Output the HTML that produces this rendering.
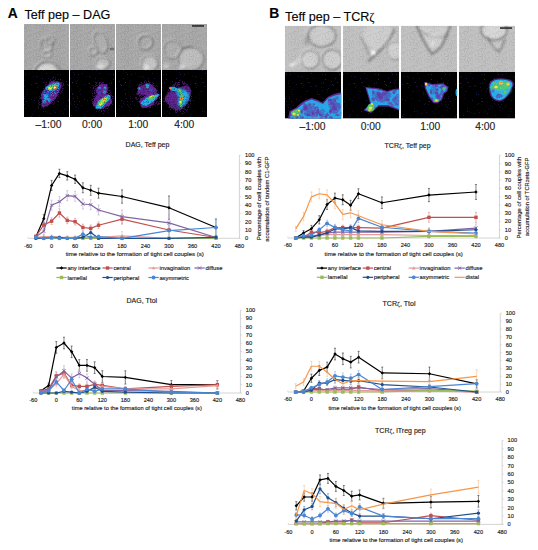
<!DOCTYPE html>
<html><head><meta charset="utf-8"><style>
html,body{margin:0;padding:0;background:#fff;}
svg{display:block;font-family:"Liberation Sans", sans-serif;}
text{stroke:#222;stroke-width:0.15px;}
</style></head><body>
<svg width="538" height="550" viewBox="0 0 538 550">
<defs><pattern id="mix" width="29" height="29" patternUnits="userSpaceOnUse"><ellipse cx="13.1" cy="16.2" rx="2.3" ry="1.5" fill="#6a2aa0" opacity="0.80"/><ellipse cx="17.0" cy="5.4" rx="1.6" ry="1.8" fill="#6a2aa0" opacity="0.92"/><ellipse cx="2.7" cy="8.8" rx="0.9" ry="2.1" fill="#6a2aa0" opacity="0.88"/><ellipse cx="1.2" cy="28.5" rx="2.3" ry="1.8" fill="#6a2aa0" opacity="0.85"/><ellipse cx="4.6" cy="0.4" rx="1.6" ry="0.9" fill="#6a2aa0" opacity="0.68"/><ellipse cx="7.0" cy="0.9" rx="1.5" ry="1.5" fill="#6a2aa0" opacity="0.94"/><ellipse cx="15.1" cy="18.6" rx="1.6" ry="1.9" fill="#6a2aa0" opacity="0.78"/><ellipse cx="8.1" cy="28.9" rx="2.4" ry="2.1" fill="#6a2aa0" opacity="0.88"/><ellipse cx="9.1" cy="6.7" rx="1.3" ry="0.9" fill="#6a2aa0" opacity="0.91"/><ellipse cx="11.6" cy="24.6" rx="1.4" ry="2.3" fill="#6a2aa0" opacity="0.94"/><ellipse cx="0.0" cy="6.1" rx="2.3" ry="1.6" fill="#6a2aa0" opacity="0.99"/><ellipse cx="11.5" cy="2.1" rx="1.8" ry="2.0" fill="#6a2aa0" opacity="0.71"/><ellipse cx="2.5" cy="9.6" rx="2.3" ry="2.0" fill="#6a2aa0" opacity="0.65"/><ellipse cx="7.1" cy="2.9" rx="0.9" ry="2.1" fill="#6a2aa0" opacity="0.67"/><ellipse cx="16.2" cy="13.0" rx="1.1" ry="2.0" fill="#6a2aa0" opacity="0.65"/><ellipse cx="18.7" cy="3.4" rx="1.5" ry="1.1" fill="#6a2aa0" opacity="0.71"/><ellipse cx="28.2" cy="23.3" rx="1.3" ry="2.2" fill="#6a2aa0" opacity="0.68"/><ellipse cx="11.4" cy="24.8" rx="1.8" ry="1.0" fill="#6a2aa0" opacity="1.00"/><ellipse cx="6.2" cy="7.5" rx="2.0" ry="1.3" fill="#6a2aa0" opacity="0.72"/><ellipse cx="2.1" cy="2.6" rx="1.7" ry="1.2" fill="#6a2aa0" opacity="0.84"/><ellipse cx="10.8" cy="13.1" rx="2.3" ry="1.6" fill="#6a2aa0" opacity="0.83"/><ellipse cx="25.1" cy="5.3" rx="1.0" ry="2.3" fill="#6a2aa0" opacity="0.93"/><ellipse cx="7.2" cy="5.5" rx="2.0" ry="2.3" fill="#6a2aa0" opacity="0.68"/><ellipse cx="27.6" cy="25.6" rx="1.8" ry="1.5" fill="#6a2aa0" opacity="0.64"/><ellipse cx="1.1" cy="27.9" rx="1.2" ry="1.9" fill="#6a2aa0" opacity="0.70"/><ellipse cx="23.9" cy="17.3" rx="1.3" ry="1.1" fill="#6a2aa0" opacity="0.89"/><ellipse cx="2.0" cy="6.6" rx="1.7" ry="2.2" fill="#6a2aa0" opacity="0.85"/><ellipse cx="8.1" cy="26.6" rx="1.1" ry="0.8" fill="#6a2aa0" opacity="0.71"/><ellipse cx="12.9" cy="1.8" rx="1.1" ry="1.4" fill="#6a2aa0" opacity="0.83"/><ellipse cx="3.8" cy="10.5" rx="2.2" ry="2.4" fill="#6a2aa0" opacity="0.86"/><ellipse cx="20.0" cy="16.9" rx="1.0" ry="0.9" fill="#6a2aa0" opacity="0.61"/><ellipse cx="26.4" cy="20.3" rx="2.3" ry="0.8" fill="#6a2aa0" opacity="0.85"/><ellipse cx="14.0" cy="21.2" rx="1.3" ry="2.4" fill="#6a2aa0" opacity="0.63"/><ellipse cx="15.8" cy="21.4" rx="2.2" ry="2.0" fill="#6a2aa0" opacity="0.88"/><ellipse cx="23.0" cy="26.5" rx="1.4" ry="1.9" fill="#6a2aa0" opacity="0.96"/><ellipse cx="25.3" cy="12.1" rx="2.1" ry="2.2" fill="#6a2aa0" opacity="0.83"/><ellipse cx="18.1" cy="11.1" rx="1.7" ry="1.8" fill="#6a2aa0" opacity="0.63"/><ellipse cx="18.5" cy="28.8" rx="2.2" ry="2.0" fill="#6a2aa0" opacity="0.76"/></pattern><pattern id="gn" width="17" height="17" patternUnits="userSpaceOnUse"><rect x="3" y="0" width="1" height="1" fill="#fff" opacity="0.05"/><rect x="5" y="0" width="1" height="1" fill="#000" opacity="0.06"/><rect x="11" y="0" width="1" height="1" fill="#fff" opacity="0.06"/><rect x="12" y="0" width="1" height="1" fill="#000" opacity="0.05"/><rect x="14" y="0" width="1" height="1" fill="#000" opacity="0.04"/><rect x="15" y="0" width="1" height="1" fill="#fff" opacity="0.08"/><rect x="0" y="1" width="1" height="1" fill="#fff" opacity="0.06"/><rect x="2" y="1" width="1" height="1" fill="#000" opacity="0.05"/><rect x="3" y="1" width="1" height="1" fill="#fff" opacity="0.09"/><rect x="4" y="1" width="1" height="1" fill="#fff" opacity="0.06"/><rect x="7" y="1" width="1" height="1" fill="#000" opacity="0.05"/><rect x="8" y="1" width="1" height="1" fill="#fff" opacity="0.09"/><rect x="10" y="1" width="1" height="1" fill="#fff" opacity="0.06"/><rect x="11" y="1" width="1" height="1" fill="#000" opacity="0.05"/><rect x="13" y="1" width="1" height="1" fill="#000" opacity="0.05"/><rect x="0" y="2" width="1" height="1" fill="#fff" opacity="0.10"/><rect x="2" y="2" width="1" height="1" fill="#000" opacity="0.03"/><rect x="3" y="2" width="1" height="1" fill="#fff" opacity="0.04"/><rect x="8" y="2" width="1" height="1" fill="#000" opacity="0.04"/><rect x="10" y="2" width="1" height="1" fill="#000" opacity="0.07"/><rect x="12" y="2" width="1" height="1" fill="#000" opacity="0.03"/><rect x="0" y="3" width="1" height="1" fill="#fff" opacity="0.10"/><rect x="2" y="3" width="1" height="1" fill="#000" opacity="0.05"/><rect x="3" y="3" width="1" height="1" fill="#000" opacity="0.03"/><rect x="6" y="3" width="1" height="1" fill="#000" opacity="0.04"/><rect x="14" y="3" width="1" height="1" fill="#fff" opacity="0.05"/><rect x="15" y="3" width="1" height="1" fill="#fff" opacity="0.08"/><rect x="16" y="3" width="1" height="1" fill="#000" opacity="0.05"/><rect x="1" y="4" width="1" height="1" fill="#fff" opacity="0.06"/><rect x="3" y="4" width="1" height="1" fill="#fff" opacity="0.09"/><rect x="4" y="4" width="1" height="1" fill="#fff" opacity="0.07"/><rect x="6" y="4" width="1" height="1" fill="#000" opacity="0.07"/><rect x="7" y="4" width="1" height="1" fill="#fff" opacity="0.08"/><rect x="9" y="4" width="1" height="1" fill="#000" opacity="0.07"/><rect x="10" y="4" width="1" height="1" fill="#fff" opacity="0.10"/><rect x="14" y="4" width="1" height="1" fill="#fff" opacity="0.09"/><rect x="16" y="4" width="1" height="1" fill="#000" opacity="0.05"/><rect x="3" y="5" width="1" height="1" fill="#000" opacity="0.07"/><rect x="4" y="5" width="1" height="1" fill="#000" opacity="0.07"/><rect x="5" y="5" width="1" height="1" fill="#000" opacity="0.05"/><rect x="7" y="5" width="1" height="1" fill="#000" opacity="0.04"/><rect x="10" y="5" width="1" height="1" fill="#fff" opacity="0.08"/><rect x="11" y="5" width="1" height="1" fill="#fff" opacity="0.07"/><rect x="12" y="5" width="1" height="1" fill="#fff" opacity="0.05"/><rect x="2" y="6" width="1" height="1" fill="#fff" opacity="0.07"/><rect x="5" y="6" width="1" height="1" fill="#fff" opacity="0.09"/><rect x="6" y="6" width="1" height="1" fill="#000" opacity="0.07"/><rect x="7" y="6" width="1" height="1" fill="#fff" opacity="0.07"/><rect x="9" y="6" width="1" height="1" fill="#000" opacity="0.06"/><rect x="12" y="6" width="1" height="1" fill="#000" opacity="0.08"/><rect x="15" y="6" width="1" height="1" fill="#fff" opacity="0.07"/><rect x="1" y="7" width="1" height="1" fill="#000" opacity="0.06"/><rect x="3" y="7" width="1" height="1" fill="#fff" opacity="0.10"/><rect x="6" y="7" width="1" height="1" fill="#000" opacity="0.05"/><rect x="7" y="7" width="1" height="1" fill="#fff" opacity="0.09"/><rect x="10" y="7" width="1" height="1" fill="#000" opacity="0.06"/><rect x="11" y="7" width="1" height="1" fill="#fff" opacity="0.05"/><rect x="13" y="7" width="1" height="1" fill="#000" opacity="0.04"/><rect x="2" y="8" width="1" height="1" fill="#000" opacity="0.07"/><rect x="3" y="8" width="1" height="1" fill="#000" opacity="0.06"/><rect x="5" y="8" width="1" height="1" fill="#000" opacity="0.06"/><rect x="10" y="8" width="1" height="1" fill="#000" opacity="0.04"/><rect x="14" y="8" width="1" height="1" fill="#fff" opacity="0.08"/><rect x="15" y="8" width="1" height="1" fill="#fff" opacity="0.05"/><rect x="0" y="9" width="1" height="1" fill="#fff" opacity="0.09"/><rect x="3" y="9" width="1" height="1" fill="#fff" opacity="0.05"/><rect x="4" y="9" width="1" height="1" fill="#fff" opacity="0.09"/><rect x="5" y="9" width="1" height="1" fill="#000" opacity="0.04"/><rect x="8" y="9" width="1" height="1" fill="#000" opacity="0.07"/><rect x="11" y="9" width="1" height="1" fill="#000" opacity="0.05"/><rect x="13" y="9" width="1" height="1" fill="#000" opacity="0.04"/><rect x="15" y="9" width="1" height="1" fill="#fff" opacity="0.10"/><rect x="16" y="9" width="1" height="1" fill="#000" opacity="0.06"/><rect x="3" y="10" width="1" height="1" fill="#000" opacity="0.03"/><rect x="4" y="10" width="1" height="1" fill="#000" opacity="0.03"/><rect x="8" y="10" width="1" height="1" fill="#000" opacity="0.04"/><rect x="9" y="10" width="1" height="1" fill="#000" opacity="0.07"/><rect x="10" y="10" width="1" height="1" fill="#fff" opacity="0.10"/><rect x="11" y="10" width="1" height="1" fill="#000" opacity="0.03"/><rect x="12" y="10" width="1" height="1" fill="#fff" opacity="0.07"/><rect x="2" y="11" width="1" height="1" fill="#000" opacity="0.07"/><rect x="3" y="11" width="1" height="1" fill="#fff" opacity="0.05"/><rect x="7" y="11" width="1" height="1" fill="#000" opacity="0.04"/><rect x="9" y="11" width="1" height="1" fill="#000" opacity="0.07"/><rect x="10" y="11" width="1" height="1" fill="#fff" opacity="0.08"/><rect x="11" y="11" width="1" height="1" fill="#fff" opacity="0.08"/><rect x="15" y="11" width="1" height="1" fill="#fff" opacity="0.09"/><rect x="0" y="12" width="1" height="1" fill="#fff" opacity="0.08"/><rect x="2" y="12" width="1" height="1" fill="#fff" opacity="0.06"/><rect x="3" y="12" width="1" height="1" fill="#fff" opacity="0.09"/><rect x="9" y="12" width="1" height="1" fill="#000" opacity="0.05"/><rect x="11" y="12" width="1" height="1" fill="#000" opacity="0.05"/><rect x="15" y="12" width="1" height="1" fill="#fff" opacity="0.08"/><rect x="4" y="13" width="1" height="1" fill="#fff" opacity="0.08"/><rect x="7" y="13" width="1" height="1" fill="#fff" opacity="0.04"/><rect x="12" y="13" width="1" height="1" fill="#000" opacity="0.04"/><rect x="14" y="13" width="1" height="1" fill="#000" opacity="0.04"/><rect x="15" y="13" width="1" height="1" fill="#fff" opacity="0.07"/><rect x="0" y="14" width="1" height="1" fill="#fff" opacity="0.07"/><rect x="1" y="14" width="1" height="1" fill="#fff" opacity="0.08"/><rect x="2" y="14" width="1" height="1" fill="#fff" opacity="0.04"/><rect x="5" y="14" width="1" height="1" fill="#000" opacity="0.08"/><rect x="6" y="14" width="1" height="1" fill="#000" opacity="0.05"/><rect x="7" y="14" width="1" height="1" fill="#000" opacity="0.05"/><rect x="9" y="14" width="1" height="1" fill="#000" opacity="0.08"/><rect x="3" y="15" width="1" height="1" fill="#000" opacity="0.04"/><rect x="4" y="15" width="1" height="1" fill="#000" opacity="0.04"/><rect x="7" y="15" width="1" height="1" fill="#fff" opacity="0.08"/><rect x="8" y="15" width="1" height="1" fill="#000" opacity="0.08"/><rect x="9" y="15" width="1" height="1" fill="#fff" opacity="0.04"/><rect x="10" y="15" width="1" height="1" fill="#fff" opacity="0.07"/><rect x="12" y="15" width="1" height="1" fill="#fff" opacity="0.05"/><rect x="14" y="15" width="1" height="1" fill="#fff" opacity="0.08"/><rect x="16" y="15" width="1" height="1" fill="#fff" opacity="0.09"/><rect x="1" y="16" width="1" height="1" fill="#000" opacity="0.06"/><rect x="3" y="16" width="1" height="1" fill="#000" opacity="0.03"/><rect x="5" y="16" width="1" height="1" fill="#000" opacity="0.05"/><rect x="13" y="16" width="1" height="1" fill="#fff" opacity="0.10"/><rect x="16" y="16" width="1" height="1" fill="#000" opacity="0.07"/></pattern><pattern id="spk" width="53" height="53" patternUnits="userSpaceOnUse"><rect x="50" y="32" width="1" height="1" fill="#24306e" opacity="0.50"/><rect x="17" y="17" width="1" height="1" fill="#24306e" opacity="0.44"/><rect x="36" y="44" width="1" height="1" fill="#24306e" opacity="0.27"/><rect x="17" y="48" width="1" height="1" fill="#4a2a8c" opacity="0.27"/><rect x="15" y="32" width="1" height="1" fill="#6a3aa0" opacity="0.52"/><rect x="43" y="2" width="1" height="1" fill="#6a3aa0" opacity="0.22"/><rect x="17" y="16" width="1" height="1" fill="#5c3a98" opacity="0.21"/><rect x="2" y="6" width="1" height="1" fill="#4a2a8c" opacity="0.39"/><rect x="4" y="48" width="1" height="1" fill="#3b1d6e" opacity="0.52"/><rect x="10" y="35" width="1" height="1" fill="#4a2a8c" opacity="0.42"/><rect x="23" y="30" width="1" height="1" fill="#5c3a98" opacity="0.32"/><rect x="21" y="21" width="1" height="1" fill="#5c3a98" opacity="0.46"/><rect x="4" y="51" width="1" height="1" fill="#3b1d6e" opacity="0.36"/><rect x="52" y="39" width="1" height="1" fill="#1e4080" opacity="0.47"/><rect x="13" y="28" width="1" height="1" fill="#5c3a98" opacity="0.46"/><rect x="24" y="51" width="1" height="1" fill="#4a2a8c" opacity="0.33"/><rect x="41" y="38" width="1" height="1" fill="#2a2a70" opacity="0.30"/><rect x="48" y="47" width="1" height="1" fill="#1e4080" opacity="0.52"/><rect x="27" y="41" width="1" height="1" fill="#2a2a70" opacity="0.40"/><rect x="29" y="20" width="1" height="1" fill="#3b1d6e" opacity="0.39"/><rect x="27" y="36" width="1" height="1" fill="#24306e" opacity="0.37"/><rect x="43" y="29" width="1" height="1" fill="#2a2a70" opacity="0.49"/><rect x="0" y="4" width="1" height="1" fill="#2a2a70" opacity="0.27"/><rect x="42" y="38" width="1" height="1" fill="#3b1d6e" opacity="0.44"/><rect x="31" y="46" width="1" height="1" fill="#1e4080" opacity="0.44"/><rect x="18" y="9" width="1" height="1" fill="#4a2a8c" opacity="0.33"/><rect x="46" y="20" width="1" height="1" fill="#2a2a70" opacity="0.52"/><rect x="20" y="45" width="1" height="1" fill="#5c3a98" opacity="0.40"/><rect x="43" y="17" width="1" height="1" fill="#5c3a98" opacity="0.39"/><rect x="19" y="29" width="1" height="1" fill="#2a2a70" opacity="0.28"/><rect x="46" y="33" width="1" height="1" fill="#4a2a8c" opacity="0.23"/><rect x="23" y="1" width="1" height="1" fill="#2a2a70" opacity="0.44"/><rect x="37" y="24" width="1" height="1" fill="#1e4080" opacity="0.27"/><rect x="36" y="23" width="1" height="1" fill="#1e4080" opacity="0.34"/><rect x="9" y="37" width="1" height="1" fill="#24306e" opacity="0.26"/><rect x="5" y="48" width="1" height="1" fill="#5c3a98" opacity="0.51"/><rect x="18" y="51" width="1" height="1" fill="#3b1d6e" opacity="0.28"/><rect x="3" y="34" width="1" height="1" fill="#4a2a8c" opacity="0.40"/><rect x="1" y="41" width="1" height="1" fill="#1e4080" opacity="0.48"/><rect x="4" y="37" width="1" height="1" fill="#24306e" opacity="0.31"/><rect x="34" y="5" width="1" height="1" fill="#2a2a70" opacity="0.23"/><rect x="47" y="6" width="1" height="1" fill="#2a2a70" opacity="0.23"/><rect x="40" y="41" width="1" height="1" fill="#4a2a8c" opacity="0.23"/><rect x="52" y="41" width="1" height="1" fill="#5c3a98" opacity="0.29"/><rect x="14" y="31" width="1" height="1" fill="#1e4080" opacity="0.52"/><rect x="21" y="48" width="1" height="1" fill="#5c3a98" opacity="0.34"/><rect x="21" y="51" width="1" height="1" fill="#2a2a70" opacity="0.44"/><rect x="31" y="31" width="1" height="1" fill="#24306e" opacity="0.48"/><rect x="4" y="45" width="1" height="1" fill="#24306e" opacity="0.52"/><rect x="26" y="48" width="1" height="1" fill="#1e4080" opacity="0.54"/><rect x="22" y="0" width="1" height="1" fill="#1e4080" opacity="0.33"/><rect x="5" y="29" width="1" height="1" fill="#24306e" opacity="0.42"/><rect x="33" y="23" width="1" height="1" fill="#6a3aa0" opacity="0.20"/><rect x="7" y="26" width="1" height="1" fill="#5c3a98" opacity="0.52"/><rect x="15" y="47" width="1" height="1" fill="#4a2a8c" opacity="0.55"/><rect x="24" y="43" width="1" height="1" fill="#4a2a8c" opacity="0.31"/><rect x="24" y="27" width="1" height="1" fill="#24306e" opacity="0.30"/><rect x="3" y="30" width="1" height="1" fill="#2a2a70" opacity="0.46"/><rect x="19" y="41" width="1" height="1" fill="#4a2a8c" opacity="0.47"/><rect x="11" y="3" width="1" height="1" fill="#1e4080" opacity="0.36"/><rect x="37" y="30" width="1" height="1" fill="#1e4080" opacity="0.21"/><rect x="6" y="12" width="1" height="1" fill="#4a2a8c" opacity="0.33"/><rect x="37" y="15" width="1" height="1" fill="#24306e" opacity="0.45"/><rect x="38" y="32" width="1" height="1" fill="#4a2a8c" opacity="0.35"/><rect x="17" y="25" width="1" height="1" fill="#4a2a8c" opacity="0.52"/><rect x="19" y="40" width="1" height="1" fill="#24306e" opacity="0.53"/><rect x="35" y="30" width="1" height="1" fill="#1e4080" opacity="0.29"/><rect x="25" y="21" width="1" height="1" fill="#6a3aa0" opacity="0.39"/><rect x="5" y="30" width="1" height="1" fill="#1e4080" opacity="0.28"/><rect x="3" y="13" width="1" height="1" fill="#4a2a8c" opacity="0.48"/><rect x="24" y="33" width="1" height="1" fill="#1e4080" opacity="0.38"/><rect x="17" y="50" width="1" height="1" fill="#3b1d6e" opacity="0.43"/><rect x="15" y="0" width="1" height="1" fill="#1e4080" opacity="0.37"/><rect x="23" y="28" width="1" height="1" fill="#1e4080" opacity="0.29"/><rect x="26" y="38" width="1" height="1" fill="#1e4080" opacity="0.26"/><rect x="10" y="49" width="1" height="1" fill="#2a2a70" opacity="0.25"/><rect x="51" y="33" width="1" height="1" fill="#4a2a8c" opacity="0.42"/><rect x="39" y="17" width="1" height="1" fill="#24306e" opacity="0.39"/><rect x="9" y="36" width="1" height="1" fill="#1e4080" opacity="0.26"/><rect x="13" y="52" width="1" height="1" fill="#1e4080" opacity="0.25"/><rect x="8" y="5" width="1" height="1" fill="#2a2a70" opacity="0.29"/><rect x="45" y="33" width="1" height="1" fill="#3b1d6e" opacity="0.51"/><rect x="44" y="29" width="1" height="1" fill="#3b1d6e" opacity="0.53"/><rect x="37" y="34" width="1" height="1" fill="#1e4080" opacity="0.38"/><rect x="1" y="50" width="1" height="1" fill="#4a2a8c" opacity="0.35"/><rect x="43" y="5" width="1" height="1" fill="#1e4080" opacity="0.49"/><rect x="13" y="2" width="1" height="1" fill="#24306e" opacity="0.34"/><rect x="31" y="10" width="1" height="1" fill="#1e4080" opacity="0.54"/><rect x="20" y="19" width="1" height="1" fill="#5c3a98" opacity="0.23"/><rect x="19" y="29" width="1" height="1" fill="#6a3aa0" opacity="0.45"/><rect x="23" y="4" width="1" height="1" fill="#6a3aa0" opacity="0.25"/><rect x="42" y="25" width="1" height="1" fill="#6a3aa0" opacity="0.36"/><rect x="50" y="7" width="1" height="1" fill="#6a3aa0" opacity="0.36"/><rect x="24" y="45" width="1" height="1" fill="#6a3aa0" opacity="0.37"/><rect x="18" y="36" width="1" height="1" fill="#3b1d6e" opacity="0.36"/><rect x="0" y="51" width="1" height="1" fill="#6a3aa0" opacity="0.27"/><rect x="39" y="9" width="1" height="1" fill="#2a2a70" opacity="0.42"/><rect x="34" y="47" width="1" height="1" fill="#2a2a70" opacity="0.53"/><rect x="48" y="25" width="1" height="1" fill="#24306e" opacity="0.43"/><rect x="16" y="12" width="1" height="1" fill="#4a2a8c" opacity="0.33"/><rect x="7" y="21" width="1" height="1" fill="#2a2a70" opacity="0.53"/><rect x="36" y="30" width="1" height="1" fill="#6a3aa0" opacity="0.42"/><rect x="28" y="52" width="1" height="1" fill="#5c3a98" opacity="0.23"/><rect x="9" y="39" width="1" height="1" fill="#3b1d6e" opacity="0.25"/><rect x="40" y="45" width="1" height="1" fill="#4a2a8c" opacity="0.26"/><rect x="25" y="2" width="1" height="1" fill="#1e4080" opacity="0.36"/><rect x="45" y="5" width="1" height="1" fill="#3b1d6e" opacity="0.28"/><rect x="10" y="7" width="1" height="1" fill="#5c3a98" opacity="0.34"/><rect x="4" y="21" width="1" height="1" fill="#1e4080" opacity="0.35"/><rect x="32" y="8" width="1" height="1" fill="#6a3aa0" opacity="0.27"/></pattern><pattern id="mott" width="19" height="19" patternUnits="userSpaceOnUse"><rect x="0" y="0" width="1" height="1" fill="#7a2aa8" opacity="0.85"/><rect x="6" y="0" width="1" height="1" fill="#7a2aa8" opacity="0.89"/><rect x="7" y="0" width="1" height="1" fill="#7a2aa8" opacity="0.99"/><rect x="9" y="0" width="1" height="1" fill="#7a2aa8" opacity="0.59"/><rect x="10" y="0" width="1" height="1" fill="#7a2aa8" opacity="0.72"/><rect x="12" y="0" width="1" height="1" fill="#7a2aa8" opacity="0.67"/><rect x="13" y="0" width="1" height="1" fill="#7a2aa8" opacity="0.55"/><rect x="15" y="0" width="1" height="1" fill="#7a2aa8" opacity="0.77"/><rect x="16" y="0" width="1" height="1" fill="#7a2aa8" opacity="0.62"/><rect x="1" y="1" width="1" height="1" fill="#7a2aa8" opacity="0.97"/><rect x="6" y="1" width="1" height="1" fill="#7a2aa8" opacity="0.83"/><rect x="8" y="1" width="1" height="1" fill="#7a2aa8" opacity="0.74"/><rect x="11" y="1" width="1" height="1" fill="#7a2aa8" opacity="0.94"/><rect x="12" y="1" width="1" height="1" fill="#7a2aa8" opacity="0.94"/><rect x="15" y="1" width="1" height="1" fill="#7a2aa8" opacity="0.78"/><rect x="17" y="1" width="1" height="1" fill="#7a2aa8" opacity="0.96"/><rect x="18" y="1" width="1" height="1" fill="#7a2aa8" opacity="0.87"/><rect x="2" y="2" width="1" height="1" fill="#7a2aa8" opacity="0.97"/><rect x="3" y="2" width="1" height="1" fill="#7a2aa8" opacity="0.84"/><rect x="7" y="2" width="1" height="1" fill="#7a2aa8" opacity="0.80"/><rect x="14" y="2" width="1" height="1" fill="#7a2aa8" opacity="0.88"/><rect x="1" y="3" width="1" height="1" fill="#7a2aa8" opacity="0.71"/><rect x="2" y="3" width="1" height="1" fill="#7a2aa8" opacity="0.76"/><rect x="3" y="3" width="1" height="1" fill="#7a2aa8" opacity="0.70"/><rect x="5" y="3" width="1" height="1" fill="#7a2aa8" opacity="0.62"/><rect x="7" y="3" width="1" height="1" fill="#7a2aa8" opacity="0.89"/><rect x="12" y="3" width="1" height="1" fill="#7a2aa8" opacity="0.67"/><rect x="17" y="3" width="1" height="1" fill="#7a2aa8" opacity="0.94"/><rect x="3" y="4" width="1" height="1" fill="#7a2aa8" opacity="0.56"/><rect x="8" y="4" width="1" height="1" fill="#7a2aa8" opacity="0.95"/><rect x="9" y="4" width="1" height="1" fill="#7a2aa8" opacity="0.81"/><rect x="12" y="4" width="1" height="1" fill="#7a2aa8" opacity="0.89"/><rect x="15" y="4" width="1" height="1" fill="#7a2aa8" opacity="0.92"/><rect x="16" y="4" width="1" height="1" fill="#7a2aa8" opacity="0.94"/><rect x="0" y="5" width="1" height="1" fill="#7a2aa8" opacity="0.95"/><rect x="11" y="5" width="1" height="1" fill="#7a2aa8" opacity="0.82"/><rect x="13" y="5" width="1" height="1" fill="#7a2aa8" opacity="0.54"/><rect x="15" y="5" width="1" height="1" fill="#7a2aa8" opacity="0.94"/><rect x="18" y="5" width="1" height="1" fill="#7a2aa8" opacity="0.86"/><rect x="0" y="6" width="1" height="1" fill="#7a2aa8" opacity="0.59"/><rect x="4" y="6" width="1" height="1" fill="#7a2aa8" opacity="0.85"/><rect x="5" y="6" width="1" height="1" fill="#7a2aa8" opacity="0.65"/><rect x="7" y="6" width="1" height="1" fill="#7a2aa8" opacity="0.66"/><rect x="8" y="6" width="1" height="1" fill="#7a2aa8" opacity="0.89"/><rect x="11" y="6" width="1" height="1" fill="#7a2aa8" opacity="0.93"/><rect x="13" y="6" width="1" height="1" fill="#7a2aa8" opacity="0.66"/><rect x="16" y="6" width="1" height="1" fill="#7a2aa8" opacity="0.82"/><rect x="1" y="7" width="1" height="1" fill="#7a2aa8" opacity="0.97"/><rect x="4" y="7" width="1" height="1" fill="#7a2aa8" opacity="0.91"/><rect x="6" y="7" width="1" height="1" fill="#7a2aa8" opacity="0.71"/><rect x="12" y="7" width="1" height="1" fill="#7a2aa8" opacity="0.93"/><rect x="13" y="7" width="1" height="1" fill="#7a2aa8" opacity="0.85"/><rect x="14" y="7" width="1" height="1" fill="#7a2aa8" opacity="0.86"/><rect x="16" y="7" width="1" height="1" fill="#7a2aa8" opacity="0.64"/><rect x="0" y="8" width="1" height="1" fill="#7a2aa8" opacity="0.76"/><rect x="3" y="8" width="1" height="1" fill="#7a2aa8" opacity="0.61"/><rect x="4" y="8" width="1" height="1" fill="#7a2aa8" opacity="0.83"/><rect x="6" y="8" width="1" height="1" fill="#7a2aa8" opacity="0.96"/><rect x="7" y="8" width="1" height="1" fill="#7a2aa8" opacity="0.95"/><rect x="8" y="8" width="1" height="1" fill="#7a2aa8" opacity="0.79"/><rect x="12" y="8" width="1" height="1" fill="#7a2aa8" opacity="0.99"/><rect x="13" y="8" width="1" height="1" fill="#7a2aa8" opacity="0.59"/><rect x="15" y="8" width="1" height="1" fill="#7a2aa8" opacity="0.90"/><rect x="16" y="8" width="1" height="1" fill="#7a2aa8" opacity="0.95"/><rect x="1" y="9" width="1" height="1" fill="#7a2aa8" opacity="0.95"/><rect x="2" y="9" width="1" height="1" fill="#7a2aa8" opacity="0.53"/><rect x="5" y="9" width="1" height="1" fill="#7a2aa8" opacity="0.74"/><rect x="6" y="9" width="1" height="1" fill="#7a2aa8" opacity="0.65"/><rect x="14" y="9" width="1" height="1" fill="#7a2aa8" opacity="0.72"/><rect x="17" y="9" width="1" height="1" fill="#7a2aa8" opacity="0.86"/><rect x="0" y="10" width="1" height="1" fill="#7a2aa8" opacity="0.77"/><rect x="3" y="10" width="1" height="1" fill="#7a2aa8" opacity="0.60"/><rect x="5" y="10" width="1" height="1" fill="#7a2aa8" opacity="0.72"/><rect x="7" y="10" width="1" height="1" fill="#7a2aa8" opacity="0.80"/><rect x="13" y="10" width="1" height="1" fill="#7a2aa8" opacity="0.56"/><rect x="14" y="10" width="1" height="1" fill="#7a2aa8" opacity="0.82"/><rect x="18" y="10" width="1" height="1" fill="#7a2aa8" opacity="0.71"/><rect x="9" y="11" width="1" height="1" fill="#7a2aa8" opacity="0.75"/><rect x="13" y="11" width="1" height="1" fill="#7a2aa8" opacity="0.73"/><rect x="17" y="11" width="1" height="1" fill="#7a2aa8" opacity="0.88"/><rect x="0" y="12" width="1" height="1" fill="#7a2aa8" opacity="0.87"/><rect x="3" y="12" width="1" height="1" fill="#7a2aa8" opacity="0.70"/><rect x="5" y="12" width="1" height="1" fill="#7a2aa8" opacity="0.78"/><rect x="13" y="12" width="1" height="1" fill="#7a2aa8" opacity="0.56"/><rect x="16" y="12" width="1" height="1" fill="#7a2aa8" opacity="0.61"/><rect x="17" y="12" width="1" height="1" fill="#7a2aa8" opacity="0.97"/><rect x="0" y="13" width="1" height="1" fill="#7a2aa8" opacity="0.58"/><rect x="8" y="13" width="1" height="1" fill="#7a2aa8" opacity="0.93"/><rect x="10" y="13" width="1" height="1" fill="#7a2aa8" opacity="0.69"/><rect x="11" y="13" width="1" height="1" fill="#7a2aa8" opacity="0.71"/><rect x="12" y="13" width="1" height="1" fill="#7a2aa8" opacity="0.90"/><rect x="2" y="14" width="1" height="1" fill="#7a2aa8" opacity="0.74"/><rect x="5" y="14" width="1" height="1" fill="#7a2aa8" opacity="0.64"/><rect x="13" y="14" width="1" height="1" fill="#7a2aa8" opacity="0.55"/><rect x="14" y="14" width="1" height="1" fill="#7a2aa8" opacity="0.86"/><rect x="16" y="14" width="1" height="1" fill="#7a2aa8" opacity="0.62"/><rect x="18" y="14" width="1" height="1" fill="#7a2aa8" opacity="1.00"/><rect x="4" y="15" width="1" height="1" fill="#7a2aa8" opacity="0.94"/><rect x="6" y="15" width="1" height="1" fill="#7a2aa8" opacity="0.80"/><rect x="8" y="15" width="1" height="1" fill="#7a2aa8" opacity="0.76"/><rect x="9" y="15" width="1" height="1" fill="#7a2aa8" opacity="0.60"/><rect x="15" y="15" width="1" height="1" fill="#7a2aa8" opacity="0.73"/><rect x="2" y="16" width="1" height="1" fill="#7a2aa8" opacity="0.76"/><rect x="4" y="16" width="1" height="1" fill="#7a2aa8" opacity="0.69"/><rect x="6" y="16" width="1" height="1" fill="#7a2aa8" opacity="0.92"/><rect x="9" y="16" width="1" height="1" fill="#7a2aa8" opacity="0.88"/><rect x="12" y="16" width="1" height="1" fill="#7a2aa8" opacity="0.93"/><rect x="15" y="16" width="1" height="1" fill="#7a2aa8" opacity="0.89"/><rect x="18" y="16" width="1" height="1" fill="#7a2aa8" opacity="0.90"/><rect x="0" y="17" width="1" height="1" fill="#7a2aa8" opacity="0.75"/><rect x="3" y="17" width="1" height="1" fill="#7a2aa8" opacity="0.85"/><rect x="4" y="17" width="1" height="1" fill="#7a2aa8" opacity="0.96"/><rect x="5" y="17" width="1" height="1" fill="#7a2aa8" opacity="0.88"/><rect x="13" y="17" width="1" height="1" fill="#7a2aa8" opacity="0.93"/><rect x="14" y="17" width="1" height="1" fill="#7a2aa8" opacity="0.96"/><rect x="16" y="17" width="1" height="1" fill="#7a2aa8" opacity="0.95"/><rect x="18" y="17" width="1" height="1" fill="#7a2aa8" opacity="0.69"/><rect x="1" y="18" width="1" height="1" fill="#7a2aa8" opacity="0.86"/><rect x="3" y="18" width="1" height="1" fill="#7a2aa8" opacity="0.52"/><rect x="4" y="18" width="1" height="1" fill="#7a2aa8" opacity="0.69"/><rect x="5" y="18" width="1" height="1" fill="#7a2aa8" opacity="0.91"/><rect x="11" y="18" width="1" height="1" fill="#7a2aa8" opacity="0.85"/><rect x="12" y="18" width="1" height="1" fill="#7a2aa8" opacity="0.54"/><rect x="13" y="18" width="1" height="1" fill="#7a2aa8" opacity="0.77"/><rect x="15" y="18" width="1" height="1" fill="#7a2aa8" opacity="0.53"/></pattern><pattern id="mott2" width="17" height="17" patternUnits="userSpaceOnUse"><rect x="6" y="0" width="1" height="1" fill="#2a9ae0" opacity="0.80"/><rect x="9" y="0" width="1" height="1" fill="#2a9ae0" opacity="0.76"/><rect x="12" y="0" width="1" height="1" fill="#2a9ae0" opacity="0.77"/><rect x="15" y="0" width="1" height="1" fill="#2a9ae0" opacity="0.91"/><rect x="3" y="1" width="1" height="1" fill="#2a9ae0" opacity="0.51"/><rect x="5" y="1" width="1" height="1" fill="#2a9ae0" opacity="0.70"/><rect x="6" y="1" width="1" height="1" fill="#2a9ae0" opacity="0.60"/><rect x="7" y="1" width="1" height="1" fill="#2a9ae0" opacity="0.67"/><rect x="11" y="2" width="1" height="1" fill="#2a9ae0" opacity="0.81"/><rect x="5" y="3" width="1" height="1" fill="#2a9ae0" opacity="0.93"/><rect x="6" y="3" width="1" height="1" fill="#2a9ae0" opacity="0.78"/><rect x="7" y="3" width="1" height="1" fill="#2a9ae0" opacity="0.99"/><rect x="9" y="3" width="1" height="1" fill="#2a9ae0" opacity="0.87"/><rect x="11" y="3" width="1" height="1" fill="#2a9ae0" opacity="0.60"/><rect x="9" y="4" width="1" height="1" fill="#2a9ae0" opacity="0.58"/><rect x="12" y="4" width="1" height="1" fill="#2a9ae0" opacity="0.68"/><rect x="2" y="5" width="1" height="1" fill="#2a9ae0" opacity="0.53"/><rect x="6" y="5" width="1" height="1" fill="#2a9ae0" opacity="0.86"/><rect x="8" y="5" width="1" height="1" fill="#2a9ae0" opacity="0.79"/><rect x="10" y="5" width="1" height="1" fill="#2a9ae0" opacity="0.64"/><rect x="1" y="6" width="1" height="1" fill="#2a9ae0" opacity="0.94"/><rect x="7" y="6" width="1" height="1" fill="#2a9ae0" opacity="0.60"/><rect x="10" y="6" width="1" height="1" fill="#2a9ae0" opacity="0.50"/><rect x="13" y="6" width="1" height="1" fill="#2a9ae0" opacity="0.67"/><rect x="14" y="6" width="1" height="1" fill="#2a9ae0" opacity="0.89"/><rect x="0" y="7" width="1" height="1" fill="#2a9ae0" opacity="0.68"/><rect x="3" y="7" width="1" height="1" fill="#2a9ae0" opacity="0.81"/><rect x="6" y="7" width="1" height="1" fill="#2a9ae0" opacity="0.65"/><rect x="7" y="7" width="1" height="1" fill="#2a9ae0" opacity="0.90"/><rect x="10" y="7" width="1" height="1" fill="#2a9ae0" opacity="0.93"/><rect x="15" y="7" width="1" height="1" fill="#2a9ae0" opacity="0.78"/><rect x="16" y="7" width="1" height="1" fill="#2a9ae0" opacity="0.73"/><rect x="1" y="8" width="1" height="1" fill="#2a9ae0" opacity="0.68"/><rect x="4" y="8" width="1" height="1" fill="#2a9ae0" opacity="0.96"/><rect x="0" y="9" width="1" height="1" fill="#2a9ae0" opacity="0.57"/><rect x="9" y="9" width="1" height="1" fill="#2a9ae0" opacity="0.83"/><rect x="12" y="9" width="1" height="1" fill="#2a9ae0" opacity="0.59"/><rect x="13" y="9" width="1" height="1" fill="#2a9ae0" opacity="0.57"/><rect x="15" y="9" width="1" height="1" fill="#2a9ae0" opacity="0.67"/><rect x="16" y="9" width="1" height="1" fill="#2a9ae0" opacity="0.69"/><rect x="0" y="10" width="1" height="1" fill="#2a9ae0" opacity="0.51"/><rect x="2" y="10" width="1" height="1" fill="#2a9ae0" opacity="0.55"/><rect x="6" y="10" width="1" height="1" fill="#2a9ae0" opacity="0.59"/><rect x="7" y="10" width="1" height="1" fill="#2a9ae0" opacity="0.79"/><rect x="16" y="10" width="1" height="1" fill="#2a9ae0" opacity="0.70"/><rect x="4" y="11" width="1" height="1" fill="#2a9ae0" opacity="0.87"/><rect x="7" y="11" width="1" height="1" fill="#2a9ae0" opacity="0.81"/><rect x="14" y="11" width="1" height="1" fill="#2a9ae0" opacity="0.87"/><rect x="5" y="12" width="1" height="1" fill="#2a9ae0" opacity="0.96"/><rect x="9" y="12" width="1" height="1" fill="#2a9ae0" opacity="0.53"/><rect x="15" y="12" width="1" height="1" fill="#2a9ae0" opacity="0.73"/><rect x="0" y="13" width="1" height="1" fill="#2a9ae0" opacity="0.98"/><rect x="3" y="13" width="1" height="1" fill="#2a9ae0" opacity="0.59"/><rect x="6" y="13" width="1" height="1" fill="#2a9ae0" opacity="0.56"/><rect x="7" y="13" width="1" height="1" fill="#2a9ae0" opacity="0.63"/><rect x="9" y="13" width="1" height="1" fill="#2a9ae0" opacity="0.52"/><rect x="13" y="13" width="1" height="1" fill="#2a9ae0" opacity="0.51"/><rect x="0" y="14" width="1" height="1" fill="#2a9ae0" opacity="0.55"/><rect x="4" y="14" width="1" height="1" fill="#2a9ae0" opacity="0.75"/><rect x="5" y="14" width="1" height="1" fill="#2a9ae0" opacity="0.93"/><rect x="7" y="14" width="1" height="1" fill="#2a9ae0" opacity="0.97"/><rect x="9" y="14" width="1" height="1" fill="#2a9ae0" opacity="0.67"/><rect x="12" y="14" width="1" height="1" fill="#2a9ae0" opacity="0.64"/><rect x="15" y="14" width="1" height="1" fill="#2a9ae0" opacity="0.84"/><rect x="1" y="15" width="1" height="1" fill="#2a9ae0" opacity="0.82"/><rect x="14" y="15" width="1" height="1" fill="#2a9ae0" opacity="0.60"/><rect x="16" y="15" width="1" height="1" fill="#2a9ae0" opacity="0.79"/><rect x="0" y="16" width="1" height="1" fill="#2a9ae0" opacity="0.64"/><rect x="5" y="16" width="1" height="1" fill="#2a9ae0" opacity="0.53"/><rect x="6" y="16" width="1" height="1" fill="#2a9ae0" opacity="0.86"/><rect x="9" y="16" width="1" height="1" fill="#2a9ae0" opacity="0.54"/><rect x="14" y="16" width="1" height="1" fill="#2a9ae0" opacity="0.56"/><rect x="15" y="16" width="1" height="1" fill="#2a9ae0" opacity="0.76"/></pattern><pattern id="drk" width="13" height="13" patternUnits="userSpaceOnUse"><rect x="1" y="0" width="1" height="1" fill="#000" opacity="0.46"/><rect x="4" y="0" width="1" height="1" fill="#000" opacity="0.72"/><rect x="5" y="0" width="1" height="1" fill="#000" opacity="0.64"/><rect x="6" y="0" width="1" height="1" fill="#000" opacity="0.61"/><rect x="7" y="0" width="1" height="1" fill="#000" opacity="0.72"/><rect x="12" y="0" width="1" height="1" fill="#000" opacity="0.73"/><rect x="0" y="1" width="1" height="1" fill="#000" opacity="0.71"/><rect x="1" y="1" width="1" height="1" fill="#000" opacity="0.59"/><rect x="5" y="1" width="1" height="1" fill="#000" opacity="0.45"/><rect x="8" y="1" width="1" height="1" fill="#000" opacity="0.73"/><rect x="10" y="1" width="1" height="1" fill="#000" opacity="0.80"/><rect x="11" y="1" width="1" height="1" fill="#000" opacity="0.42"/><rect x="5" y="2" width="1" height="1" fill="#000" opacity="0.44"/><rect x="6" y="2" width="1" height="1" fill="#000" opacity="0.65"/><rect x="9" y="2" width="1" height="1" fill="#000" opacity="0.51"/><rect x="10" y="2" width="1" height="1" fill="#000" opacity="0.79"/><rect x="12" y="2" width="1" height="1" fill="#000" opacity="0.67"/><rect x="0" y="3" width="1" height="1" fill="#000" opacity="0.43"/><rect x="10" y="3" width="1" height="1" fill="#000" opacity="0.80"/><rect x="11" y="3" width="1" height="1" fill="#000" opacity="0.88"/><rect x="7" y="4" width="1" height="1" fill="#000" opacity="0.59"/><rect x="11" y="4" width="1" height="1" fill="#000" opacity="0.61"/><rect x="2" y="5" width="1" height="1" fill="#000" opacity="0.90"/><rect x="4" y="5" width="1" height="1" fill="#000" opacity="0.52"/><rect x="9" y="5" width="1" height="1" fill="#000" opacity="0.70"/><rect x="0" y="6" width="1" height="1" fill="#000" opacity="0.45"/><rect x="1" y="6" width="1" height="1" fill="#000" opacity="0.85"/><rect x="4" y="6" width="1" height="1" fill="#000" opacity="0.68"/><rect x="5" y="6" width="1" height="1" fill="#000" opacity="0.71"/><rect x="8" y="6" width="1" height="1" fill="#000" opacity="0.81"/><rect x="9" y="6" width="1" height="1" fill="#000" opacity="0.80"/><rect x="10" y="6" width="1" height="1" fill="#000" opacity="0.77"/><rect x="12" y="6" width="1" height="1" fill="#000" opacity="0.71"/><rect x="7" y="7" width="1" height="1" fill="#000" opacity="0.51"/><rect x="12" y="7" width="1" height="1" fill="#000" opacity="0.90"/><rect x="1" y="8" width="1" height="1" fill="#000" opacity="0.89"/><rect x="3" y="8" width="1" height="1" fill="#000" opacity="0.71"/><rect x="4" y="8" width="1" height="1" fill="#000" opacity="0.70"/><rect x="5" y="8" width="1" height="1" fill="#000" opacity="0.44"/><rect x="10" y="8" width="1" height="1" fill="#000" opacity="0.56"/><rect x="12" y="8" width="1" height="1" fill="#000" opacity="0.59"/><rect x="4" y="9" width="1" height="1" fill="#000" opacity="0.58"/><rect x="11" y="9" width="1" height="1" fill="#000" opacity="0.74"/><rect x="0" y="10" width="1" height="1" fill="#000" opacity="0.88"/><rect x="3" y="10" width="1" height="1" fill="#000" opacity="0.78"/><rect x="4" y="10" width="1" height="1" fill="#000" opacity="0.49"/><rect x="5" y="10" width="1" height="1" fill="#000" opacity="0.78"/><rect x="8" y="10" width="1" height="1" fill="#000" opacity="0.69"/><rect x="0" y="11" width="1" height="1" fill="#000" opacity="0.69"/><rect x="1" y="11" width="1" height="1" fill="#000" opacity="0.60"/><rect x="2" y="11" width="1" height="1" fill="#000" opacity="0.53"/><rect x="3" y="11" width="1" height="1" fill="#000" opacity="0.47"/><rect x="4" y="11" width="1" height="1" fill="#000" opacity="0.54"/><rect x="5" y="11" width="1" height="1" fill="#000" opacity="0.90"/><rect x="8" y="11" width="1" height="1" fill="#000" opacity="0.47"/><rect x="0" y="12" width="1" height="1" fill="#000" opacity="0.67"/><rect x="7" y="12" width="1" height="1" fill="#000" opacity="0.44"/><rect x="9" y="12" width="1" height="1" fill="#000" opacity="0.78"/></pattern><filter id="b03" x="-50%" y="-50%" width="200%" height="200%"><feGaussianBlur stdDeviation="0.35"/></filter>
<filter id="b05" x="-50%" y="-50%" width="200%" height="200%"><feGaussianBlur stdDeviation="0.5"/></filter>
<filter id="b08" x="-50%" y="-50%" width="200%" height="200%"><feGaussianBlur stdDeviation="0.8"/></filter>
<filter id="b1" x="-50%" y="-50%" width="200%" height="200%"><feGaussianBlur stdDeviation="1"/></filter>
<filter id="b15" x="-50%" y="-50%" width="200%" height="200%"><feGaussianBlur stdDeviation="1.5"/></filter>
<filter id="b2" x="-50%" y="-50%" width="200%" height="200%"><feGaussianBlur stdDeviation="2"/></filter>
<filter id="b3" x="-50%" y="-50%" width="200%" height="200%"><feGaussianBlur stdDeviation="3"/></filter>
</defs>
<rect width="538" height="550" fill="#fff"/><text x="7.8" y="17.9" font-size="13.8" font-weight="bold">A</text><text x="24.5" y="19.2" font-size="12.6">Teff pep – DAG</text><text x="269.2" y="17.7" font-size="13.8" font-weight="bold">B</text><text x="285.1" y="21.0" font-size="12.6">Teff pep – TCR<tspan font-family="Liberation Serif" style="stroke-width:0">ζ</tspan></text><clipPath id="ga0"><rect x="24" y="24" width="45" height="46"/></clipPath><g clip-path="url(#ga0)"><rect x="24" y="24" width="45" height="46" fill="#A7A7A7"/><ellipse cx="46.7" cy="45.7" rx="6" ry="7" fill="none" stroke="#000" stroke-width="1.2" filter="url(#b08)" opacity="0.41250000000000003" transform="rotate(-10 46.7 45.7)"/><ellipse cx="45.4" cy="44.4" rx="6" ry="7" fill="none" stroke="#fff" stroke-width="1.1" filter="url(#b08)" opacity="0.5" transform="rotate(-10 45.4 44.4)"/><ellipse cx="46" cy="45" rx="5.1" ry="5.95" fill="#fff" filter="url(#b1)" opacity="0.06" transform="rotate(-10 46 45)"/><ellipse cx="50.7" cy="40.7" rx="4" ry="4" fill="none" stroke="#000" stroke-width="1.2" filter="url(#b08)" opacity="0.3375"/><ellipse cx="49.4" cy="39.4" rx="4" ry="4" fill="none" stroke="#fff" stroke-width="1.1" filter="url(#b08)" opacity="0.4"/><ellipse cx="50" cy="40" rx="3.4" ry="3.4" fill="#fff" filter="url(#b1)" opacity="0.05"/><ellipse cx="47.7" cy="54.7" rx="4" ry="3.5" fill="none" stroke="#000" stroke-width="1.2" filter="url(#b08)" opacity="0.30000000000000004"/><ellipse cx="46.4" cy="53.4" rx="4" ry="3.5" fill="none" stroke="#fff" stroke-width="1.1" filter="url(#b08)" opacity="0.5"/><ellipse cx="47" cy="54" rx="3.4" ry="2.975" fill="#fff" filter="url(#b1)" opacity="0.15"/><ellipse cx="47.7" cy="74.7" rx="13" ry="13" fill="none" stroke="#000" stroke-width="1.2" filter="url(#b08)" opacity="0.5249999999999999"/><ellipse cx="46.4" cy="73.4" rx="13" ry="13" fill="none" stroke="#fff" stroke-width="1.1" filter="url(#b08)" opacity="0.5"/><ellipse cx="47" cy="74" rx="11.049999999999999" ry="11.049999999999999" fill="#fff" filter="url(#b1)" opacity="0.4"/><ellipse cx="46" cy="70" rx="8" ry="4" fill="#fff" filter="url(#b15)" opacity="0.25"/><rect x="24" y="24" width="45" height="46" fill="url(#gn)"/></g><clipPath id="fa0"><rect x="24" y="70" width="45" height="47"/></clipPath><g clip-path="url(#fa0)"><rect x="24" y="70" width="45" height="47" fill="#000"/><rect x="24" y="70" width="45" height="47" fill="url(#spk)"/><path d="M58.2 78.5 L59.8 80.3 L62.5 81.0 L64.1 83.5 L63.8 87.2 L62.7 91.0 L60.5 94.4 L58.4 97.2 L57.0 100.1 L55.0 102.8 L52.5 103.9 L50.2 106.6 L47.7 107.2 L44.8 108.9 L41.8 109.3 L38.4 109.4 L37.8 105.7 L37.8 101.9 L38.8 98.1 L40.2 94.7 L40.7 91.6 L42.0 88.5 L44.2 86.1 L45.7 82.6 L48.2 80.6 L50.8 78.6 L53.8 76.2 L55.9 77.8 Z" fill="url(#mott)" opacity="0.5"/><path d="M56.6 81.6 L58.7 81.5 L60.5 82.6 L61.6 84.7 L61.4 87.8 L59.3 91.3 L57.8 93.9 L57.1 96.5 L55.3 98.5 L53.8 100.8 L51.8 101.5 L50.0 103.7 L47.7 105.9 L45.5 106.5 L42.8 107.5 L41.4 105.7 L41.8 102.0 L41.8 99.5 L41.1 97.4 L40.9 94.9 L42.4 92.0 L44.0 89.5 L45.5 87.2 L47.4 85.5 L49.0 83.4 L51.0 81.6 L53.1 81.0 L54.8 81.5 Z" fill="#6a2a9e" filter="url(#b05)" opacity="0.95"/><path d="M55.7 83.1 L58.1 82.2 L59.3 83.4 L59.7 85.5 L59.3 88.0 L59.1 90.4 L58.3 92.9 L56.8 95.1 L55.0 96.6 L53.5 98.0 L52.1 99.4 L50.6 101.3 L48.7 102.7 L47.0 102.8 L45.9 101.6 L45.0 100.4 L44.2 99.1 L43.4 97.7 L43.0 95.8 L42.9 93.6 L43.9 91.1 L45.1 88.8 L46.2 86.4 L48.0 85.0 L49.8 84.0 L51.4 84.2 L52.6 84.4 L54.1 83.5 Z" fill="url(#mott2)"/><path d="M59.5 84.6 L59.1 85.8 L58.1 86.8 L57.6 87.7 L57.8 88.7 L56.6 89.4 L55.4 90.0 L54.4 90.7 L53.1 90.6 L51.8 91.1 L50.7 91.0 L49.4 91.0 L48.7 90.3 L47.5 90.0 L46.4 89.4 L46.1 88.4 L45.9 87.3 L47.0 86.2 L48.9 85.5 L49.8 84.8 L50.9 84.4 L51.9 84.0 L52.9 83.6 L54.2 82.8 L55.4 82.9 L56.8 82.7 L58.4 82.8 L59.3 83.6 Z" fill="#20b4ec" filter="url(#b05)" opacity="0.95"/><path d="M57.4 85.2 L57.3 85.9 L57.1 86.6 L56.8 87.4 L56.0 88.0 L55.0 88.5 L53.9 88.6 L53.2 88.9 L52.4 89.1 L51.6 89.6 L50.5 89.9 L49.5 90.0 L48.5 89.9 L48.1 89.3 L47.9 88.7 L47.7 88.1 L48.2 87.3 L48.7 86.7 L49.2 86.1 L49.9 85.5 L50.7 84.9 L51.6 84.5 L52.6 84.6 L53.4 84.4 L54.2 84.5 L55.0 84.5 L55.9 84.6 L57.0 84.6 Z" fill="#5ccf5a" filter="url(#b05)" opacity="0.9"/><ellipse cx="46" cy="97" rx="2.5" ry="3" fill="#20b4ec" filter="url(#b05)" opacity="0.9"/><ellipse cx="48.5" cy="93.5" rx="2.5" ry="1.8" fill="#2f5ee0" filter="url(#b05)" opacity="0.9"/><ellipse cx="44" cy="101.5" rx="1.8" ry="1.8" fill="#20b4ec" filter="url(#b05)" opacity="0.85"/><ellipse cx="49" cy="99.5" rx="1.5" ry="1.5" fill="#20b4ec" filter="url(#b05)" opacity="0.8"/><ellipse cx="50" cy="88" rx="1.8" ry="1.5" fill="#f2e640" filter="url(#b03)"/><ellipse cx="55" cy="87.5" rx="2" ry="1.8" fill="#ff8a20" filter="url(#b03)"/><ellipse cx="55" cy="87.5" rx="1.2" ry="1" fill="#ffe0f0" filter="url(#b03)"/><path d="M56.6 81.6 L58.7 81.5 L60.5 82.6 L61.6 84.7 L61.4 87.8 L59.3 91.3 L57.8 93.9 L57.1 96.5 L55.3 98.5 L53.8 100.8 L51.8 101.5 L50.0 103.7 L47.7 105.9 L45.5 106.5 L42.8 107.5 L41.4 105.7 L41.8 102.0 L41.8 99.5 L41.1 97.4 L40.9 94.9 L42.4 92.0 L44.0 89.5 L45.5 87.2 L47.4 85.5 L49.0 83.4 L51.0 81.6 L53.1 81.0 L54.8 81.5 Z" fill="url(#drk)" opacity="0.35"/></g><clipPath id="ga1"><rect x="70" y="24" width="45" height="46"/></clipPath><g clip-path="url(#ga1)"><rect x="70" y="24" width="45" height="46" fill="#A7A7A7"/><ellipse cx="100.7" cy="42.7" rx="6" ry="11" fill="none" stroke="#000" stroke-width="1.2" filter="url(#b08)" opacity="0.41250000000000003" transform="rotate(-20 100.7 42.7)"/><ellipse cx="99.4" cy="41.4" rx="6" ry="11" fill="none" stroke="#fff" stroke-width="1.1" filter="url(#b08)" opacity="0.55" transform="rotate(-20 99.4 41.4)"/><ellipse cx="100" cy="42" rx="5.1" ry="9.35" fill="#fff" filter="url(#b1)" opacity="0.06" transform="rotate(-20 100 42)"/><ellipse cx="93.7" cy="51.7" rx="4" ry="4" fill="none" stroke="#000" stroke-width="1.2" filter="url(#b08)" opacity="0.375"/><ellipse cx="92.4" cy="50.4" rx="4" ry="4" fill="none" stroke="#fff" stroke-width="1.1" filter="url(#b08)" opacity="0.5"/><ellipse cx="93" cy="51" rx="3.4" ry="3.4" fill="#fff" filter="url(#b1)" opacity="0.1"/><ellipse cx="102.7" cy="63.7" rx="7" ry="6" fill="none" stroke="#000" stroke-width="1.2" filter="url(#b08)" opacity="0.3375"/><ellipse cx="101.4" cy="62.4" rx="7" ry="6" fill="none" stroke="#fff" stroke-width="1.1" filter="url(#b08)" opacity="0.5"/><ellipse cx="102" cy="63" rx="5.95" ry="5.1" fill="#fff" filter="url(#b1)" opacity="0.25"/><ellipse cx="100" cy="67" rx="4" ry="3" fill="#fff" filter="url(#b1)" opacity="0.4"/><ellipse cx="112" cy="49" rx="2.5" ry="1.5" fill="#333" filter="url(#b05)" opacity="0.45"/><rect x="70" y="24" width="45" height="46" fill="url(#gn)"/></g><clipPath id="fa1"><rect x="70" y="70" width="45" height="47"/></clipPath><g clip-path="url(#fa1)"><rect x="70" y="70" width="45" height="47" fill="#000"/><rect x="70" y="70" width="45" height="47" fill="url(#spk)"/><path d="M113.9 97.0 L113.6 100.6 L112.8 104.1 L111.5 107.3 L109.0 108.9 L107.1 111.4 L104.4 111.6 L102.0 113.2 L99.6 111.2 L97.4 110.0 L95.2 108.5 L93.6 106.1 L91.9 103.6 L91.5 100.3 L92.5 97.0 L91.6 93.8 L92.1 90.5 L92.8 87.0 L94.3 83.8 L96.2 80.7 L99.3 80.7 L102.0 80.8 L104.5 82.3 L106.7 83.6 L108.2 86.5 L109.5 88.8 L110.5 91.4 L111.5 94.0 Z" fill="url(#mott)" opacity="0.6"/><path d="M107.6 90.0 L107.4 91.1 L107.6 92.5 L106.5 93.3 L106.0 94.6 L105.0 95.8 L103.6 96.3 L102.0 97.0 L100.5 96.2 L99.0 95.8 L98.0 94.6 L97.0 93.7 L96.0 92.7 L95.8 91.3 L95.5 90.0 L96.2 88.8 L96.6 87.6 L97.6 86.8 L98.7 86.2 L99.2 84.6 L100.6 84.3 L102.0 83.5 L103.5 83.8 L105.1 84.1 L107.1 84.1 L107.6 85.8 L107.7 87.4 L108.0 88.7 Z" fill="#6a2a9e" filter="url(#b05)" opacity="0.95"/><path d="M108.4 96.5 L108.7 97.7 L110.7 98.5 L111.5 100.0 L112.1 102.1 L110.4 104.1 L108.7 106.0 L106.0 106.8 L104.2 108.2 L102.1 108.9 L100.1 108.9 L98.2 108.8 L96.7 108.2 L95.9 106.9 L94.2 106.5 L92.9 105.4 L93.4 103.5 L93.2 101.9 L94.0 100.1 L94.4 98.2 L95.7 96.3 L97.4 94.5 L99.4 92.5 L101.9 92.3 L103.9 93.1 L105.4 94.0 L106.8 94.5 L108.2 95.0 Z" fill="#6a2a9e" filter="url(#b05)" opacity="0.95"/><ellipse cx="99.5" cy="88" rx="1.3" ry="1.3" fill="#20b4ec" filter="url(#b05)" opacity="0.75"/><ellipse cx="105" cy="88" rx="1.4" ry="1.8" fill="#20b4ec" filter="url(#b05)" opacity="0.8"/><ellipse cx="99.5" cy="92.5" rx="1.2" ry="1.2" fill="#2f5ee0" filter="url(#b05)" opacity="0.8"/><ellipse cx="104.5" cy="92" rx="1.8" ry="1.8" fill="#20b4ec" filter="url(#b05)" opacity="0.8"/><path d="M110.0 96.2 L110.7 96.8 L110.4 98.2 L109.4 99.7 L108.6 101.1 L106.8 102.3 L105.9 103.3 L104.9 104.3 L103.9 105.7 L102.5 107.5 L100.6 108.8 L99.3 108.5 L98.0 108.6 L96.6 108.7 L95.5 108.3 L95.7 106.9 L96.4 105.4 L96.4 104.3 L97.8 102.9 L97.7 101.6 L99.2 100.3 L100.7 99.2 L102.1 98.5 L103.4 97.7 L105.0 96.3 L106.5 95.8 L108.4 94.8 L109.8 94.9 Z" fill="#20b4ec" filter="url(#b05)"/><ellipse cx="103" cy="101.5" rx="6.5" ry="2.6" fill="#5ccf5a" filter="url(#b05)" transform="rotate(-40 103 101.5)"/><ellipse cx="104" cy="99.8" rx="2.8" ry="1.8" fill="#f2e640" filter="url(#b05)" transform="rotate(-30 104 99.8)"/><ellipse cx="104.3" cy="99.5" rx="1.4" ry="1" fill="#ff8a20" filter="url(#b03)"/><ellipse cx="100.5" cy="104" rx="2.2" ry="1.5" fill="#f2e640" filter="url(#b05)" transform="rotate(-40 100.5 104)"/><ellipse cx="102" cy="96" rx="9" ry="13" fill="url(#drk)" opacity="0.3"/></g><clipPath id="ga2"><rect x="116" y="24" width="45" height="46"/></clipPath><g clip-path="url(#ga2)"><rect x="116" y="24" width="45" height="46" fill="#A7A7A7"/><ellipse cx="145.7" cy="42.7" rx="7" ry="7" fill="none" stroke="#000" stroke-width="1.2" filter="url(#b08)" opacity="0.48750000000000004"/><ellipse cx="144.4" cy="41.4" rx="7" ry="7" fill="none" stroke="#fff" stroke-width="1.1" filter="url(#b08)" opacity="0.6"/><ellipse cx="145" cy="42" rx="5.95" ry="5.95" fill="#fff" filter="url(#b1)" opacity="0.05"/><ellipse cx="149.7" cy="63.7" rx="8" ry="8" fill="none" stroke="#000" stroke-width="1.2" filter="url(#b08)" opacity="0.3375"/><ellipse cx="148.4" cy="62.4" rx="8" ry="8" fill="none" stroke="#fff" stroke-width="1.1" filter="url(#b08)" opacity="0.5"/><ellipse cx="149" cy="63" rx="6.8" ry="6.8" fill="#fff" filter="url(#b1)" opacity="0.3"/><ellipse cx="146" cy="68" rx="3" ry="4" fill="#fff" filter="url(#b1)" opacity="0.45"/><rect x="116" y="24" width="45" height="46" fill="url(#gn)"/></g><clipPath id="fa2"><rect x="116" y="70" width="45" height="47"/></clipPath><g clip-path="url(#fa2)"><rect x="116" y="70" width="45" height="47" fill="#000"/><rect x="116" y="70" width="45" height="47" fill="url(#spk)"/><path d="M159.2 95.0 L161.3 98.0 L161.2 101.3 L159.8 104.4 L156.7 105.9 L153.8 107.0 L151.0 108.1 L148.0 107.8 L145.2 107.4 L143.1 105.2 L141.1 103.6 L138.4 102.6 L136.7 100.4 L135.2 97.9 L134.7 95.0 L136.0 92.3 L137.5 89.9 L137.5 86.6 L139.2 83.9 L141.5 81.5 L144.7 80.6 L148.0 80.3 L150.9 82.2 L153.8 83.0 L155.6 85.5 L157.2 87.7 L158.0 90.2 L158.2 92.7 Z" fill="url(#mott)" opacity="0.6"/><path d="M157.3 90.0 L156.6 91.8 L155.8 93.5 L154.9 95.2 L152.0 95.2 L150.5 96.0 L148.6 95.9 L147.0 95.6 L145.6 95.1 L144.3 94.6 L141.7 95.4 L140.1 94.5 L138.0 93.6 L137.6 91.8 L137.8 90.0 L138.4 88.4 L138.6 86.7 L140.4 85.7 L142.2 85.0 L143.8 84.5 L145.2 83.4 L147.0 84.3 L148.9 83.3 L150.6 83.9 L152.2 84.6 L152.9 86.2 L154.4 87.1 L155.6 88.4 Z" fill="#6a2a9e" filter="url(#b05)" opacity="0.9"/><path d="M160.2 94.8 L158.4 97.0 L157.6 98.5 L156.5 99.9 L154.5 101.0 L154.5 102.6 L153.6 104.3 L151.5 105.4 L149.4 106.7 L146.9 107.7 L144.6 107.8 L142.2 108.0 L141.2 106.7 L140.5 105.4 L140.6 103.9 L140.0 102.9 L139.1 101.7 L139.8 100.1 L140.9 98.5 L143.2 97.3 L144.9 96.1 L146.9 95.5 L148.7 94.1 L151.0 92.6 L153.5 92.0 L155.5 92.4 L157.0 93.2 L158.6 93.9 Z" fill="#6a2a9e" filter="url(#b05)" opacity="0.95"/><ellipse cx="147.5" cy="85.5" rx="1.8" ry="2" fill="#20b4ec" filter="url(#b05)" opacity="0.85"/><ellipse cx="147.5" cy="87.5" rx="1.1" ry="1.1" fill="#5ccf5a" filter="url(#b03)"/><ellipse cx="139" cy="88.5" rx="1.6" ry="1.2" fill="#20b4ec" filter="url(#b05)" opacity="0.8"/><ellipse cx="151" cy="90" rx="1.8" ry="1.8" fill="#2f5ee0" filter="url(#b05)" opacity="0.8"/><path d="M157.8 96.2 L157.6 96.9 L156.9 97.8 L156.3 98.7 L155.1 99.7 L154.3 100.7 L152.7 101.8 L150.9 103.0 L148.6 104.7 L146.0 105.7 L144.5 105.4 L142.7 105.6 L142.3 104.8 L141.9 104.2 L141.3 103.8 L140.4 103.5 L141.2 102.4 L142.0 101.4 L143.2 100.3 L144.9 99.3 L146.0 98.0 L148.0 96.8 L150.3 95.9 L152.3 95.3 L154.2 95.0 L156.3 94.5 L158.0 94.3 L159.4 94.5 Z" fill="#20b4ec" filter="url(#b05)"/><ellipse cx="151.5" cy="97.5" rx="5" ry="1.8" fill="#5ccf5a" filter="url(#b05)" transform="rotate(-20 151.5 97.5)"/><ellipse cx="151.5" cy="96.8" rx="2" ry="1.1" fill="#f2e640" filter="url(#b03)" transform="rotate(-20 151.5 96.8)"/><ellipse cx="148" cy="95" rx="12" ry="12" fill="url(#drk)" opacity="0.3"/></g><clipPath id="ga3"><rect x="162" y="24" width="45" height="46"/></clipPath><g clip-path="url(#ga3)"><rect x="162" y="24" width="45" height="46" fill="#A7A7A7"/><ellipse cx="172.7" cy="49.7" rx="9" ry="9" fill="none" stroke="#000" stroke-width="1.2" filter="url(#b08)" opacity="0.3375"/><ellipse cx="171.4" cy="48.4" rx="9" ry="9" fill="none" stroke="#fff" stroke-width="1.1" filter="url(#b08)" opacity="0.45"/><ellipse cx="172" cy="49" rx="7.6499999999999995" ry="7.6499999999999995" fill="#fff" filter="url(#b1)" opacity="0.06"/><ellipse cx="190.7" cy="58.7" rx="13" ry="12" fill="none" stroke="#000" stroke-width="1.2" filter="url(#b08)" opacity="0.375"/><ellipse cx="189.4" cy="57.4" rx="13" ry="12" fill="none" stroke="#fff" stroke-width="1.1" filter="url(#b08)" opacity="0.5"/><ellipse cx="190" cy="58" rx="11.049999999999999" ry="10.2" fill="#fff" filter="url(#b1)" opacity="0.25"/><ellipse cx="182" cy="67" rx="3" ry="3" fill="#fff" filter="url(#b1)" opacity="0.45"/><ellipse cx="187" cy="47" rx="7" ry="1.5" fill="#000" filter="url(#b1)" opacity="0.2" transform="rotate(-10 187 47)"/><ellipse cx="166" cy="66" rx="3" ry="3" fill="#fff" filter="url(#b1)" opacity="0.3"/><rect x="162" y="24" width="45" height="46" fill="url(#gn)"/></g><clipPath id="fa3"><rect x="162" y="70" width="45" height="47"/></clipPath><g clip-path="url(#fa3)"><rect x="162" y="70" width="45" height="47" fill="#000"/><rect x="162" y="70" width="45" height="47" fill="url(#spk)"/><path d="M192.3 97.5 L191.0 100.4 L191.0 103.7 L189.0 106.1 L188.3 110.0 L185.4 111.8 L182.6 114.3 L179.0 114.1 L175.7 112.8 L173.1 110.7 L169.8 109.8 L167.0 107.8 L166.5 103.9 L165.6 100.8 L165.4 97.5 L166.4 94.4 L167.6 91.6 L168.9 88.9 L170.1 85.6 L173.3 84.9 L175.7 82.0 L179.0 80.2 L182.5 80.8 L186.0 81.9 L188.3 85.1 L189.6 88.4 L189.9 91.9 L191.4 94.5 Z" fill="url(#mott)" opacity="0.6"/><path d="M189.7 97.5 L189.0 100.1 L187.8 102.4 L185.4 103.5 L184.2 105.3 L182.9 107.4 L181.1 110.1 L178.5 110.2 L175.7 110.7 L173.6 108.6 L170.9 107.9 L169.0 105.7 L168.1 103.0 L164.8 100.9 L164.8 97.5 L166.8 94.6 L168.5 92.3 L170.8 90.8 L172.7 89.5 L174.2 87.7 L176.6 88.6 L178.5 88.0 L180.8 86.7 L183.6 86.0 L187.4 85.3 L189.9 87.6 L191.5 90.7 L190.5 94.5 Z" fill="#6a2a9e" filter="url(#b05)" opacity="0.8"/><path d="M176.5 88 L184 89.5 L189 93 L189 99 L185 105 L180 107.5 L177.5 104 L178.5 98 L176 92 Z" fill="#20b4ec" filter="url(#b08)" opacity="0.95"/><path d="M168.5 87.5 L174 86.5 L178 89 L177 91.5 L171 90.5 Z" fill="#20b4ec" filter="url(#b05)" opacity="0.9"/><path d="M179 90 Q183 95 181.5 100 Q180.5 104 181 106" fill="none" stroke="#5ccf5a" stroke-width="2.6" stroke-linecap="round" stroke-linejoin="round" filter="url(#b05)" opacity="0.85"/><ellipse cx="173" cy="99" rx="3.5" ry="5" fill="#6a2a9e" filter="url(#b08)" opacity="0.6"/><ellipse cx="170.5" cy="88.3" rx="1" ry="1" fill="#ff8a20" filter="url(#b03)"/><ellipse cx="181.7" cy="98.2" rx="1.7" ry="1.7" fill="#ff8a20" filter="url(#b03)"/><ellipse cx="180.5" cy="102" rx="1.2" ry="1.2" fill="#f2e640" filter="url(#b03)"/><ellipse cx="179.5" cy="90.5" rx="1.3" ry="1" fill="#5ccf5a" filter="url(#b03)"/><path d="M190.2 97.5 L189.5 100.1 L188.3 102.4 L185.9 103.5 L184.7 105.3 L183.4 107.4 L181.6 110.1 L179.0 110.2 L176.2 110.7 L174.1 108.6 L171.4 107.9 L169.5 105.7 L168.6 103.0 L165.3 100.9 L165.3 97.5 L167.3 94.6 L169.0 92.3 L171.3 90.8 L173.2 89.5 L174.7 87.7 L177.1 88.6 L179.0 88.0 L181.3 86.7 L184.1 86.0 L187.9 85.3 L190.4 87.6 L192.0 90.7 L191.0 94.5 Z" fill="url(#drk)" opacity="0.3"/></g><rect x="192" y="25.2" width="12" height="1.5" fill="#222"/><clipPath id="gb0"><rect x="284.8" y="25.7" width="56.4" height="46.3"/></clipPath><g clip-path="url(#gb0)"><rect x="284.8" y="25.7" width="56.4" height="46.3" fill="#BFBFBF"/><ellipse cx="321.7" cy="35.7" rx="14" ry="11" fill="none" stroke="#000" stroke-width="1.2" filter="url(#b08)" opacity="0.44999999999999996"/><ellipse cx="320.4" cy="34.4" rx="14" ry="11" fill="none" stroke="#fff" stroke-width="1.1" filter="url(#b08)" opacity="0.45"/><ellipse cx="321" cy="35" rx="11.9" ry="9.35" fill="#fff" filter="url(#b1)" opacity="0.2"/><ellipse cx="307" cy="40" rx="2.5" ry="6" fill="#000" filter="url(#b15)" opacity="0.15" transform="rotate(20 307 40)"/><ellipse cx="310.2" cy="59.7" rx="9" ry="9" fill="none" stroke="#000" stroke-width="1.2" filter="url(#b08)" opacity="0.41250000000000003"/><ellipse cx="308.9" cy="58.4" rx="9" ry="9" fill="none" stroke="#fff" stroke-width="1.1" filter="url(#b08)" opacity="0.55"/><ellipse cx="309.5" cy="59" rx="7.6499999999999995" ry="7.6499999999999995" fill="#fff" filter="url(#b1)" opacity="0.25"/><ellipse cx="332.2" cy="59.7" rx="10" ry="10" fill="none" stroke="#000" stroke-width="1.2" filter="url(#b08)" opacity="0.44999999999999996"/><ellipse cx="330.9" cy="58.4" rx="10" ry="10" fill="none" stroke="#fff" stroke-width="1.1" filter="url(#b08)" opacity="0.5"/><ellipse cx="331.5" cy="59" rx="8.5" ry="8.5" fill="#fff" filter="url(#b1)" opacity="0.22"/><ellipse cx="297" cy="62" rx="8" ry="2.5" fill="#fff" filter="url(#b1)" opacity="0.3" transform="rotate(-35 297 62)"/><ellipse cx="292" cy="65" rx="3" ry="2" fill="#fff" filter="url(#b1)" opacity="0.4"/><rect x="284.8" y="25.7" width="56.4" height="46.3" fill="url(#gn)"/></g><clipPath id="fb0"><rect x="284.8" y="72" width="56.4" height="46.6"/></clipPath><g clip-path="url(#fb0)"><rect x="284.8" y="72" width="56.4" height="46.6" fill="#000"/><rect x="284.8" y="72" width="56.4" height="46.6" fill="url(#spk)"/><path d="M288 119 L289.5 111 L295.6 108 L301 103 L305 100.6 L311.5 98 L317.8 100 L323 102.7 L326 98.5 L328.4 96.4 L334.8 93.7 L342 92 L342 119 Z" fill="#6a2a9e" filter="url(#b05)" opacity="0.95"/><path d="M290 119 L291 112 L296 109.5 L305 102 L311.5 99.5 L317.5 101.5 L323 104 L328.4 98 L335 95.5 L342 94 L342 119 Z" fill="#20b4ec" filter="url(#b05)" opacity="0.95"/><path d="M320.1 111.0 L319.4 112.6 L318.7 114.0 L317.9 115.5 L317.0 117.1 L314.6 117.0 L312.8 117.5 L311.0 116.9 L309.6 116.0 L307.8 116.4 L306.1 116.0 L304.9 115.0 L303.6 113.9 L304.7 112.2 L304.4 111.0 L302.5 109.4 L303.2 107.9 L304.2 106.6 L305.5 105.4 L307.2 104.6 L308.8 103.3 L311.0 104.2 L312.7 105.0 L313.9 106.0 L314.6 107.3 L316.0 107.7 L317.6 108.4 L318.7 109.6 Z" fill="#6a2a9e" filter="url(#b05)" opacity="0.55"/><path d="M320.1 111.0 L319.4 112.6 L318.7 114.0 L317.9 115.5 L317.0 117.1 L314.6 117.0 L312.8 117.5 L311.0 116.9 L309.6 116.0 L307.8 116.4 L306.1 116.0 L304.9 115.0 L303.6 113.9 L304.7 112.2 L304.4 111.0 L302.5 109.4 L303.2 107.9 L304.2 106.6 L305.5 105.4 L307.2 104.6 L308.8 103.3 L311.0 104.2 L312.7 105.0 L313.9 106.0 L314.6 107.3 L316.0 107.7 L317.6 108.4 L318.7 109.6 Z" fill="url(#mott2)" opacity="0.9"/><path d="M341.1 106.0 L340.5 108.2 L339.8 110.1 L338.3 111.0 L337.6 112.6 L336.6 113.8 L335.2 113.6 L334.0 113.8 L332.9 113.2 L331.9 112.3 L331.0 111.5 L329.5 111.2 L329.6 109.1 L329.6 107.5 L328.7 106.0 L328.1 104.1 L328.0 101.8 L328.4 99.5 L330.1 99.0 L331.6 98.7 L332.8 98.6 L334.0 97.6 L335.0 99.5 L335.8 100.6 L336.2 101.9 L337.0 102.6 L338.1 103.1 L339.8 104.1 Z" fill="#6a2a9e" filter="url(#b05)" opacity="0.55"/><path d="M341.1 106.0 L340.5 108.2 L339.8 110.1 L338.3 111.0 L337.6 112.6 L336.6 113.8 L335.2 113.6 L334.0 113.8 L332.9 113.2 L331.9 112.3 L331.0 111.5 L329.5 111.2 L329.6 109.1 L329.6 107.5 L328.7 106.0 L328.1 104.1 L328.0 101.8 L328.4 99.5 L330.1 99.0 L331.6 98.7 L332.8 98.6 L334.0 97.6 L335.0 99.5 L335.8 100.6 L336.2 101.9 L337.0 102.6 L338.1 103.1 L339.8 104.1 Z" fill="url(#mott2)" opacity="0.9"/><path d="M324.3 113.0 L324.4 113.7 L324.4 114.6 L324.2 115.4 L323.6 115.6 L323.3 116.5 L322.7 117.2 L322.0 117.6 L321.2 117.9 L320.5 117.1 L320.1 116.2 L319.5 115.6 L319.2 114.8 L319.0 113.9 L318.9 113.0 L319.1 112.1 L319.9 111.6 L320.0 110.9 L320.3 110.2 L320.8 109.8 L321.3 109.1 L322.0 108.8 L322.7 108.9 L323.6 108.7 L324.2 109.2 L324.8 110.1 L325.3 110.9 L324.6 112.2 Z" fill="#6a2a9e" filter="url(#b05)" opacity="0.45"/><path d="M324.3 113.0 L324.4 113.7 L324.4 114.6 L324.2 115.4 L323.6 115.6 L323.3 116.5 L322.7 117.2 L322.0 117.6 L321.2 117.9 L320.5 117.1 L320.1 116.2 L319.5 115.6 L319.2 114.8 L319.0 113.9 L318.9 113.0 L319.1 112.1 L319.9 111.6 L320.0 110.9 L320.3 110.2 L320.8 109.8 L321.3 109.1 L322.0 108.8 L322.7 108.9 L323.6 108.7 L324.2 109.2 L324.8 110.1 L325.3 110.9 L324.6 112.2 Z" fill="url(#mott2)" opacity="0.9"/><path d="M290 119 L291 112 L296 109.5 L305 102 L311.5 99.5 L317.5 101.5 L323 104 L328.4 98 L335 95.5 L342 94 L342 119 Z" fill="url(#mix)" opacity="0.75"/><ellipse cx="296" cy="113" rx="5" ry="3.5" fill="#5ccf5a" filter="url(#b05)" opacity="0.85" transform="rotate(-20 296 113)"/><ellipse cx="294" cy="114" rx="1.6" ry="1.3" fill="#f2e640" filter="url(#b03)"/><ellipse cx="299" cy="110.5" rx="1.2" ry="1" fill="#f2e640" filter="url(#b03)"/><ellipse cx="298" cy="115" rx="1.2" ry="1" fill="#f2e640" filter="url(#b03)"/><path d="M290 119 L291 112 L296 109.5 L305 102 L311.5 99.5 L317.5 101.5 L323 104 L328.4 98 L335 95.5 L342 94 L342 119 Z" fill="url(#mott)" opacity="0.15"/></g><clipPath id="gb1"><rect x="342.8" y="25.7" width="56.4" height="46.3"/></clipPath><g clip-path="url(#gb1)"><rect x="342.8" y="25.7" width="56.4" height="46.3" fill="#BFBFBF"/><path d="M394.9 36.0 L393.2 39.2 L391.6 42.1 L389.6 44.6 L386.8 46.3 L384.6 48.8 L381.4 49.9 L378.0 49.9 L374.8 49.1 L371.9 47.8 L369.2 46.3 L365.8 45.1 L364.2 42.2 L362.1 39.4 L361.8 36.0 L362.9 32.8 L363.5 29.5 L365.3 26.5 L368.1 24.5 L372.1 24.6 L375.1 24.0 L378.0 24.1 L381.1 23.2 L384.6 23.3 L387.7 24.7 L389.8 27.2 L392.6 29.4 L393.9 32.6 Z" fill="#fff" filter="url(#b15)" opacity="0.22"/><path d="M361 37 Q366 46 369 55" fill="none" stroke="#000" stroke-width="1.8" stroke-linecap="round" stroke-linejoin="round" filter="url(#b1)" opacity="0.18"/><path d="M394 30 Q389 43 383 48 Q376 54 369 61" fill="none" stroke="#000" stroke-width="2.6" stroke-linecap="round" stroke-linejoin="round" filter="url(#b1)" opacity="0.3"/><ellipse cx="373.3" cy="52.4" rx="2.4" ry="2.6" fill="#fff" filter="url(#b08)" opacity="0.85"/><ellipse cx="395.7" cy="50.7" rx="9" ry="9" fill="none" stroke="#000" stroke-width="1.2" filter="url(#b08)" opacity="0.26249999999999996"/><ellipse cx="394.4" cy="49.4" rx="9" ry="9" fill="none" stroke="#fff" stroke-width="1.1" filter="url(#b08)" opacity="0.45"/><ellipse cx="395" cy="50" rx="7.6499999999999995" ry="7.6499999999999995" fill="#fff" filter="url(#b1)" opacity="0.25"/><rect x="342.8" y="25.7" width="56.4" height="46.3" fill="url(#gn)"/></g><clipPath id="fb1"><rect x="342.8" y="72" width="56.4" height="46.6"/></clipPath><g clip-path="url(#fb1)"><rect x="342.8" y="72" width="56.4" height="46.6" fill="#000"/><rect x="342.8" y="72" width="56.4" height="46.6" fill="url(#spk)"/><path d="M365.2 87.1 L378.6 88.2 L387.3 90.9 L392.6 89.2 L400 88.2 L400 110.8 L388.3 106.5 L378.6 106.5 L371.1 113 L363.6 110.3 L370 103.3 L367.9 95.7 Z" fill="#6a2a9e" filter="url(#b05)" opacity="0.95"/><path d="M366.5 88.3 L378.6 89.6 L387.3 92.3 L392.6 90.6 L400 89.6 L400 109.5 L388.3 105 L378.6 105 L371.1 111.5 L365 110 L371 103.3 L369 95.7 Z" fill="#20b4ec" filter="url(#b05)" opacity="0.95"/><path d="M390.6 97.0 L390.1 98.0 L388.9 98.8 L388.8 99.9 L387.2 100.3 L386.0 100.9 L384.7 101.6 L383.0 102.7 L381.0 102.4 L379.2 101.9 L377.8 101.1 L376.5 100.2 L375.3 99.3 L375.2 98.1 L375.1 97.0 L375.6 95.9 L376.5 95.0 L377.2 94.1 L378.4 93.4 L379.6 92.6 L381.4 92.5 L383.0 92.3 L384.7 92.3 L386.8 92.0 L389.1 92.2 L391.1 93.0 L391.6 94.4 L390.9 95.9 Z" fill="#6a2a9e" filter="url(#b05)" opacity="0.55"/><path d="M390.6 97.0 L390.1 98.0 L388.9 98.8 L388.8 99.9 L387.2 100.3 L386.0 100.9 L384.7 101.6 L383.0 102.7 L381.0 102.4 L379.2 101.9 L377.8 101.1 L376.5 100.2 L375.3 99.3 L375.2 98.1 L375.1 97.0 L375.6 95.9 L376.5 95.0 L377.2 94.1 L378.4 93.4 L379.6 92.6 L381.4 92.5 L383.0 92.3 L384.7 92.3 L386.8 92.0 L389.1 92.2 L391.1 93.0 L391.6 94.4 L390.9 95.9 Z" fill="url(#mott2)" opacity="0.9"/><path d="M399.6 100.0 L399.2 101.0 L399.6 102.5 L399.3 103.6 L398.9 104.7 L398.3 105.4 L397.7 106.2 L397.0 106.0 L396.3 106.3 L395.5 106.2 L395.0 105.0 L394.5 104.0 L394.2 102.7 L393.5 101.6 L393.9 100.0 L394.0 98.6 L394.8 97.9 L395.4 97.5 L395.5 96.2 L396.0 95.7 L396.4 94.6 L397.0 93.9 L397.7 93.9 L398.5 93.9 L399.2 94.5 L400.0 95.2 L399.8 97.3 L399.5 98.8 Z" fill="#6a2a9e" filter="url(#b05)" opacity="0.45"/><path d="M399.6 100.0 L399.2 101.0 L399.6 102.5 L399.3 103.6 L398.9 104.7 L398.3 105.4 L397.7 106.2 L397.0 106.0 L396.3 106.3 L395.5 106.2 L395.0 105.0 L394.5 104.0 L394.2 102.7 L393.5 101.6 L393.9 100.0 L394.0 98.6 L394.8 97.9 L395.4 97.5 L395.5 96.2 L396.0 95.7 L396.4 94.6 L397.0 93.9 L397.7 93.9 L398.5 93.9 L399.2 94.5 L400.0 95.2 L399.8 97.3 L399.5 98.8 Z" fill="url(#mott2)" opacity="0.9"/><path d="M378.0 94.0 L378.0 94.8 L377.8 95.6 L376.9 95.8 L376.4 96.2 L375.8 96.0 L375.5 96.5 L375.0 96.5 L374.5 96.6 L374.0 96.5 L373.4 96.4 L372.6 96.3 L372.0 95.8 L372.0 94.8 L372.0 94.0 L372.4 93.3 L373.0 92.9 L373.4 92.5 L373.6 91.9 L373.9 91.4 L374.5 91.3 L375.0 91.5 L375.5 91.1 L376.1 91.3 L376.8 91.3 L376.9 92.1 L377.3 92.7 L377.5 93.3 Z" fill="#6a2a9e" filter="url(#b05)" opacity="0.45"/><path d="M378.0 94.0 L378.0 94.8 L377.8 95.6 L376.9 95.8 L376.4 96.2 L375.8 96.0 L375.5 96.5 L375.0 96.5 L374.5 96.6 L374.0 96.5 L373.4 96.4 L372.6 96.3 L372.0 95.8 L372.0 94.8 L372.0 94.0 L372.4 93.3 L373.0 92.9 L373.4 92.5 L373.6 91.9 L373.9 91.4 L374.5 91.3 L375.0 91.5 L375.5 91.1 L376.1 91.3 L376.8 91.3 L376.9 92.1 L377.3 92.7 L377.5 93.3 Z" fill="url(#mott2)" opacity="0.9"/><path d="M366.5 88.3 L378.6 89.6 L387.3 92.3 L392.6 90.6 L400 89.6 L400 109.5 L388.3 105 L378.6 105 L371.1 111.5 L365 110 L371 103.3 L369 95.7 Z" fill="url(#mix)" opacity="0.75"/><ellipse cx="371" cy="107.5" rx="3.5" ry="3.8" fill="#5ccf5a" filter="url(#b05)" opacity="0.9"/><ellipse cx="370.5" cy="108" rx="1.8" ry="1.6" fill="#f2e640" filter="url(#b03)"/><ellipse cx="372" cy="104" rx="1.2" ry="1" fill="#f2e640" filter="url(#b03)"/><ellipse cx="369.5" cy="110.5" rx="1.2" ry="1" fill="#f2e640" filter="url(#b03)"/><path d="M366.5 88.3 L378.6 89.6 L387.3 92.3 L392.6 90.6 L400 89.6 L400 109.5 L388.3 105 L378.6 105 L371.1 111.5 L365 110 L371 103.3 L369 95.7 Z" fill="url(#mott)" opacity="0.15"/></g><clipPath id="gb2"><rect x="400.8" y="25.7" width="56.4" height="46.3"/></clipPath><g clip-path="url(#gb2)"><rect x="400.8" y="25.7" width="56.4" height="46.3" fill="#BFBFBF"/><path d="M417 26 L432 54 L441 47 L451 26 Z" fill="#fff" filter="url(#b15)" opacity="0.22"/><path d="M417 26 Q424 44 432 54 Q438 50 441 47 Q446 38 450 26" fill="none" stroke="#000" stroke-width="2" stroke-linecap="round" stroke-linejoin="round" filter="url(#b1)" opacity="0.38"/><path d="M421 31 Q430 38 437 38 Q444 37 448 35" fill="none" stroke="#000" stroke-width="1.5" stroke-linecap="round" stroke-linejoin="round" filter="url(#b1)" opacity="0.22"/><ellipse cx="433" cy="44" rx="2" ry="2" fill="#fff" filter="url(#b08)" opacity="0.5"/><ellipse cx="434" cy="38" rx="6" ry="4" fill="#fff" filter="url(#b15)" opacity="0.15"/><rect x="400.8" y="25.7" width="56.4" height="46.3" fill="url(#gn)"/></g><clipPath id="fb2"><rect x="400.8" y="72" width="56.4" height="46.6"/></clipPath><g clip-path="url(#fb2)"><rect x="400.8" y="72" width="56.4" height="46.6" fill="#000"/><rect x="400.8" y="72" width="56.4" height="46.6" fill="url(#spk)"/><path d="M424.3 81.7 L432.3 83.9 L443.1 83.3 L448.5 87.1 L447.4 91.4 L444.2 93.6 L442 100 L437.7 103.3 L433.4 103.3 L428.6 96.8 L424.8 88.2 Z" fill="#6a2a9e" filter="url(#b05)" opacity="0.95"/><path d="M425.5 83 L432.3 85.2 L443 84.6 L447.2 87.5 L446.2 90.8 L443 93 L441 99.3 L437.3 102 L434 102 L429.7 96.2 L426 88 Z" fill="#20b4ec" filter="url(#b05)" opacity="0.95"/><path d="M438.2 90.0 L438.1 90.8 L437.8 91.6 L437.6 92.6 L436.8 93.1 L435.9 93.5 L434.9 93.4 L434.0 94.2 L432.8 94.5 L431.7 94.3 L430.7 93.7 L430.0 92.8 L430.1 91.7 L429.7 90.9 L429.8 90.0 L430.1 89.2 L431.1 88.8 L431.4 88.2 L431.5 87.2 L431.9 86.1 L432.7 85.0 L434.0 84.7 L435.2 85.4 L436.1 86.1 L436.8 86.9 L437.1 87.8 L437.9 88.3 L437.8 89.2 Z" fill="#6a2a9e" filter="url(#b05)" opacity="0.4"/><path d="M438.2 90.0 L438.1 90.8 L437.8 91.6 L437.6 92.6 L436.8 93.1 L435.9 93.5 L434.9 93.4 L434.0 94.2 L432.8 94.5 L431.7 94.3 L430.7 93.7 L430.0 92.8 L430.1 91.7 L429.7 90.9 L429.8 90.0 L430.1 89.2 L431.1 88.8 L431.4 88.2 L431.5 87.2 L431.9 86.1 L432.7 85.0 L434.0 84.7 L435.2 85.4 L436.1 86.1 L436.8 86.9 L437.1 87.8 L437.9 88.3 L437.8 89.2 Z" fill="url(#mott2)" opacity="0.9"/><path d="M439.7 96.0 L439.8 96.4 L439.6 96.8 L439.5 97.2 L439.1 97.4 L438.9 97.8 L438.5 98.1 L438.0 98.5 L437.4 98.8 L436.8 98.5 L436.4 98.1 L436.3 97.3 L436.4 96.8 L436.1 96.4 L436.0 96.0 L436.2 95.6 L436.2 95.1 L436.6 94.9 L436.7 94.4 L437.0 93.9 L437.5 93.6 L438.0 93.5 L438.5 93.8 L438.9 94.1 L439.5 94.1 L440.0 94.4 L440.3 94.9 L440.3 95.5 Z" fill="#6a2a9e" filter="url(#b05)" opacity="0.35"/><path d="M439.7 96.0 L439.8 96.4 L439.6 96.8 L439.5 97.2 L439.1 97.4 L438.9 97.8 L438.5 98.1 L438.0 98.5 L437.4 98.8 L436.8 98.5 L436.4 98.1 L436.3 97.3 L436.4 96.8 L436.1 96.4 L436.0 96.0 L436.2 95.6 L436.2 95.1 L436.6 94.9 L436.7 94.4 L437.0 93.9 L437.5 93.6 L438.0 93.5 L438.5 93.8 L438.9 94.1 L439.5 94.1 L440.0 94.4 L440.3 94.9 L440.3 95.5 Z" fill="url(#mott2)" opacity="0.9"/><path d="M444.5 87.0 L444.4 87.4 L443.9 87.7 L443.4 87.8 L443.1 88.0 L442.8 88.2 L442.5 88.5 L442.0 88.4 L441.6 88.4 L441.3 88.1 L440.9 88.0 L440.4 87.9 L440.2 87.7 L439.9 87.4 L439.8 87.0 L439.9 86.6 L439.9 86.2 L440.0 85.8 L440.6 85.7 L441.2 85.8 L441.7 85.9 L442.0 86.0 L442.4 85.8 L442.7 85.9 L443.1 86.0 L443.6 86.1 L444.0 86.3 L444.4 86.6 Z" fill="#6a2a9e" filter="url(#b05)" opacity="0.35"/><path d="M444.5 87.0 L444.4 87.4 L443.9 87.7 L443.4 87.8 L443.1 88.0 L442.8 88.2 L442.5 88.5 L442.0 88.4 L441.6 88.4 L441.3 88.1 L440.9 88.0 L440.4 87.9 L440.2 87.7 L439.9 87.4 L439.8 87.0 L439.9 86.6 L439.9 86.2 L440.0 85.8 L440.6 85.7 L441.2 85.8 L441.7 85.9 L442.0 86.0 L442.4 85.8 L442.7 85.9 L443.1 86.0 L443.6 86.1 L444.0 86.3 L444.4 86.6 Z" fill="url(#mott2)" opacity="0.9"/><path d="M425.5 83 L432.3 85.2 L443 84.6 L447.2 87.5 L446.2 90.8 L443 93 L441 99.3 L437.3 102 L434 102 L429.7 96.2 L426 88 Z" fill="url(#mix)" opacity="0.7"/><ellipse cx="436.5" cy="100.5" rx="2.5" ry="1.5" fill="#5ccf5a" filter="url(#b05)"/><ellipse cx="436.5" cy="100.5" rx="1.3" ry="0.9" fill="#f2e640" filter="url(#b03)"/><ellipse cx="426" cy="84" rx="1.2" ry="1.5" fill="#f2e640" filter="url(#b03)"/><ellipse cx="444" cy="88.5" rx="2.2" ry="1.5" fill="#5ccf5a" filter="url(#b05)" opacity="0.7"/><path d="M425.5 83 L432.3 85.2 L443 84.6 L447.2 87.5 L446.2 90.8 L443 93 L441 99.3 L437.3 102 L434 102 L429.7 96.2 L426 88 Z" fill="url(#mott)" opacity="0.12"/><ellipse cx="457.5" cy="92.5" rx="2" ry="4" fill="#20b4ec" filter="url(#b05)" opacity="0.9"/></g><clipPath id="gb3"><rect x="458.8" y="25.7" width="56.2" height="46.3"/></clipPath><g clip-path="url(#gb3)"><rect x="458.8" y="25.7" width="56.2" height="46.3" fill="#BFBFBF"/><ellipse cx="494" cy="30" rx="13" ry="10" fill="#fff" filter="url(#b15)" opacity="0.35"/><ellipse cx="494" cy="30" rx="13" ry="10" fill="none" stroke="#000" stroke-width="1.6" filter="url(#b1)" opacity="0.36"/><path d="M488 38 Q493 48 499 52 Q503 46 505 39" fill="none" stroke="#000" stroke-width="1.8" stroke-linecap="round" stroke-linejoin="round" filter="url(#b1)" opacity="0.28"/><ellipse cx="497" cy="45" rx="5" ry="4" fill="#fff" filter="url(#b1)" opacity="0.12"/><rect x="458.8" y="25.7" width="56.2" height="46.3" fill="url(#gn)"/></g><clipPath id="fb3"><rect x="458.8" y="72" width="56.2" height="46.6"/></clipPath><g clip-path="url(#fb3)"><rect x="458.8" y="72" width="56.2" height="46.6" fill="#000"/><rect x="458.8" y="72" width="56.2" height="46.6" fill="url(#spk)"/><path d="M489 84 Q491 79 497 78.5 Q505 77.5 511 80 Q514.5 82 513.5 86 Q511 89 509 94 Q506 100 500 101.5 Q493 101 490.5 96 Q488 90 489 84 Z" fill="#6a2a9e" filter="url(#b05)" opacity="0.8"/><path d="M490.3 84.5 Q492 80.2 497.5 79.8 Q505 79 510.5 81.2 Q513 83 512.2 86 Q510 89 507.8 93.8 Q505 99 500 100.2 Q494 99.8 491.8 95.4 Q489.6 90 490.3 84.5 Z" fill="#20b4ec" filter="url(#b05)"/><path d="M510.9 88.0 L511.6 89.7 L511.2 91.5 L509.7 92.8 L508.5 94.3 L506.3 95.0 L504.3 95.9 L502.0 95.1 L500.2 94.2 L499.1 92.6 L497.6 92.3 L496.2 91.6 L494.7 90.7 L492.4 89.7 L491.8 88.0 L492.3 86.3 L493.0 84.6 L493.6 82.8 L495.7 81.9 L497.9 81.5 L500.2 81.8 L502.0 81.7 L504.0 81.4 L505.8 81.8 L507.0 83.2 L507.7 84.5 L509.6 85.1 L510.5 86.5 Z" fill="#3cc0d0" filter="url(#b08)" opacity="0.7"/><path d="M509.5 86.0 L510.7 87.1 L509.3 88.0 L507.1 88.4 L505.8 89.0 L504.7 89.9 L502.8 90.0 L501.0 89.9 L498.9 90.5 L497.5 89.7 L495.0 89.8 L492.5 89.4 L490.8 88.5 L489.4 87.3 L491.7 86.0 L492.7 85.1 L494.9 84.5 L494.7 83.5 L496.7 83.3 L497.7 82.6 L499.1 81.9 L501.0 81.3 L503.1 81.5 L506.0 80.8 L508.2 81.5 L508.6 82.9 L509.5 83.9 L509.0 85.1 Z" fill="#5ccf5a" filter="url(#b05)" opacity="0.75"/><ellipse cx="501" cy="83" rx="1.8" ry="1.8" fill="#f2e640" filter="url(#b05)"/><ellipse cx="501" cy="82.5" rx="1" ry="1" fill="#ff8a20" filter="url(#b03)"/><ellipse cx="496" cy="87" rx="1.8" ry="1.2" fill="#f2e640" filter="url(#b05)"/><ellipse cx="508" cy="84" rx="1.8" ry="1.5" fill="#f2e640" filter="url(#b05)"/><ellipse cx="505" cy="92" rx="1.5" ry="1.5" fill="#5ccf5a" filter="url(#b05)"/><ellipse cx="494" cy="83" rx="1.5" ry="1.2" fill="#5ccf5a" filter="url(#b05)"/><path d="M503.0 96.0 L502.5 96.6 L501.8 97.0 L501.0 97.2 L500.4 97.3 L500.1 97.6 L499.6 97.9 L499.0 98.1 L498.3 98.1 L497.6 98.2 L496.9 98.0 L496.3 97.6 L495.9 97.1 L495.7 96.5 L496.3 96.0 L496.2 95.5 L496.4 95.1 L496.8 94.7 L497.1 94.2 L497.9 94.3 L498.4 94.0 L499.0 93.9 L499.6 94.1 L500.4 93.9 L501.0 94.2 L501.3 94.7 L502.1 94.9 L502.3 95.4 Z" fill="#6a2a9e" filter="url(#b05)" opacity="0.6"/><path d="M503.0 96.0 L502.5 96.6 L501.8 97.0 L501.0 97.2 L500.4 97.3 L500.1 97.6 L499.6 97.9 L499.0 98.1 L498.3 98.1 L497.6 98.2 L496.9 98.0 L496.3 97.6 L495.9 97.1 L495.7 96.5 L496.3 96.0 L496.2 95.5 L496.4 95.1 L496.8 94.7 L497.1 94.2 L497.9 94.3 L498.4 94.0 L499.0 93.9 L499.6 94.1 L500.4 93.9 L501.0 94.2 L501.3 94.7 L502.1 94.9 L502.3 95.4 Z" fill="url(#mott2)" opacity="0.9"/><path d="M494.6 91.0 L494.7 91.4 L494.5 91.7 L494.4 92.1 L494.0 92.2 L493.8 92.6 L493.4 92.7 L493.0 92.7 L492.6 92.8 L492.2 92.6 L491.7 92.6 L491.3 92.4 L491.2 91.9 L491.4 91.4 L491.5 91.0 L491.5 90.7 L491.8 90.4 L491.7 90.0 L491.9 89.7 L492.3 89.5 L492.6 89.2 L493.0 88.7 L493.5 88.8 L493.9 89.2 L494.1 89.6 L494.4 89.9 L494.5 90.3 L494.7 90.6 Z" fill="#6a2a9e" filter="url(#b05)" opacity="0.4"/><path d="M494.6 91.0 L494.7 91.4 L494.5 91.7 L494.4 92.1 L494.0 92.2 L493.8 92.6 L493.4 92.7 L493.0 92.7 L492.6 92.8 L492.2 92.6 L491.7 92.6 L491.3 92.4 L491.2 91.9 L491.4 91.4 L491.5 91.0 L491.5 90.7 L491.8 90.4 L491.7 90.0 L491.9 89.7 L492.3 89.5 L492.6 89.2 L493.0 88.7 L493.5 88.8 L493.9 89.2 L494.1 89.6 L494.4 89.9 L494.5 90.3 L494.7 90.6 Z" fill="url(#mott2)" opacity="0.9"/><path d="M490.3 84.5 Q492 80.2 497.5 79.8 Q505 79 510.5 81.2 Q513 83 512.2 86 Q510 89 507.8 93.8 Q505 99 500 100.2 Q494 99.8 491.8 95.4 Q489.6 90 490.3 84.5 Z" fill="url(#mott)" opacity="0.15"/></g><rect x="500" y="27.3" width="12" height="1.5" fill="#222"/><text x="48.5" y="127.8" font-size="10.3" text-anchor="middle" fill="#222">–1:00</text><text x="312.5" y="129.5" font-size="10.3" text-anchor="middle" fill="#222">–1:00</text><text x="92.1" y="127.8" font-size="10.3" text-anchor="middle" fill="#222">0:00</text><text x="370.8" y="129.5" font-size="10.3" text-anchor="middle" fill="#222">0:00</text><text x="138.2" y="127.8" font-size="10.3" text-anchor="middle" fill="#222">1:00</text><text x="430.3" y="129.5" font-size="10.3" text-anchor="middle" fill="#222">1:00</text><text x="184.2" y="127.8" font-size="10.3" text-anchor="middle" fill="#222">4:00</text><text x="485.3" y="129.5" font-size="10.3" text-anchor="middle" fill="#222">4:00</text><g fill="#222"><path d="M28.12 238.30H239.42M239.42 238.30V155.10" stroke="#C9C9C9" stroke-width="0.8" fill="none"/>
<path d="M239.42 238.30h1.6M239.42 229.98h1.6M239.42 221.66h1.6M239.42 213.34h1.6M239.42 205.02h1.6M239.42 196.70h1.6M239.42 188.38h1.6M239.42 180.06h1.6M239.42 171.74h1.6M239.42 163.42h1.6M239.42 155.10h1.6M28.12 238.30v-1.4M51.60 238.30v-1.4M75.08 238.30v-1.4M98.56 238.30v-1.4M122.03 238.30v-1.4M145.51 238.30v-1.4M168.99 238.30v-1.4M192.47 238.30v-1.4M215.95 238.30v-1.4M239.42 238.30v-1.4" stroke="#C9C9C9" stroke-width="0.6"/>
<text x="245.02" y="240.20" font-size="5.7">0</text>
<text x="245.02" y="231.88" font-size="5.7">10</text>
<text x="245.02" y="223.56" font-size="5.7">20</text>
<text x="245.02" y="215.24" font-size="5.7">30</text>
<text x="245.02" y="206.92" font-size="5.7">40</text>
<text x="245.02" y="198.60" font-size="5.7">50</text>
<text x="245.02" y="190.28" font-size="5.7">60</text>
<text x="245.02" y="181.96" font-size="5.7">70</text>
<text x="245.02" y="173.64" font-size="5.7">80</text>
<text x="245.02" y="165.32" font-size="5.7">90</text>
<text x="245.02" y="157.00" font-size="5.7">100</text>
<text x="28.12" y="247.50" font-size="5.6" text-anchor="middle">-60</text>
<text x="51.60" y="247.50" font-size="5.6" text-anchor="middle">0</text>
<text x="75.08" y="247.50" font-size="5.6" text-anchor="middle">60</text>
<text x="98.56" y="247.50" font-size="5.6" text-anchor="middle">120</text>
<text x="122.03" y="247.50" font-size="5.6" text-anchor="middle">180</text>
<text x="145.51" y="247.50" font-size="5.6" text-anchor="middle">240</text>
<text x="168.99" y="247.50" font-size="5.6" text-anchor="middle">300</text>
<text x="192.47" y="247.50" font-size="5.6" text-anchor="middle">360</text>
<text x="215.95" y="247.50" font-size="5.6" text-anchor="middle">420</text>
<text x="239.42" y="247.50" font-size="5.6" text-anchor="middle">480</text>
<text x="134.77" y="255.80" font-size="6.05" text-anchor="middle">time relative to the formation of tight cell couples (s)</text>
<text x="125.60" y="146.90" font-size="7.0">DAG, Teff pep</text>
<text transform="translate(261.42 198.65) rotate(-90)" font-size="6.05" text-anchor="middle">Percentage of cell couples with</text>
<text transform="translate(268.92 199.10) rotate(-90)" font-size="5.85" text-anchor="middle">accumulation of tandem C1-GFP</text>
<path d="M35.95 235.80V237.47M34.95 235.80h2M34.95 237.47h2M43.77 214.59V222.91M42.77 214.59h2M42.77 222.91h2M51.60 180.48V190.46M50.60 180.48h2M50.60 190.46h2M59.43 169.24V177.56M58.43 169.24h2M58.43 177.56h2M67.25 171.74V180.06M66.25 171.74h2M66.25 180.06h2M75.08 175.07V183.39M74.08 175.07h2M74.08 183.39h2M82.90 182.81V192.79M81.90 182.81h2M81.90 192.79h2M90.73 185.30V195.29M89.73 185.30h2M89.73 195.29h2M98.56 188.21V198.20M97.56 188.21h2M97.56 198.20h2M122.03 189.88V203.19M121.03 189.88h2M121.03 203.19h2M168.99 196.03V219.33M167.99 196.03h2M167.99 219.33h2M215.95 219.16V235.80M214.95 219.16h2M214.95 235.80h2" stroke="#333333" stroke-width="0.6" fill="none"/>
<path d="M35.95 235.39V237.05M34.95 235.39h2M34.95 237.05h2M43.77 221.66V228.32M42.77 221.66h2M42.77 228.32h2M51.60 217.83V224.49M50.60 217.83h2M50.60 224.49h2M59.43 208.85V217.17M58.43 208.85h2M58.43 217.17h2M67.25 217.08V223.74M66.25 217.08h2M66.25 223.74h2M75.08 218.33V224.99M74.08 218.33h2M74.08 224.99h2M82.90 224.16V230.81M81.90 224.16h2M81.90 230.81h2M90.73 224.99V231.64M89.73 224.99h2M89.73 231.64h2M98.56 221.91V228.57M97.56 221.91h2M97.56 228.57h2M122.03 214.17V224.16M121.03 214.17h2M121.03 224.16h2M168.99 224.99V234.97M167.99 224.99h2M167.99 234.97h2M215.95 236.64V238.30M214.95 236.64h2M214.95 238.30h2" stroke="#D88C8A" stroke-width="0.6" fill="none"/>
<path d="M43.77 234.97V238.30M42.77 234.97h2M42.77 238.30h2M51.60 234.97V238.30M50.60 234.97h2M50.60 238.30h2M59.43 235.80V238.30M58.43 235.80h2M58.43 238.30h2M67.25 235.80V238.30M66.25 235.80h2M66.25 238.30h2M75.08 235.80V238.30M74.08 235.80h2M74.08 238.30h2M82.90 235.80V238.30M81.90 235.80h2M81.90 238.30h2M90.73 235.80V238.30M89.73 235.80h2M89.73 238.30h2M98.56 235.80V238.30M97.56 235.80h2M97.56 238.30h2M122.03 231.64V238.30M121.03 231.64h2M121.03 238.30h2" stroke="#EDB5B5" stroke-width="0.6" fill="none"/>
<path d="M35.95 235.80V237.47M34.95 235.80h2M34.95 237.47h2M43.77 227.90V234.56M42.77 227.90h2M42.77 234.56h2M51.60 200.19V210.18M50.60 200.19h2M50.60 210.18h2M59.43 196.70V206.68M58.43 196.70h2M58.43 206.68h2M67.25 190.63V200.61M66.25 190.63h2M66.25 200.61h2M75.08 191.29V201.28M74.08 191.29h2M74.08 201.28h2M82.90 199.03V209.01M81.90 199.03h2M81.90 209.01h2M90.73 199.78V209.76M89.73 199.78h2M89.73 209.76h2M98.56 205.02V215.00M97.56 205.02h2M97.56 215.00h2M122.03 210.01V223.32M121.03 210.01h2M121.03 223.32h2M168.99 214.50V231.14M167.99 214.50h2M167.99 231.14h2M215.95 236.64V238.30M214.95 236.64h2M214.95 238.30h2" stroke="#B7A6D0" stroke-width="0.6" fill="none"/>
<path d="M51.60 236.64V238.30M50.60 236.64h2M50.60 238.30h2M59.43 236.64V238.30M58.43 236.64h2M58.43 238.30h2M82.90 235.80V238.30M81.90 235.80h2M81.90 238.30h2M90.73 229.98V234.97M89.73 229.98h2M89.73 234.97h2" stroke="#6A8AB8" stroke-width="0.6" fill="none"/>
<path d="M51.60 236.64V238.30M50.60 236.64h2M50.60 238.30h2M82.90 231.64V236.64M81.90 231.64h2M81.90 236.64h2M90.73 236.64V238.30M89.73 236.64h2M89.73 238.30h2M98.56 234.97V238.30M97.56 234.97h2M97.56 238.30h2M168.99 223.91V237.22M167.99 223.91h2M167.99 237.22h2M215.95 218.33V236.64M214.95 218.33h2M214.95 236.64h2" stroke="#8DB3E6" stroke-width="0.6" fill="none"/>
<polyline points="35.95,236.64 43.77,218.75 51.60,185.47 59.43,173.40 67.25,175.90 75.08,179.23 82.90,187.80 90.73,190.29 98.56,193.21 122.03,196.53 168.99,207.68 215.95,227.48" fill="none" stroke="#000000" stroke-width="1.2" stroke-linejoin="round"/>
<rect x="34.75" y="235.44" width="2.4" height="2.4" fill="#000000" transform="rotate(45 35.95 236.64)"/>
<rect x="42.57" y="217.55" width="2.4" height="2.4" fill="#000000" transform="rotate(45 43.77 218.75)"/>
<rect x="50.40" y="184.27" width="2.4" height="2.4" fill="#000000" transform="rotate(45 51.60 185.47)"/>
<rect x="58.23" y="172.20" width="2.4" height="2.4" fill="#000000" transform="rotate(45 59.43 173.40)"/>
<rect x="66.05" y="174.70" width="2.4" height="2.4" fill="#000000" transform="rotate(45 67.25 175.90)"/>
<rect x="73.88" y="178.03" width="2.4" height="2.4" fill="#000000" transform="rotate(45 75.08 179.23)"/>
<rect x="81.70" y="186.60" width="2.4" height="2.4" fill="#000000" transform="rotate(45 82.90 187.80)"/>
<rect x="89.53" y="189.09" width="2.4" height="2.4" fill="#000000" transform="rotate(45 90.73 190.29)"/>
<rect x="97.36" y="192.01" width="2.4" height="2.4" fill="#000000" transform="rotate(45 98.56 193.21)"/>
<rect x="120.83" y="195.33" width="2.4" height="2.4" fill="#000000" transform="rotate(45 122.03 196.53)"/>
<rect x="167.79" y="206.48" width="2.4" height="2.4" fill="#000000" transform="rotate(45 168.99 207.68)"/>
<rect x="214.75" y="226.28" width="2.4" height="2.4" fill="#000000" transform="rotate(45 215.95 227.48)"/>
<polyline points="35.95,236.22 43.77,224.99 51.60,221.16 59.43,213.01 67.25,220.41 75.08,221.66 82.90,227.48 90.73,228.32 98.56,225.24 122.03,219.16 168.99,229.98 215.95,237.47" fill="none" stroke="#C0504D" stroke-width="1.2" stroke-linejoin="round"/>
<rect x="34.25" y="234.52" width="3.4" height="3.4" fill="#C0504D"/>
<rect x="42.07" y="223.29" width="3.4" height="3.4" fill="#C0504D"/>
<rect x="49.90" y="219.46" width="3.4" height="3.4" fill="#C0504D"/>
<rect x="57.73" y="211.31" width="3.4" height="3.4" fill="#C0504D"/>
<rect x="65.55" y="218.71" width="3.4" height="3.4" fill="#C0504D"/>
<rect x="73.38" y="219.96" width="3.4" height="3.4" fill="#C0504D"/>
<rect x="81.20" y="225.78" width="3.4" height="3.4" fill="#C0504D"/>
<rect x="89.03" y="226.62" width="3.4" height="3.4" fill="#C0504D"/>
<rect x="96.86" y="223.54" width="3.4" height="3.4" fill="#C0504D"/>
<rect x="120.33" y="217.46" width="3.4" height="3.4" fill="#C0504D"/>
<rect x="167.29" y="228.28" width="3.4" height="3.4" fill="#C0504D"/>
<rect x="214.25" y="235.77" width="3.4" height="3.4" fill="#C0504D"/>
<polyline points="35.95,237.47 43.77,236.64 51.60,236.64 59.43,237.47 67.25,237.47 75.08,237.47 82.90,237.47 90.73,237.47 98.56,237.47 122.03,235.80 168.99,238.30 215.95,238.30" fill="none" stroke="#E69A9A" stroke-width="1.2" stroke-linejoin="round"/>
<path d="M35.95 235.67L37.75 238.77L34.15 238.77Z" fill="#E69A9A"/>
<path d="M43.77 234.84L45.57 237.94L41.97 237.94Z" fill="#E69A9A"/>
<path d="M51.60 234.84L53.40 237.94L49.80 237.94Z" fill="#E69A9A"/>
<path d="M59.43 235.67L61.23 238.77L57.63 238.77Z" fill="#E69A9A"/>
<path d="M67.25 235.67L69.05 238.77L65.45 238.77Z" fill="#E69A9A"/>
<path d="M75.08 235.67L76.88 238.77L73.28 238.77Z" fill="#E69A9A"/>
<path d="M82.90 235.67L84.70 238.77L81.10 238.77Z" fill="#E69A9A"/>
<path d="M90.73 235.67L92.53 238.77L88.93 238.77Z" fill="#E69A9A"/>
<path d="M98.56 235.67L100.36 238.77L96.76 238.77Z" fill="#E69A9A"/>
<path d="M122.03 234.00L123.83 237.10L120.23 237.10Z" fill="#E69A9A"/>
<path d="M168.99 236.50L170.79 239.60L167.19 239.60Z" fill="#E69A9A"/>
<path d="M215.95 236.50L217.75 239.60L214.15 239.60Z" fill="#E69A9A"/>
<polyline points="35.95,236.64 43.77,231.23 51.60,205.19 59.43,201.69 67.25,195.62 75.08,196.28 82.90,204.02 90.73,204.77 98.56,210.01 122.03,216.67 168.99,222.82 215.95,237.47" fill="none" stroke="#8064A2" stroke-width="1.2" stroke-linejoin="round"/>
<path d="M34.35 235.04L37.55 238.24M37.55 235.04L34.35 238.24" stroke="#8064A2" stroke-width="0.9"/>
<path d="M42.17 229.63L45.37 232.83M45.37 229.63L42.17 232.83" stroke="#8064A2" stroke-width="0.9"/>
<path d="M50.00 203.59L53.20 206.79M53.20 203.59L50.00 206.79" stroke="#8064A2" stroke-width="0.9"/>
<path d="M57.83 200.09L61.03 203.29M61.03 200.09L57.83 203.29" stroke="#8064A2" stroke-width="0.9"/>
<path d="M65.65 194.02L68.85 197.22M68.85 194.02L65.65 197.22" stroke="#8064A2" stroke-width="0.9"/>
<path d="M73.48 194.68L76.68 197.88M76.68 194.68L73.48 197.88" stroke="#8064A2" stroke-width="0.9"/>
<path d="M81.30 202.42L84.50 205.62M84.50 202.42L81.30 205.62" stroke="#8064A2" stroke-width="0.9"/>
<path d="M89.13 203.17L92.33 206.37M92.33 203.17L89.13 206.37" stroke="#8064A2" stroke-width="0.9"/>
<path d="M96.96 208.41L100.16 211.61M100.16 208.41L96.96 211.61" stroke="#8064A2" stroke-width="0.9"/>
<path d="M120.43 215.07L123.63 218.27M123.63 215.07L120.43 218.27" stroke="#8064A2" stroke-width="0.9"/>
<path d="M167.39 221.22L170.59 224.42M170.59 221.22L167.39 224.42" stroke="#8064A2" stroke-width="0.9"/>
<path d="M214.35 235.87L217.55 239.07M217.55 235.87L214.35 239.07" stroke="#8064A2" stroke-width="0.9"/>
<polyline points="35.95,238.30 43.77,238.30 51.60,238.30 59.43,238.30 67.25,238.30 75.08,238.30 82.90,238.30 90.73,238.30 98.56,238.30 122.03,238.30 168.99,238.30 215.95,238.30" fill="none" stroke="#9BBB59" stroke-width="1.2" stroke-linejoin="round"/>
<rect x="34.25" y="236.60" width="3.4" height="3.4" fill="#9BBB59"/>
<rect x="42.07" y="236.60" width="3.4" height="3.4" fill="#9BBB59"/>
<rect x="49.90" y="236.60" width="3.4" height="3.4" fill="#9BBB59"/>
<rect x="57.73" y="236.60" width="3.4" height="3.4" fill="#9BBB59"/>
<rect x="65.55" y="236.60" width="3.4" height="3.4" fill="#9BBB59"/>
<rect x="73.38" y="236.60" width="3.4" height="3.4" fill="#9BBB59"/>
<rect x="81.20" y="236.60" width="3.4" height="3.4" fill="#9BBB59"/>
<rect x="89.03" y="236.60" width="3.4" height="3.4" fill="#9BBB59"/>
<rect x="96.86" y="236.60" width="3.4" height="3.4" fill="#9BBB59"/>
<rect x="120.33" y="236.60" width="3.4" height="3.4" fill="#9BBB59"/>
<rect x="167.29" y="236.60" width="3.4" height="3.4" fill="#9BBB59"/>
<rect x="214.25" y="236.60" width="3.4" height="3.4" fill="#9BBB59"/>
<polyline points="35.95,238.30 43.77,238.30 51.60,237.47 59.43,237.47 67.25,238.30 75.08,238.30 82.90,237.47 90.73,232.48 98.56,238.30 122.03,238.30 168.99,238.30 215.95,237.47" fill="none" stroke="#1F4E8C" stroke-width="1.2" stroke-linejoin="round"/>
<circle cx="35.95" cy="238.30" r="1.6" fill="#1F4E8C"/>
<circle cx="43.77" cy="238.30" r="1.6" fill="#1F4E8C"/>
<circle cx="51.60" cy="237.47" r="1.6" fill="#1F4E8C"/>
<circle cx="59.43" cy="237.47" r="1.6" fill="#1F4E8C"/>
<circle cx="67.25" cy="238.30" r="1.6" fill="#1F4E8C"/>
<circle cx="75.08" cy="238.30" r="1.6" fill="#1F4E8C"/>
<circle cx="82.90" cy="237.47" r="1.6" fill="#1F4E8C"/>
<circle cx="90.73" cy="232.48" r="1.6" fill="#1F4E8C"/>
<circle cx="98.56" cy="238.30" r="1.6" fill="#1F4E8C"/>
<circle cx="122.03" cy="238.30" r="1.6" fill="#1F4E8C"/>
<circle cx="168.99" cy="238.30" r="1.6" fill="#1F4E8C"/>
<circle cx="215.95" cy="237.47" r="1.6" fill="#1F4E8C"/>
<polyline points="35.95,237.47 43.77,238.30 51.60,237.47 59.43,238.30 67.25,238.30 75.08,238.30 82.90,234.14 90.73,237.47 98.56,236.64 122.03,238.30 168.99,230.56 215.95,227.48" fill="none" stroke="#4A86D4" stroke-width="1.2" stroke-linejoin="round"/>
<circle cx="35.95" cy="237.47" r="1.9" fill="#4A86D4"/>
<circle cx="43.77" cy="238.30" r="1.9" fill="#4A86D4"/>
<circle cx="51.60" cy="237.47" r="1.9" fill="#4A86D4"/>
<circle cx="59.43" cy="238.30" r="1.9" fill="#4A86D4"/>
<circle cx="67.25" cy="238.30" r="1.9" fill="#4A86D4"/>
<circle cx="75.08" cy="238.30" r="1.9" fill="#4A86D4"/>
<circle cx="82.90" cy="234.14" r="1.9" fill="#4A86D4"/>
<circle cx="90.73" cy="237.47" r="1.9" fill="#4A86D4"/>
<circle cx="98.56" cy="236.64" r="1.9" fill="#4A86D4"/>
<circle cx="122.03" cy="238.30" r="1.9" fill="#4A86D4"/>
<circle cx="168.99" cy="230.56" r="1.9" fill="#4A86D4"/>
<circle cx="215.95" cy="227.48" r="1.9" fill="#4A86D4"/></g><g fill="#222"><path d="M33.29 393.00H240.38M240.38 393.00V310.10" stroke="#C9C9C9" stroke-width="0.8" fill="none"/>
<path d="M240.38 393.00h1.6M240.38 384.71h1.6M240.38 376.42h1.6M240.38 368.13h1.6M240.38 359.84h1.6M240.38 351.55h1.6M240.38 343.26h1.6M240.38 334.97h1.6M240.38 326.68h1.6M240.38 318.39h1.6M240.38 310.10h1.6M33.29 393.00v-1.4M56.30 393.00v-1.4M79.31 393.00v-1.4M102.32 393.00v-1.4M125.33 393.00v-1.4M148.34 393.00v-1.4M171.35 393.00v-1.4M194.36 393.00v-1.4M217.37 393.00v-1.4M240.38 393.00v-1.4" stroke="#C9C9C9" stroke-width="0.6"/>
<text x="245.78" y="394.90" font-size="5.7">0</text>
<text x="245.78" y="386.61" font-size="5.7">10</text>
<text x="245.78" y="378.32" font-size="5.7">20</text>
<text x="245.78" y="370.03" font-size="5.7">30</text>
<text x="245.78" y="361.74" font-size="5.7">40</text>
<text x="245.78" y="353.45" font-size="5.7">50</text>
<text x="245.78" y="345.16" font-size="5.7">60</text>
<text x="245.78" y="336.87" font-size="5.7">70</text>
<text x="245.78" y="328.58" font-size="5.7">80</text>
<text x="245.78" y="320.29" font-size="5.7">90</text>
<text x="245.78" y="312.00" font-size="5.7">100</text>
<text x="33.29" y="402.20" font-size="5.6" text-anchor="middle">-60</text>
<text x="56.30" y="402.20" font-size="5.6" text-anchor="middle">0</text>
<text x="79.31" y="402.20" font-size="5.6" text-anchor="middle">60</text>
<text x="102.32" y="402.20" font-size="5.6" text-anchor="middle">120</text>
<text x="125.33" y="402.20" font-size="5.6" text-anchor="middle">180</text>
<text x="148.34" y="402.20" font-size="5.6" text-anchor="middle">240</text>
<text x="171.35" y="402.20" font-size="5.6" text-anchor="middle">300</text>
<text x="194.36" y="402.20" font-size="5.6" text-anchor="middle">360</text>
<text x="217.37" y="402.20" font-size="5.6" text-anchor="middle">420</text>
<text x="240.38" y="402.20" font-size="5.6" text-anchor="middle">480</text>
<text x="136.83" y="409.80" font-size="5.7" text-anchor="middle">time relative to the formation of tight cell couples (s)</text>
<text x="126.50" y="302.90" font-size="7.0">DAG, Ttol</text>
<path d="M40.96 390.02V391.67M39.96 390.02h2M39.96 391.67h2M48.63 383.05V388.03M47.63 383.05h2M47.63 388.03h2M56.30 341.60V353.21M55.30 341.60h2M55.30 353.21h2M63.97 337.21V348.81M62.97 337.21h2M62.97 348.81h2M71.64 346.00V357.60M70.64 346.00h2M70.64 357.60h2M79.31 359.59V371.20M78.31 359.59h2M78.31 371.20h2M86.98 359.59V371.20M85.98 359.59h2M85.98 371.20h2M94.65 361.83V373.44M93.65 361.83h2M93.65 373.44h2M102.32 370.70V382.31M101.32 370.70h2M101.32 382.31h2M125.33 370.78V384.05M124.33 370.78h2M124.33 384.05h2M171.35 380.56V388.86M170.35 380.56h2M170.35 388.86h2M217.37 380.56V388.86M216.37 380.56h2M216.37 388.86h2" stroke="#333333" stroke-width="0.6" fill="none"/>
<path d="M40.96 390.10V391.76M39.96 390.10h2M39.96 391.76h2M48.63 387.20V390.51M47.63 387.20h2M47.63 390.51h2M56.30 371.69V379.98M55.30 371.69h2M55.30 379.98h2M63.97 369.04V377.33M62.97 369.04h2M62.97 377.33h2M71.64 382.89V387.86M70.64 382.89h2M70.64 387.86h2M79.31 383.88V388.86M78.31 383.88h2M78.31 388.86h2M86.98 383.88V388.86M85.98 383.88h2M85.98 388.86h2M94.65 381.81V386.78M93.65 381.81h2M93.65 386.78h2M102.32 382.89V387.86M101.32 382.89h2M101.32 387.86h2M125.33 386.37V391.34M124.33 386.37h2M124.33 391.34h2M171.35 383.88V388.86M170.35 383.88h2M170.35 388.86h2M217.37 380.56V388.86M216.37 380.56h2M216.37 388.86h2" stroke="#D88C8A" stroke-width="0.6" fill="none"/>
<path d="M40.96 390.51V392.17M39.96 390.51h2M39.96 392.17h2M48.63 388.86V392.17M47.63 388.86h2M47.63 392.17h2M56.30 380.32V386.95M55.30 380.32h2M55.30 386.95h2M63.97 370.20V378.49M62.97 370.20h2M62.97 378.49h2M71.64 383.88V388.86M70.64 383.88h2M70.64 388.86h2M79.31 388.86V392.17M78.31 388.86h2M78.31 392.17h2M86.98 388.86V392.17M85.98 388.86h2M85.98 392.17h2M94.65 387.20V390.51M93.65 387.20h2M93.65 390.51h2M102.32 384.71V388.03M101.32 384.71h2M101.32 388.03h2M125.33 387.20V390.51M124.33 387.20h2M124.33 390.51h2M171.35 387.20V390.51M170.35 387.20h2M170.35 390.51h2M217.37 383.05V388.03M216.37 383.05h2M216.37 388.03h2" stroke="#EDB5B5" stroke-width="0.6" fill="none"/>
<path d="M40.96 390.51V392.17M39.96 390.51h2M39.96 392.17h2M48.63 388.86V392.17M47.63 388.86h2M47.63 392.17h2M56.30 372.86V381.15M55.30 372.86h2M55.30 381.15h2M63.97 365.89V375.84M62.97 365.89h2M62.97 375.84h2M71.64 373.93V382.22M70.64 373.93h2M70.64 382.22h2M79.31 369.46V377.75M78.31 369.46h2M78.31 377.75h2M86.98 373.93V382.22M85.98 373.93h2M85.98 382.22h2M94.65 380.98V387.61M93.65 380.98h2M93.65 387.61h2M102.32 388.86V392.17M101.32 388.86h2M101.32 392.17h2M125.33 388.86V392.17M124.33 388.86h2M124.33 392.17h2M171.35 390.51V392.17M170.35 390.51h2M170.35 392.17h2" stroke="#B7A6D0" stroke-width="0.6" fill="none"/>
<path d="M63.97 390.51V392.17M62.97 390.51h2M62.97 392.17h2M71.64 391.34V393.00M70.64 391.34h2M70.64 393.00h2M86.98 390.51V392.17M85.98 390.51h2M85.98 392.17h2M94.65 385.54V388.86M93.65 385.54h2M93.65 388.86h2M102.32 390.51V392.17M101.32 390.51h2M101.32 392.17h2M125.33 391.34V393.00M124.33 391.34h2M124.33 393.00h2" stroke="#6A8AB8" stroke-width="0.6" fill="none"/>
<path d="M48.63 389.68V391.34M47.63 389.68h2M47.63 391.34h2M56.30 378.58V385.21M55.30 378.58h2M55.30 385.21h2M63.97 388.86V392.17M62.97 388.86h2M62.97 392.17h2M71.64 376.25V382.89M70.64 376.25h2M70.64 382.89h2M86.98 387.53V390.84M85.98 387.53h2M85.98 390.84h2M94.65 390.51V392.17M93.65 390.51h2M93.65 392.17h2M102.32 387.20V390.51M101.32 387.20h2M101.32 390.51h2M125.33 387.20V390.51M124.33 387.20h2M124.33 390.51h2M171.35 391.34V393.00M170.35 391.34h2M170.35 393.00h2" stroke="#8DB3E6" stroke-width="0.6" fill="none"/>
<polyline points="40.96,390.84 48.63,385.54 56.30,347.40 63.97,343.01 71.64,351.80 79.31,365.39 86.98,365.39 94.65,367.63 102.32,376.50 125.33,377.41 171.35,384.71 217.37,384.71" fill="none" stroke="#000000" stroke-width="1.2" stroke-linejoin="round"/>
<rect x="39.76" y="389.64" width="2.4" height="2.4" fill="#000000" transform="rotate(45 40.96 390.84)"/>
<rect x="47.43" y="384.34" width="2.4" height="2.4" fill="#000000" transform="rotate(45 48.63 385.54)"/>
<rect x="55.10" y="346.20" width="2.4" height="2.4" fill="#000000" transform="rotate(45 56.30 347.40)"/>
<rect x="62.77" y="341.81" width="2.4" height="2.4" fill="#000000" transform="rotate(45 63.97 343.01)"/>
<rect x="70.44" y="350.60" width="2.4" height="2.4" fill="#000000" transform="rotate(45 71.64 351.80)"/>
<rect x="78.11" y="364.19" width="2.4" height="2.4" fill="#000000" transform="rotate(45 79.31 365.39)"/>
<rect x="85.78" y="364.19" width="2.4" height="2.4" fill="#000000" transform="rotate(45 86.98 365.39)"/>
<rect x="93.45" y="366.43" width="2.4" height="2.4" fill="#000000" transform="rotate(45 94.65 367.63)"/>
<rect x="101.12" y="375.30" width="2.4" height="2.4" fill="#000000" transform="rotate(45 102.32 376.50)"/>
<rect x="124.13" y="376.21" width="2.4" height="2.4" fill="#000000" transform="rotate(45 125.33 377.41)"/>
<rect x="170.15" y="383.51" width="2.4" height="2.4" fill="#000000" transform="rotate(45 171.35 384.71)"/>
<rect x="216.17" y="383.51" width="2.4" height="2.4" fill="#000000" transform="rotate(45 217.37 384.71)"/>
<polyline points="40.96,390.93 48.63,388.86 56.30,375.84 63.97,373.19 71.64,385.37 79.31,386.37 86.98,386.37 94.65,384.30 102.32,385.37 125.33,388.86 171.35,386.37 217.37,384.71" fill="none" stroke="#C0504D" stroke-width="1.2" stroke-linejoin="round"/>
<rect x="39.26" y="389.23" width="3.4" height="3.4" fill="#C0504D"/>
<rect x="46.93" y="387.16" width="3.4" height="3.4" fill="#C0504D"/>
<rect x="54.60" y="374.14" width="3.4" height="3.4" fill="#C0504D"/>
<rect x="62.27" y="371.49" width="3.4" height="3.4" fill="#C0504D"/>
<rect x="69.94" y="383.67" width="3.4" height="3.4" fill="#C0504D"/>
<rect x="77.61" y="384.67" width="3.4" height="3.4" fill="#C0504D"/>
<rect x="85.28" y="384.67" width="3.4" height="3.4" fill="#C0504D"/>
<rect x="92.95" y="382.60" width="3.4" height="3.4" fill="#C0504D"/>
<rect x="100.62" y="383.67" width="3.4" height="3.4" fill="#C0504D"/>
<rect x="123.63" y="387.16" width="3.4" height="3.4" fill="#C0504D"/>
<rect x="169.65" y="384.67" width="3.4" height="3.4" fill="#C0504D"/>
<rect x="215.67" y="383.01" width="3.4" height="3.4" fill="#C0504D"/>
<polyline points="40.96,391.34 48.63,390.51 56.30,383.63 63.97,374.35 71.64,386.37 79.31,390.51 86.98,390.51 94.65,388.86 102.32,386.37 125.33,388.86 171.35,388.86 217.37,385.54" fill="none" stroke="#E69A9A" stroke-width="1.2" stroke-linejoin="round"/>
<path d="M40.96 389.54L42.76 392.64L39.16 392.64Z" fill="#E69A9A"/>
<path d="M48.63 388.71L50.43 391.81L46.83 391.81Z" fill="#E69A9A"/>
<path d="M56.30 381.83L58.10 384.93L54.50 384.93Z" fill="#E69A9A"/>
<path d="M63.97 372.55L65.77 375.65L62.17 375.65Z" fill="#E69A9A"/>
<path d="M71.64 384.57L73.44 387.67L69.84 387.67Z" fill="#E69A9A"/>
<path d="M79.31 388.71L81.11 391.81L77.51 391.81Z" fill="#E69A9A"/>
<path d="M86.98 388.71L88.78 391.81L85.18 391.81Z" fill="#E69A9A"/>
<path d="M94.65 387.06L96.45 390.16L92.85 390.16Z" fill="#E69A9A"/>
<path d="M102.32 384.57L104.12 387.67L100.52 387.67Z" fill="#E69A9A"/>
<path d="M125.33 387.06L127.13 390.16L123.53 390.16Z" fill="#E69A9A"/>
<path d="M171.35 387.06L173.15 390.16L169.55 390.16Z" fill="#E69A9A"/>
<path d="M217.37 383.74L219.17 386.84L215.57 386.84Z" fill="#E69A9A"/>
<polyline points="40.96,391.34 48.63,390.51 56.30,377.00 63.97,370.87 71.64,378.08 79.31,373.60 86.98,378.08 94.65,384.30 102.32,390.51 125.33,390.51 171.35,391.34 217.37,393.00" fill="none" stroke="#8064A2" stroke-width="1.2" stroke-linejoin="round"/>
<path d="M39.36 389.74L42.56 392.94M42.56 389.74L39.36 392.94" stroke="#8064A2" stroke-width="0.9"/>
<path d="M47.03 388.91L50.23 392.11M50.23 388.91L47.03 392.11" stroke="#8064A2" stroke-width="0.9"/>
<path d="M54.70 375.40L57.90 378.60M57.90 375.40L54.70 378.60" stroke="#8064A2" stroke-width="0.9"/>
<path d="M62.37 369.27L65.57 372.47M65.57 369.27L62.37 372.47" stroke="#8064A2" stroke-width="0.9"/>
<path d="M70.04 376.48L73.24 379.68M73.24 376.48L70.04 379.68" stroke="#8064A2" stroke-width="0.9"/>
<path d="M77.71 372.00L80.91 375.20M80.91 372.00L77.71 375.20" stroke="#8064A2" stroke-width="0.9"/>
<path d="M85.38 376.48L88.58 379.68M88.58 376.48L85.38 379.68" stroke="#8064A2" stroke-width="0.9"/>
<path d="M93.05 382.70L96.25 385.90M96.25 382.70L93.05 385.90" stroke="#8064A2" stroke-width="0.9"/>
<path d="M100.72 388.91L103.92 392.11M103.92 388.91L100.72 392.11" stroke="#8064A2" stroke-width="0.9"/>
<path d="M123.73 388.91L126.93 392.11M126.93 388.91L123.73 392.11" stroke="#8064A2" stroke-width="0.9"/>
<path d="M169.75 389.74L172.95 392.94M172.95 389.74L169.75 392.94" stroke="#8064A2" stroke-width="0.9"/>
<path d="M215.77 391.40L218.97 394.60M218.97 391.40L215.77 394.60" stroke="#8064A2" stroke-width="0.9"/>
<polyline points="40.96,393.00 48.63,393.00 56.30,393.00 63.97,393.00 71.64,393.00 79.31,393.00 86.98,393.00 94.65,393.00 102.32,393.00 125.33,393.00 171.35,393.00 217.37,393.00" fill="none" stroke="#9BBB59" stroke-width="1.2" stroke-linejoin="round"/>
<rect x="39.26" y="391.30" width="3.4" height="3.4" fill="#9BBB59"/>
<rect x="46.93" y="391.30" width="3.4" height="3.4" fill="#9BBB59"/>
<rect x="54.60" y="391.30" width="3.4" height="3.4" fill="#9BBB59"/>
<rect x="62.27" y="391.30" width="3.4" height="3.4" fill="#9BBB59"/>
<rect x="69.94" y="391.30" width="3.4" height="3.4" fill="#9BBB59"/>
<rect x="77.61" y="391.30" width="3.4" height="3.4" fill="#9BBB59"/>
<rect x="85.28" y="391.30" width="3.4" height="3.4" fill="#9BBB59"/>
<rect x="92.95" y="391.30" width="3.4" height="3.4" fill="#9BBB59"/>
<rect x="100.62" y="391.30" width="3.4" height="3.4" fill="#9BBB59"/>
<rect x="123.63" y="391.30" width="3.4" height="3.4" fill="#9BBB59"/>
<rect x="169.65" y="391.30" width="3.4" height="3.4" fill="#9BBB59"/>
<rect x="215.67" y="391.30" width="3.4" height="3.4" fill="#9BBB59"/>
<polyline points="40.96,393.00 48.63,393.00 56.30,393.00 63.97,391.34 71.64,392.17 79.31,393.00 86.98,391.34 94.65,387.20 102.32,391.34 125.33,392.17 171.35,393.00 217.37,393.00" fill="none" stroke="#1F4E8C" stroke-width="1.2" stroke-linejoin="round"/>
<circle cx="40.96" cy="393.00" r="1.6" fill="#1F4E8C"/>
<circle cx="48.63" cy="393.00" r="1.6" fill="#1F4E8C"/>
<circle cx="56.30" cy="393.00" r="1.6" fill="#1F4E8C"/>
<circle cx="63.97" cy="391.34" r="1.6" fill="#1F4E8C"/>
<circle cx="71.64" cy="392.17" r="1.6" fill="#1F4E8C"/>
<circle cx="79.31" cy="393.00" r="1.6" fill="#1F4E8C"/>
<circle cx="86.98" cy="391.34" r="1.6" fill="#1F4E8C"/>
<circle cx="94.65" cy="387.20" r="1.6" fill="#1F4E8C"/>
<circle cx="102.32" cy="391.34" r="1.6" fill="#1F4E8C"/>
<circle cx="125.33" cy="392.17" r="1.6" fill="#1F4E8C"/>
<circle cx="171.35" cy="393.00" r="1.6" fill="#1F4E8C"/>
<circle cx="217.37" cy="393.00" r="1.6" fill="#1F4E8C"/>
<polyline points="40.96,393.00 48.63,390.51 56.30,381.89 63.97,390.51 71.64,379.57 79.31,393.00 86.98,389.19 94.65,391.34 102.32,388.86 125.33,388.86 171.35,392.17 217.37,393.00" fill="none" stroke="#4A86D4" stroke-width="1.2" stroke-linejoin="round"/>
<circle cx="40.96" cy="393.00" r="1.9" fill="#4A86D4"/>
<circle cx="48.63" cy="390.51" r="1.9" fill="#4A86D4"/>
<circle cx="56.30" cy="381.89" r="1.9" fill="#4A86D4"/>
<circle cx="63.97" cy="390.51" r="1.9" fill="#4A86D4"/>
<circle cx="71.64" cy="379.57" r="1.9" fill="#4A86D4"/>
<circle cx="79.31" cy="393.00" r="1.9" fill="#4A86D4"/>
<circle cx="86.98" cy="389.19" r="1.9" fill="#4A86D4"/>
<circle cx="94.65" cy="391.34" r="1.9" fill="#4A86D4"/>
<circle cx="102.32" cy="388.86" r="1.9" fill="#4A86D4"/>
<circle cx="125.33" cy="388.86" r="1.9" fill="#4A86D4"/>
<circle cx="171.35" cy="392.17" r="1.9" fill="#4A86D4"/>
<circle cx="217.37" cy="393.00" r="1.9" fill="#4A86D4"/></g><g fill="#222"><path d="M287.89 238.00H499.46M499.46 238.00V155.40" stroke="#C9C9C9" stroke-width="0.8" fill="none"/>
<path d="M499.46 238.00h1.6M499.46 229.74h1.6M499.46 221.48h1.6M499.46 213.22h1.6M499.46 204.96h1.6M499.46 196.70h1.6M499.46 188.44h1.6M499.46 180.18h1.6M499.46 171.92h1.6M499.46 163.66h1.6M499.46 155.40h1.6M287.89 238.00v-1.4M311.40 238.00v-1.4M334.91 238.00v-1.4M358.42 238.00v-1.4M381.92 238.00v-1.4M405.43 238.00v-1.4M428.94 238.00v-1.4M452.45 238.00v-1.4M475.96 238.00v-1.4M499.46 238.00v-1.4" stroke="#C9C9C9" stroke-width="0.6"/>
<text x="504.86" y="239.90" font-size="5.7">0</text>
<text x="504.86" y="231.64" font-size="5.7">10</text>
<text x="504.86" y="223.38" font-size="5.7">20</text>
<text x="504.86" y="215.12" font-size="5.7">30</text>
<text x="504.86" y="206.86" font-size="5.7">40</text>
<text x="504.86" y="198.60" font-size="5.7">50</text>
<text x="504.86" y="190.34" font-size="5.7">60</text>
<text x="504.86" y="182.08" font-size="5.7">70</text>
<text x="504.86" y="173.82" font-size="5.7">80</text>
<text x="504.86" y="165.56" font-size="5.7">90</text>
<text x="504.86" y="157.30" font-size="5.7">100</text>
<text x="287.89" y="247.20" font-size="5.6" text-anchor="middle">-60</text>
<text x="311.40" y="247.20" font-size="5.6" text-anchor="middle">0</text>
<text x="334.91" y="247.20" font-size="5.6" text-anchor="middle">60</text>
<text x="358.42" y="247.20" font-size="5.6" text-anchor="middle">120</text>
<text x="381.92" y="247.20" font-size="5.6" text-anchor="middle">180</text>
<text x="405.43" y="247.20" font-size="5.6" text-anchor="middle">240</text>
<text x="428.94" y="247.20" font-size="5.6" text-anchor="middle">300</text>
<text x="452.45" y="247.20" font-size="5.6" text-anchor="middle">360</text>
<text x="475.96" y="247.20" font-size="5.6" text-anchor="middle">420</text>
<text x="499.46" y="247.20" font-size="5.6" text-anchor="middle">480</text>
<text x="393.68" y="255.50" font-size="6.05" text-anchor="middle">time relative to the formation of tight cell couples (s)</text>
<text x="384.60" y="147.60" font-size="7.0">TCR<tspan font-family="Liberation Serif" style="stroke-width:0.1px">ζ</tspan>, Teff pep</text>
<text transform="translate(521.46 197.70) rotate(-90)" font-size="5.93" text-anchor="middle">Percentage of cell couples with</text>
<text transform="translate(528.96 196.80) rotate(-90)" font-size="5.75" text-anchor="middle">accumulation of TCRzeta-GFP</text>
<path d="M295.73 237.17V238.00M294.73 237.17h2M294.73 238.00h2M303.56 230.57V235.52M302.56 230.57h2M302.56 235.52h2M311.40 225.36V231.97M310.40 225.36h2M310.40 231.97h2M319.24 215.70V223.96M318.24 215.70h2M318.24 223.96h2M327.07 199.59V209.50M326.07 199.59h2M326.07 209.50h2M334.91 193.15V203.06M333.91 193.15h2M333.91 203.06h2M342.74 194.80V204.71M341.74 194.80h2M341.74 204.71h2M350.58 200.33V210.25M349.58 200.33h2M349.58 210.25h2M358.42 188.77V198.68M357.42 188.77h2M357.42 198.68h2M381.92 196.95V208.51M380.92 196.95h2M380.92 208.51h2M428.94 188.44V201.66M427.94 188.44h2M427.94 201.66h2M475.96 184.56V199.43M474.96 184.56h2M474.96 199.43h2" stroke="#333333" stroke-width="0.6" fill="none"/>
<path d="M303.56 236.35V238.00M302.56 236.35h2M302.56 238.00h2M311.40 230.57V233.87M310.40 230.57h2M310.40 233.87h2M319.24 230.98V234.28M318.24 230.98h2M318.24 234.28h2M327.07 228.91V233.87M326.07 228.91h2M326.07 233.87h2M334.91 225.11V230.07M333.91 225.11h2M333.91 230.07h2M342.74 225.11V230.07M341.74 225.11h2M341.74 230.07h2M350.58 225.11V230.07M349.58 225.11h2M349.58 230.07h2M358.42 225.11V230.07M357.42 225.11h2M357.42 230.07h2M381.92 224.78V231.39M380.92 224.78h2M380.92 231.39h2M428.94 212.39V222.31M427.94 212.39h2M427.94 222.31h2M475.96 212.39V222.31M474.96 212.39h2M474.96 222.31h2" stroke="#D88C8A" stroke-width="0.6" fill="none"/>
<path d="M303.56 236.35V238.00M302.56 236.35h2M302.56 238.00h2M311.40 234.70V238.00M310.40 234.70h2M310.40 238.00h2M319.24 233.87V237.17M318.24 233.87h2M318.24 237.17h2M327.07 233.04V236.35M326.07 233.04h2M326.07 236.35h2M334.91 233.04V236.35M333.91 233.04h2M333.91 236.35h2M342.74 233.04V236.35M341.74 233.04h2M341.74 236.35h2M350.58 233.04V236.35M349.58 233.04h2M349.58 236.35h2M358.42 233.04V236.35M357.42 233.04h2M357.42 236.35h2M381.92 232.22V237.17M380.92 232.22h2M380.92 237.17h2M428.94 233.04V238.00M427.94 233.04h2M427.94 238.00h2M475.96 233.04V238.00M474.96 233.04h2M474.96 238.00h2" stroke="#EDB5B5" stroke-width="0.6" fill="none"/>
<path d="M303.56 236.35V238.00M302.56 236.35h2M302.56 238.00h2M311.40 235.52V237.17M310.40 235.52h2M310.40 237.17h2M319.24 233.04V236.35M318.24 233.04h2M318.24 236.35h2M327.07 230.57V235.52M326.07 230.57h2M326.07 235.52h2M334.91 229.74V234.70M333.91 229.74h2M333.91 234.70h2M342.74 229.74V234.70M341.74 229.74h2M341.74 234.70h2M350.58 229.74V234.70M349.58 229.74h2M349.58 234.70h2M358.42 229.74V234.70M357.42 229.74h2M357.42 234.70h2M381.92 229.74V234.70M380.92 229.74h2M380.92 234.70h2M428.94 228.09V234.70M427.94 228.09h2M427.94 234.70h2M475.96 223.96V232.22M474.96 223.96h2M474.96 232.22h2" stroke="#B7A6D0" stroke-width="0.6" fill="none"/>
<path d="M428.94 235.52V237.17M427.94 235.52h2M427.94 237.17h2M475.96 235.52V237.17M474.96 235.52h2M474.96 237.17h2" stroke="#BFD49A" stroke-width="0.6" fill="none"/>
<path d="M303.56 236.35V238.00M302.56 236.35h2M302.56 238.00h2M311.40 236.35V238.00M310.40 236.35h2M310.40 238.00h2M319.24 233.46V236.76M318.24 233.46h2M318.24 236.76h2M327.07 230.57V235.52M326.07 230.57h2M326.07 235.52h2M334.91 226.44V231.39M333.91 226.44h2M333.91 231.39h2M342.74 226.44V231.39M341.74 226.44h2M341.74 231.39h2M350.58 225.11V230.07M349.58 225.11h2M349.58 230.07h2M358.42 228.42V233.37M357.42 228.42h2M357.42 233.37h2M381.92 228.91V233.87M380.92 228.91h2M380.92 233.87h2M428.94 228.91V233.87M427.94 228.91h2M427.94 233.87h2M475.96 227.26V232.22M474.96 227.26h2M474.96 232.22h2" stroke="#6A8AB8" stroke-width="0.6" fill="none"/>
<path d="M303.56 234.94V236.60M302.56 234.94h2M302.56 236.60h2M311.40 233.46V236.76M310.40 233.46h2M310.40 236.76h2M319.24 227.26V232.22M318.24 227.26h2M318.24 232.22h2M327.07 220.08V226.68M326.07 220.08h2M326.07 226.68h2M334.91 224.29V230.90M333.91 224.29h2M333.91 230.90h2M342.74 226.44V233.04M341.74 226.44h2M341.74 233.04h2M350.58 227.59V234.20M349.58 227.59h2M349.58 234.20h2M358.42 214.29V222.55M357.42 214.29h2M357.42 222.55h2M381.92 223.96V230.57M380.92 223.96h2M380.92 230.57h2M428.94 228.91V233.87M427.94 228.91h2M427.94 233.87h2M475.96 230.57V235.52M474.96 230.57h2M474.96 235.52h2" stroke="#8DB3E6" stroke-width="0.6" fill="none"/>
<path d="M295.73 226.44V231.39M294.73 226.44h2M294.73 231.39h2M303.56 212.31V220.57M302.56 212.31h2M302.56 220.57h2M311.40 191.91V201.82M310.40 191.91h2M310.40 201.82h2M319.24 188.77V198.68M318.24 188.77h2M318.24 198.68h2M327.07 189.93V199.84M326.07 189.93h2M326.07 199.84h2M334.91 198.76V208.68M333.91 198.76h2M333.91 208.68h2M342.74 209.50V219.41M341.74 209.50h2M341.74 219.41h2M350.58 207.85V217.76M349.58 207.85h2M349.58 217.76h2M358.42 210.74V220.65M357.42 210.74h2M357.42 220.65h2M381.92 220.65V228.91M380.92 220.65h2M380.92 228.91h2M428.94 228.09V234.70M427.94 228.09h2M427.94 234.70h2M475.96 231.39V236.35M474.96 231.39h2M474.96 236.35h2" stroke="#F9BC8C" stroke-width="0.6" fill="none"/>
<polyline points="295.73,238.00 303.56,233.04 311.40,228.67 319.24,219.83 327.07,204.55 334.91,198.10 342.74,199.76 350.58,205.29 358.42,193.73 381.92,202.73 428.94,195.05 475.96,191.99" fill="none" stroke="#000000" stroke-width="1.2" stroke-linejoin="round"/>
<rect x="294.53" y="236.80" width="2.4" height="2.4" fill="#000000" transform="rotate(45 295.73 238.00)"/>
<rect x="302.36" y="231.84" width="2.4" height="2.4" fill="#000000" transform="rotate(45 303.56 233.04)"/>
<rect x="310.20" y="227.47" width="2.4" height="2.4" fill="#000000" transform="rotate(45 311.40 228.67)"/>
<rect x="318.04" y="218.63" width="2.4" height="2.4" fill="#000000" transform="rotate(45 319.24 219.83)"/>
<rect x="325.87" y="203.35" width="2.4" height="2.4" fill="#000000" transform="rotate(45 327.07 204.55)"/>
<rect x="333.71" y="196.90" width="2.4" height="2.4" fill="#000000" transform="rotate(45 334.91 198.10)"/>
<rect x="341.54" y="198.56" width="2.4" height="2.4" fill="#000000" transform="rotate(45 342.74 199.76)"/>
<rect x="349.38" y="204.09" width="2.4" height="2.4" fill="#000000" transform="rotate(45 350.58 205.29)"/>
<rect x="357.22" y="192.53" width="2.4" height="2.4" fill="#000000" transform="rotate(45 358.42 193.73)"/>
<rect x="380.72" y="201.53" width="2.4" height="2.4" fill="#000000" transform="rotate(45 381.92 202.73)"/>
<rect x="427.74" y="193.85" width="2.4" height="2.4" fill="#000000" transform="rotate(45 428.94 195.05)"/>
<rect x="474.76" y="190.79" width="2.4" height="2.4" fill="#000000" transform="rotate(45 475.96 191.99)"/>
<polyline points="295.73,238.00 303.56,237.17 311.40,232.22 319.24,232.63 327.07,231.39 334.91,227.59 342.74,227.59 350.58,227.59 358.42,227.59 381.92,228.09 428.94,217.35 475.96,217.35" fill="none" stroke="#C0504D" stroke-width="1.2" stroke-linejoin="round"/>
<rect x="294.03" y="236.30" width="3.4" height="3.4" fill="#C0504D"/>
<rect x="301.86" y="235.47" width="3.4" height="3.4" fill="#C0504D"/>
<rect x="309.70" y="230.52" width="3.4" height="3.4" fill="#C0504D"/>
<rect x="317.54" y="230.93" width="3.4" height="3.4" fill="#C0504D"/>
<rect x="325.37" y="229.69" width="3.4" height="3.4" fill="#C0504D"/>
<rect x="333.21" y="225.89" width="3.4" height="3.4" fill="#C0504D"/>
<rect x="341.04" y="225.89" width="3.4" height="3.4" fill="#C0504D"/>
<rect x="348.88" y="225.89" width="3.4" height="3.4" fill="#C0504D"/>
<rect x="356.72" y="225.89" width="3.4" height="3.4" fill="#C0504D"/>
<rect x="380.22" y="226.39" width="3.4" height="3.4" fill="#C0504D"/>
<rect x="427.24" y="215.65" width="3.4" height="3.4" fill="#C0504D"/>
<rect x="474.26" y="215.65" width="3.4" height="3.4" fill="#C0504D"/>
<polyline points="295.73,238.00 303.56,237.17 311.40,236.35 319.24,235.52 327.07,234.70 334.91,234.70 342.74,234.70 350.58,234.70 358.42,234.70 381.92,234.70 428.94,235.52 475.96,235.52" fill="none" stroke="#E69A9A" stroke-width="1.2" stroke-linejoin="round"/>
<path d="M295.73 236.20L297.53 239.30L293.93 239.30Z" fill="#E69A9A"/>
<path d="M303.56 235.37L305.36 238.47L301.76 238.47Z" fill="#E69A9A"/>
<path d="M311.40 234.55L313.20 237.65L309.60 237.65Z" fill="#E69A9A"/>
<path d="M319.24 233.72L321.04 236.82L317.44 236.82Z" fill="#E69A9A"/>
<path d="M327.07 232.90L328.87 236.00L325.27 236.00Z" fill="#E69A9A"/>
<path d="M334.91 232.90L336.71 236.00L333.11 236.00Z" fill="#E69A9A"/>
<path d="M342.74 232.90L344.54 236.00L340.94 236.00Z" fill="#E69A9A"/>
<path d="M350.58 232.90L352.38 236.00L348.78 236.00Z" fill="#E69A9A"/>
<path d="M358.42 232.90L360.22 236.00L356.62 236.00Z" fill="#E69A9A"/>
<path d="M381.92 232.90L383.72 236.00L380.12 236.00Z" fill="#E69A9A"/>
<path d="M428.94 233.72L430.74 236.82L427.14 236.82Z" fill="#E69A9A"/>
<path d="M475.96 233.72L477.76 236.82L474.16 236.82Z" fill="#E69A9A"/>
<polyline points="295.73,238.00 303.56,237.17 311.40,236.35 319.24,234.70 327.07,233.04 334.91,232.22 342.74,232.22 350.58,232.22 358.42,232.22 381.92,232.22 428.94,231.39 475.96,228.09" fill="none" stroke="#8064A2" stroke-width="1.2" stroke-linejoin="round"/>
<path d="M294.13 236.40L297.33 239.60M297.33 236.40L294.13 239.60" stroke="#8064A2" stroke-width="0.9"/>
<path d="M301.96 235.57L305.16 238.77M305.16 235.57L301.96 238.77" stroke="#8064A2" stroke-width="0.9"/>
<path d="M309.80 234.75L313.00 237.95M313.00 234.75L309.80 237.95" stroke="#8064A2" stroke-width="0.9"/>
<path d="M317.64 233.10L320.84 236.30M320.84 233.10L317.64 236.30" stroke="#8064A2" stroke-width="0.9"/>
<path d="M325.47 231.44L328.67 234.64M328.67 231.44L325.47 234.64" stroke="#8064A2" stroke-width="0.9"/>
<path d="M333.31 230.62L336.51 233.82M336.51 230.62L333.31 233.82" stroke="#8064A2" stroke-width="0.9"/>
<path d="M341.14 230.62L344.34 233.82M344.34 230.62L341.14 233.82" stroke="#8064A2" stroke-width="0.9"/>
<path d="M348.98 230.62L352.18 233.82M352.18 230.62L348.98 233.82" stroke="#8064A2" stroke-width="0.9"/>
<path d="M356.82 230.62L360.02 233.82M360.02 230.62L356.82 233.82" stroke="#8064A2" stroke-width="0.9"/>
<path d="M380.32 230.62L383.52 233.82M383.52 230.62L380.32 233.82" stroke="#8064A2" stroke-width="0.9"/>
<path d="M427.34 229.79L430.54 232.99M430.54 229.79L427.34 232.99" stroke="#8064A2" stroke-width="0.9"/>
<path d="M474.36 226.49L477.56 229.69M477.56 226.49L474.36 229.69" stroke="#8064A2" stroke-width="0.9"/>
<polyline points="295.73,238.00 303.56,238.00 311.40,238.00 319.24,238.00 327.07,238.00 334.91,238.00 342.74,238.00 350.58,238.00 358.42,238.00 381.92,238.00 428.94,236.35 475.96,236.35" fill="none" stroke="#9BBB59" stroke-width="1.2" stroke-linejoin="round"/>
<rect x="294.03" y="236.30" width="3.4" height="3.4" fill="#9BBB59"/>
<rect x="301.86" y="236.30" width="3.4" height="3.4" fill="#9BBB59"/>
<rect x="309.70" y="236.30" width="3.4" height="3.4" fill="#9BBB59"/>
<rect x="317.54" y="236.30" width="3.4" height="3.4" fill="#9BBB59"/>
<rect x="325.37" y="236.30" width="3.4" height="3.4" fill="#9BBB59"/>
<rect x="333.21" y="236.30" width="3.4" height="3.4" fill="#9BBB59"/>
<rect x="341.04" y="236.30" width="3.4" height="3.4" fill="#9BBB59"/>
<rect x="348.88" y="236.30" width="3.4" height="3.4" fill="#9BBB59"/>
<rect x="356.72" y="236.30" width="3.4" height="3.4" fill="#9BBB59"/>
<rect x="380.22" y="236.30" width="3.4" height="3.4" fill="#9BBB59"/>
<rect x="427.24" y="234.65" width="3.4" height="3.4" fill="#9BBB59"/>
<rect x="474.26" y="234.65" width="3.4" height="3.4" fill="#9BBB59"/>
<polyline points="295.73,238.00 303.56,237.17 311.40,237.17 319.24,235.11 327.07,233.04 334.91,228.91 342.74,228.91 350.58,227.59 358.42,230.90 381.92,231.39 428.94,231.39 475.96,229.74" fill="none" stroke="#1F4E8C" stroke-width="1.2" stroke-linejoin="round"/>
<circle cx="295.73" cy="238.00" r="1.6" fill="#1F4E8C"/>
<circle cx="303.56" cy="237.17" r="1.6" fill="#1F4E8C"/>
<circle cx="311.40" cy="237.17" r="1.6" fill="#1F4E8C"/>
<circle cx="319.24" cy="235.11" r="1.6" fill="#1F4E8C"/>
<circle cx="327.07" cy="233.04" r="1.6" fill="#1F4E8C"/>
<circle cx="334.91" cy="228.91" r="1.6" fill="#1F4E8C"/>
<circle cx="342.74" cy="228.91" r="1.6" fill="#1F4E8C"/>
<circle cx="350.58" cy="227.59" r="1.6" fill="#1F4E8C"/>
<circle cx="358.42" cy="230.90" r="1.6" fill="#1F4E8C"/>
<circle cx="381.92" cy="231.39" r="1.6" fill="#1F4E8C"/>
<circle cx="428.94" cy="231.39" r="1.6" fill="#1F4E8C"/>
<circle cx="475.96" cy="229.74" r="1.6" fill="#1F4E8C"/>
<polyline points="295.73,238.00 303.56,235.77 311.40,235.11 319.24,229.74 327.07,223.38 334.91,227.59 342.74,229.74 350.58,230.90 358.42,218.42 381.92,227.26 428.94,231.39 475.96,233.04" fill="none" stroke="#4A86D4" stroke-width="1.2" stroke-linejoin="round"/>
<circle cx="295.73" cy="238.00" r="1.9" fill="#4A86D4"/>
<circle cx="303.56" cy="235.77" r="1.9" fill="#4A86D4"/>
<circle cx="311.40" cy="235.11" r="1.9" fill="#4A86D4"/>
<circle cx="319.24" cy="229.74" r="1.9" fill="#4A86D4"/>
<circle cx="327.07" cy="223.38" r="1.9" fill="#4A86D4"/>
<circle cx="334.91" cy="227.59" r="1.9" fill="#4A86D4"/>
<circle cx="342.74" cy="229.74" r="1.9" fill="#4A86D4"/>
<circle cx="350.58" cy="230.90" r="1.9" fill="#4A86D4"/>
<circle cx="358.42" cy="218.42" r="1.9" fill="#4A86D4"/>
<circle cx="381.92" cy="227.26" r="1.9" fill="#4A86D4"/>
<circle cx="428.94" cy="231.39" r="1.9" fill="#4A86D4"/>
<circle cx="475.96" cy="233.04" r="1.9" fill="#4A86D4"/>
<polyline points="295.73,228.91 303.56,216.44 311.40,196.87 319.24,193.73 327.07,194.88 334.91,203.72 342.74,214.46 350.58,212.81 358.42,215.70 381.92,224.78 428.94,231.39 475.96,233.87" fill="none" stroke="#F79646" stroke-width="1.2" stroke-linejoin="round"/>











</g><g fill="#222"><path d="M287.79 392.00H500.28M500.28 392.00V313.30" stroke="#C9C9C9" stroke-width="0.8" fill="none"/>
<path d="M500.28 392.00h1.6M500.28 384.13h1.6M500.28 376.26h1.6M500.28 368.39h1.6M500.28 360.52h1.6M500.28 352.65h1.6M500.28 344.78h1.6M500.28 336.91h1.6M500.28 329.04h1.6M500.28 321.17h1.6M500.28 313.30h1.6M287.79 392.00v-1.4M311.40 392.00v-1.4M335.01 392.00v-1.4M358.62 392.00v-1.4M382.23 392.00v-1.4M405.84 392.00v-1.4M429.45 392.00v-1.4M453.06 392.00v-1.4M476.67 392.00v-1.4M500.28 392.00v-1.4" stroke="#C9C9C9" stroke-width="0.6"/>
<text x="505.68" y="393.90" font-size="5.7">0</text>
<text x="505.68" y="386.03" font-size="5.7">10</text>
<text x="505.68" y="378.16" font-size="5.7">20</text>
<text x="505.68" y="370.29" font-size="5.7">30</text>
<text x="505.68" y="362.42" font-size="5.7">40</text>
<text x="505.68" y="354.55" font-size="5.7">50</text>
<text x="505.68" y="346.68" font-size="5.7">60</text>
<text x="505.68" y="338.81" font-size="5.7">70</text>
<text x="505.68" y="330.94" font-size="5.7">80</text>
<text x="505.68" y="323.07" font-size="5.7">90</text>
<text x="505.68" y="315.20" font-size="5.7">100</text>
<text x="287.79" y="401.20" font-size="5.6" text-anchor="middle">-60</text>
<text x="311.40" y="401.20" font-size="5.6" text-anchor="middle">0</text>
<text x="335.01" y="401.20" font-size="5.6" text-anchor="middle">60</text>
<text x="358.62" y="401.20" font-size="5.6" text-anchor="middle">120</text>
<text x="382.23" y="401.20" font-size="5.6" text-anchor="middle">180</text>
<text x="405.84" y="401.20" font-size="5.6" text-anchor="middle">240</text>
<text x="429.45" y="401.20" font-size="5.6" text-anchor="middle">300</text>
<text x="453.06" y="401.20" font-size="5.6" text-anchor="middle">360</text>
<text x="476.67" y="401.20" font-size="5.6" text-anchor="middle">420</text>
<text x="500.28" y="401.20" font-size="5.6" text-anchor="middle">480</text>
<text x="394.63" y="409.50" font-size="5.8" text-anchor="middle">time relative to the formation of tight cell couples (s)</text>
<text x="382.60" y="305.90" font-size="7.0">TCR<tspan font-family="Liberation Serif" style="stroke-width:0.1px">ζ</tspan>, Ttol</text>
<path d="M303.53 390.17V391.83M302.53 390.17h2M302.53 391.83h2M311.40 374.07V382.37M310.40 374.07h2M310.40 382.37h2M319.27 365.44V375.40M318.27 365.44h2M318.27 375.40h2M327.14 362.12V372.08M326.14 362.12h2M326.14 372.08h2M335.01 348.26V359.88M334.01 348.26h2M334.01 359.88h2M342.88 352.99V364.61M341.88 352.99h2M341.88 364.61h2M350.75 356.31V367.93M349.75 356.31h2M349.75 367.93h2M358.62 351.33V362.95M357.62 351.33h2M357.62 362.95h2M382.23 367.10V378.72M381.23 367.10h2M381.23 378.72h2M429.45 367.10V380.38M428.45 367.10h2M428.45 380.38h2M476.67 379.72V388.02M475.67 379.72h2M475.67 388.02h2" stroke="#333333" stroke-width="0.6" fill="none"/>
<path d="M303.53 390.34V392.00M302.53 390.34h2M302.53 392.00h2M311.40 387.02V390.34M310.40 387.02h2M310.40 390.34h2M319.27 387.02V390.34M318.27 387.02h2M318.27 390.34h2M327.14 389.51V391.17M326.14 389.51h2M326.14 391.17h2M335.01 387.85V391.17M334.01 387.85h2M334.01 391.17h2M342.88 387.85V391.17M341.88 387.85h2M341.88 391.17h2M350.75 387.85V391.17M349.75 387.85h2M349.75 391.17h2M358.62 385.36V388.68M357.62 385.36h2M357.62 388.68h2M382.23 390.34V392.00M381.23 390.34h2M381.23 392.00h2M429.45 389.51V391.17M428.45 389.51h2M428.45 391.17h2" stroke="#D88C8A" stroke-width="0.6" fill="none"/>
<path d="M303.53 390.34V392.00M302.53 390.34h2M302.53 392.00h2M311.40 389.51V391.17M310.40 389.51h2M310.40 391.17h2M319.27 389.51V391.17M318.27 389.51h2M318.27 391.17h2M327.14 389.51V391.17M326.14 389.51h2M326.14 391.17h2M335.01 389.51V391.17M334.01 389.51h2M334.01 391.17h2M342.88 389.51V391.17M341.88 389.51h2M341.88 391.17h2M350.75 389.51V391.17M349.75 389.51h2M349.75 391.17h2M358.62 389.51V391.17M357.62 389.51h2M357.62 391.17h2M382.23 390.34V392.00M381.23 390.34h2M381.23 392.00h2M429.45 390.34V392.00M428.45 390.34h2M428.45 392.00h2" stroke="#EDB5B5" stroke-width="0.6" fill="none"/>
<path d="M303.53 390.34V392.00M302.53 390.34h2M302.53 392.00h2M311.40 388.68V390.34M310.40 388.68h2M310.40 390.34h2M319.27 388.68V390.34M318.27 388.68h2M318.27 390.34h2M327.14 388.68V390.34M326.14 388.68h2M326.14 390.34h2M335.01 386.19V389.51M334.01 386.19h2M334.01 389.51h2M342.88 386.19V389.51M341.88 386.19h2M341.88 389.51h2M350.75 386.19V389.51M349.75 386.19h2M349.75 389.51h2M358.62 386.19V389.51M357.62 386.19h2M357.62 389.51h2M382.23 388.68V390.34M381.23 388.68h2M381.23 390.34h2M429.45 387.85V389.51M428.45 387.85h2M428.45 389.51h2" stroke="#B7A6D0" stroke-width="0.6" fill="none"/>
<path d="M311.40 389.51V391.17M310.40 389.51h2M310.40 391.17h2M319.27 380.63V385.61M318.27 380.63h2M318.27 385.61h2M327.14 380.63V385.61M326.14 380.63h2M326.14 385.61h2M335.01 376.23V382.87M334.01 376.23h2M334.01 382.87h2M342.88 377.06V383.70M341.88 377.06h2M341.88 383.70h2M350.75 377.89V384.53M349.75 377.89h2M349.75 384.53h2M358.62 377.39V384.03M357.62 377.39h2M357.62 384.03h2M382.23 382.04V387.02M381.23 382.04h2M381.23 387.02h2M429.45 384.53V389.51M428.45 384.53h2M428.45 389.51h2" stroke="#6A8AB8" stroke-width="0.6" fill="none"/>
<path d="M311.40 386.19V389.51M310.40 386.19h2M310.40 389.51h2M319.27 382.04V387.02M318.27 382.04h2M318.27 387.02h2M327.14 378.72V385.36M326.14 378.72h2M326.14 385.36h2M335.01 371.67V379.97M334.01 371.67h2M334.01 379.97h2M342.88 372.91V381.21M341.88 372.91h2M341.88 381.21h2M350.75 374.07V382.37M349.75 374.07h2M349.75 382.37h2M358.62 370.42V378.72M357.62 370.42h2M357.62 378.72h2M382.23 387.85V391.17M381.23 387.85h2M381.23 391.17h2M429.45 384.12V389.10M428.45 384.12h2M428.45 389.10h2M476.67 381.21V386.19M475.67 381.21h2M475.67 386.19h2" stroke="#8DB3E6" stroke-width="0.6" fill="none"/>
<path d="M295.66 383.70V388.68M294.66 383.70h2M294.66 388.68h2M303.53 378.72V385.36M302.53 378.72h2M302.53 385.36h2M311.40 361.29V371.25M310.40 361.29h2M310.40 371.25h2M319.27 361.29V371.25M318.27 361.29h2M318.27 371.25h2M327.14 368.10V376.40M326.14 368.10h2M326.14 376.40h2M335.01 375.40V383.70M334.01 375.40h2M334.01 383.70h2M342.88 380.38V387.02M341.88 380.38h2M341.88 387.02h2M350.75 377.39V384.03M349.75 377.39h2M349.75 384.03h2M358.62 377.39V384.03M357.62 377.39h2M357.62 384.03h2M382.23 377.89V384.53M381.23 377.89h2M381.23 384.53h2M429.45 378.31V384.95M428.45 378.31h2M428.45 384.95h2M476.67 369.76V383.04M475.67 369.76h2M475.67 383.04h2" stroke="#F9BC8C" stroke-width="0.6" fill="none"/>
<polyline points="295.66,392.00 303.53,391.00 311.40,378.22 319.27,370.42 327.14,367.10 335.01,354.07 342.88,358.80 350.75,362.12 358.62,357.14 382.23,372.91 429.45,373.74 476.67,383.87" fill="none" stroke="#000000" stroke-width="1.2" stroke-linejoin="round"/>
<rect x="294.46" y="390.80" width="2.4" height="2.4" fill="#000000" transform="rotate(45 295.66 392.00)"/>
<rect x="302.33" y="389.80" width="2.4" height="2.4" fill="#000000" transform="rotate(45 303.53 391.00)"/>
<rect x="310.20" y="377.02" width="2.4" height="2.4" fill="#000000" transform="rotate(45 311.40 378.22)"/>
<rect x="318.07" y="369.22" width="2.4" height="2.4" fill="#000000" transform="rotate(45 319.27 370.42)"/>
<rect x="325.94" y="365.90" width="2.4" height="2.4" fill="#000000" transform="rotate(45 327.14 367.10)"/>
<rect x="333.81" y="352.87" width="2.4" height="2.4" fill="#000000" transform="rotate(45 335.01 354.07)"/>
<rect x="341.68" y="357.60" width="2.4" height="2.4" fill="#000000" transform="rotate(45 342.88 358.80)"/>
<rect x="349.55" y="360.92" width="2.4" height="2.4" fill="#000000" transform="rotate(45 350.75 362.12)"/>
<rect x="357.42" y="355.94" width="2.4" height="2.4" fill="#000000" transform="rotate(45 358.62 357.14)"/>
<rect x="381.03" y="371.71" width="2.4" height="2.4" fill="#000000" transform="rotate(45 382.23 372.91)"/>
<rect x="428.25" y="372.54" width="2.4" height="2.4" fill="#000000" transform="rotate(45 429.45 373.74)"/>
<rect x="475.47" y="382.67" width="2.4" height="2.4" fill="#000000" transform="rotate(45 476.67 383.87)"/>
<polyline points="295.66,392.00 303.53,391.17 311.40,388.68 319.27,388.68 327.14,390.34 335.01,389.51 342.88,389.51 350.75,389.51 358.62,387.02 382.23,391.17 429.45,390.34 476.67,392.00" fill="none" stroke="#C0504D" stroke-width="1.2" stroke-linejoin="round"/>
<rect x="293.96" y="390.30" width="3.4" height="3.4" fill="#C0504D"/>
<rect x="301.83" y="389.47" width="3.4" height="3.4" fill="#C0504D"/>
<rect x="309.70" y="386.98" width="3.4" height="3.4" fill="#C0504D"/>
<rect x="317.57" y="386.98" width="3.4" height="3.4" fill="#C0504D"/>
<rect x="325.44" y="388.64" width="3.4" height="3.4" fill="#C0504D"/>
<rect x="333.31" y="387.81" width="3.4" height="3.4" fill="#C0504D"/>
<rect x="341.18" y="387.81" width="3.4" height="3.4" fill="#C0504D"/>
<rect x="349.05" y="387.81" width="3.4" height="3.4" fill="#C0504D"/>
<rect x="356.92" y="385.32" width="3.4" height="3.4" fill="#C0504D"/>
<rect x="380.53" y="389.47" width="3.4" height="3.4" fill="#C0504D"/>
<rect x="427.75" y="388.64" width="3.4" height="3.4" fill="#C0504D"/>
<rect x="474.97" y="390.30" width="3.4" height="3.4" fill="#C0504D"/>
<polyline points="295.66,392.00 303.53,391.17 311.40,390.34 319.27,390.34 327.14,390.34 335.01,390.34 342.88,390.34 350.75,390.34 358.62,390.34 382.23,391.17 429.45,391.17 476.67,392.00" fill="none" stroke="#E69A9A" stroke-width="1.2" stroke-linejoin="round"/>
<path d="M295.66 390.20L297.46 393.30L293.86 393.30Z" fill="#E69A9A"/>
<path d="M303.53 389.37L305.33 392.47L301.73 392.47Z" fill="#E69A9A"/>
<path d="M311.40 388.54L313.20 391.64L309.60 391.64Z" fill="#E69A9A"/>
<path d="M319.27 388.54L321.07 391.64L317.47 391.64Z" fill="#E69A9A"/>
<path d="M327.14 388.54L328.94 391.64L325.34 391.64Z" fill="#E69A9A"/>
<path d="M335.01 388.54L336.81 391.64L333.21 391.64Z" fill="#E69A9A"/>
<path d="M342.88 388.54L344.68 391.64L341.08 391.64Z" fill="#E69A9A"/>
<path d="M350.75 388.54L352.55 391.64L348.95 391.64Z" fill="#E69A9A"/>
<path d="M358.62 388.54L360.42 391.64L356.82 391.64Z" fill="#E69A9A"/>
<path d="M382.23 389.37L384.03 392.47L380.43 392.47Z" fill="#E69A9A"/>
<path d="M429.45 389.37L431.25 392.47L427.65 392.47Z" fill="#E69A9A"/>
<path d="M476.67 390.20L478.47 393.30L474.87 393.30Z" fill="#E69A9A"/>
<polyline points="295.66,392.00 303.53,391.17 311.40,389.51 319.27,389.51 327.14,389.51 335.01,387.85 342.88,387.85 350.75,387.85 358.62,387.85 382.23,389.51 429.45,388.68 476.67,392.00" fill="none" stroke="#8064A2" stroke-width="1.2" stroke-linejoin="round"/>
<path d="M294.06 390.40L297.26 393.60M297.26 390.40L294.06 393.60" stroke="#8064A2" stroke-width="0.9"/>
<path d="M301.93 389.57L305.13 392.77M305.13 389.57L301.93 392.77" stroke="#8064A2" stroke-width="0.9"/>
<path d="M309.80 387.91L313.00 391.11M313.00 387.91L309.80 391.11" stroke="#8064A2" stroke-width="0.9"/>
<path d="M317.67 387.91L320.87 391.11M320.87 387.91L317.67 391.11" stroke="#8064A2" stroke-width="0.9"/>
<path d="M325.54 387.91L328.74 391.11M328.74 387.91L325.54 391.11" stroke="#8064A2" stroke-width="0.9"/>
<path d="M333.41 386.25L336.61 389.45M336.61 386.25L333.41 389.45" stroke="#8064A2" stroke-width="0.9"/>
<path d="M341.28 386.25L344.48 389.45M344.48 386.25L341.28 389.45" stroke="#8064A2" stroke-width="0.9"/>
<path d="M349.15 386.25L352.35 389.45M352.35 386.25L349.15 389.45" stroke="#8064A2" stroke-width="0.9"/>
<path d="M357.02 386.25L360.22 389.45M360.22 386.25L357.02 389.45" stroke="#8064A2" stroke-width="0.9"/>
<path d="M380.63 387.91L383.83 391.11M383.83 387.91L380.63 391.11" stroke="#8064A2" stroke-width="0.9"/>
<path d="M427.85 387.08L431.05 390.28M431.05 387.08L427.85 390.28" stroke="#8064A2" stroke-width="0.9"/>
<path d="M475.07 390.40L478.27 393.60M478.27 390.40L475.07 393.60" stroke="#8064A2" stroke-width="0.9"/>
<polyline points="295.66,392.00 303.53,392.00 311.40,392.00 319.27,392.00 327.14,392.00 335.01,392.00 342.88,392.00 350.75,392.00 358.62,392.00 382.23,392.00 429.45,390.34 476.67,391.17" fill="none" stroke="#9BBB59" stroke-width="1.2" stroke-linejoin="round"/>
<rect x="293.96" y="390.30" width="3.4" height="3.4" fill="#9BBB59"/>
<rect x="301.83" y="390.30" width="3.4" height="3.4" fill="#9BBB59"/>
<rect x="309.70" y="390.30" width="3.4" height="3.4" fill="#9BBB59"/>
<rect x="317.57" y="390.30" width="3.4" height="3.4" fill="#9BBB59"/>
<rect x="325.44" y="390.30" width="3.4" height="3.4" fill="#9BBB59"/>
<rect x="333.31" y="390.30" width="3.4" height="3.4" fill="#9BBB59"/>
<rect x="341.18" y="390.30" width="3.4" height="3.4" fill="#9BBB59"/>
<rect x="349.05" y="390.30" width="3.4" height="3.4" fill="#9BBB59"/>
<rect x="356.92" y="390.30" width="3.4" height="3.4" fill="#9BBB59"/>
<rect x="380.53" y="390.30" width="3.4" height="3.4" fill="#9BBB59"/>
<rect x="427.75" y="388.64" width="3.4" height="3.4" fill="#9BBB59"/>
<rect x="474.97" y="389.47" width="3.4" height="3.4" fill="#9BBB59"/>
<polyline points="295.66,392.00 303.53,392.00 311.40,390.34 319.27,383.12 327.14,383.12 335.01,379.55 342.88,380.38 350.75,381.21 358.62,380.71 382.23,384.53 429.45,387.02 476.67,392.00" fill="none" stroke="#1F4E8C" stroke-width="1.2" stroke-linejoin="round"/>
<circle cx="295.66" cy="392.00" r="1.6" fill="#1F4E8C"/>
<circle cx="303.53" cy="392.00" r="1.6" fill="#1F4E8C"/>
<circle cx="311.40" cy="390.34" r="1.6" fill="#1F4E8C"/>
<circle cx="319.27" cy="383.12" r="1.6" fill="#1F4E8C"/>
<circle cx="327.14" cy="383.12" r="1.6" fill="#1F4E8C"/>
<circle cx="335.01" cy="379.55" r="1.6" fill="#1F4E8C"/>
<circle cx="342.88" cy="380.38" r="1.6" fill="#1F4E8C"/>
<circle cx="350.75" cy="381.21" r="1.6" fill="#1F4E8C"/>
<circle cx="358.62" cy="380.71" r="1.6" fill="#1F4E8C"/>
<circle cx="382.23" cy="384.53" r="1.6" fill="#1F4E8C"/>
<circle cx="429.45" cy="387.02" r="1.6" fill="#1F4E8C"/>
<circle cx="476.67" cy="392.00" r="1.6" fill="#1F4E8C"/>
<polyline points="295.66,392.00 303.53,392.00 311.40,387.85 319.27,384.53 327.14,382.04 335.01,375.82 342.88,377.06 350.75,378.22 358.62,374.57 382.23,389.51 429.45,386.61 476.67,383.70" fill="none" stroke="#4A86D4" stroke-width="1.2" stroke-linejoin="round"/>
<circle cx="295.66" cy="392.00" r="1.9" fill="#4A86D4"/>
<circle cx="303.53" cy="392.00" r="1.9" fill="#4A86D4"/>
<circle cx="311.40" cy="387.85" r="1.9" fill="#4A86D4"/>
<circle cx="319.27" cy="384.53" r="1.9" fill="#4A86D4"/>
<circle cx="327.14" cy="382.04" r="1.9" fill="#4A86D4"/>
<circle cx="335.01" cy="375.82" r="1.9" fill="#4A86D4"/>
<circle cx="342.88" cy="377.06" r="1.9" fill="#4A86D4"/>
<circle cx="350.75" cy="378.22" r="1.9" fill="#4A86D4"/>
<circle cx="358.62" cy="374.57" r="1.9" fill="#4A86D4"/>
<circle cx="382.23" cy="389.51" r="1.9" fill="#4A86D4"/>
<circle cx="429.45" cy="386.61" r="1.9" fill="#4A86D4"/>
<circle cx="476.67" cy="383.70" r="1.9" fill="#4A86D4"/>
<polyline points="295.66,386.19 303.53,382.04 311.40,366.27 319.27,366.27 327.14,372.25 335.01,379.55 342.88,383.70 350.75,380.71 358.62,380.71 382.23,381.21 429.45,381.63 476.67,376.40" fill="none" stroke="#F79646" stroke-width="1.2" stroke-linejoin="round"/>











</g><g fill="#222"><path d="M288.34 524.40H502.18M502.18 524.40V440.40" stroke="#C9C9C9" stroke-width="0.8" fill="none"/>
<path d="M502.18 524.40h1.6M502.18 516.00h1.6M502.18 507.60h1.6M502.18 499.20h1.6M502.18 490.80h1.6M502.18 482.40h1.6M502.18 474.00h1.6M502.18 465.60h1.6M502.18 457.20h1.6M502.18 448.80h1.6M502.18 440.40h1.6M288.34 524.40v-1.4M312.10 524.40v-1.4M335.86 524.40v-1.4M359.62 524.40v-1.4M383.38 524.40v-1.4M407.14 524.40v-1.4M430.90 524.40v-1.4M454.66 524.40v-1.4M478.42 524.40v-1.4M502.18 524.40v-1.4" stroke="#C9C9C9" stroke-width="0.6"/>
<text x="507.58" y="526.30" font-size="5.7">0</text>
<text x="507.58" y="517.90" font-size="5.7">10</text>
<text x="507.58" y="509.50" font-size="5.7">20</text>
<text x="507.58" y="501.10" font-size="5.7">30</text>
<text x="507.58" y="492.70" font-size="5.7">40</text>
<text x="507.58" y="484.30" font-size="5.7">50</text>
<text x="507.58" y="475.90" font-size="5.7">60</text>
<text x="507.58" y="467.50" font-size="5.7">70</text>
<text x="507.58" y="459.10" font-size="5.7">80</text>
<text x="507.58" y="450.70" font-size="5.7">90</text>
<text x="507.58" y="442.30" font-size="5.7">100</text>
<text x="288.34" y="533.60" font-size="5.6" text-anchor="middle">-60</text>
<text x="312.10" y="533.60" font-size="5.6" text-anchor="middle">0</text>
<text x="335.86" y="533.60" font-size="5.6" text-anchor="middle">60</text>
<text x="359.62" y="533.60" font-size="5.6" text-anchor="middle">120</text>
<text x="383.38" y="533.60" font-size="5.6" text-anchor="middle">180</text>
<text x="407.14" y="533.60" font-size="5.6" text-anchor="middle">240</text>
<text x="430.90" y="533.60" font-size="5.6" text-anchor="middle">300</text>
<text x="454.66" y="533.60" font-size="5.6" text-anchor="middle">360</text>
<text x="478.42" y="533.60" font-size="5.6" text-anchor="middle">420</text>
<text x="502.18" y="533.60" font-size="5.6" text-anchor="middle">480</text>
<text x="396.26" y="541.90" font-size="5.85" text-anchor="middle">time relative to the formation of tight cell couples (s)</text>
<text x="375.10" y="432.70" font-size="7.0">TCR<tspan font-family="Liberation Serif" style="stroke-width:0.1px">ζ</tspan>, iTreg pep</text>
<path d="M296.26 501.66V509.96M295.26 501.66h2M295.26 509.96h2M304.18 492.86V501.16M303.18 492.86h2M303.18 501.16h2M312.10 492.86V501.16M311.10 492.86h2M311.10 501.16h2M320.02 474.94V484.90M319.02 474.94h2M319.02 484.90h2M327.94 473.44V483.40M326.94 473.44h2M326.94 483.40h2M335.86 481.41V491.37M334.86 481.41h2M334.86 491.37h2M343.78 485.56V495.52M342.78 485.56h2M342.78 495.52h2M351.70 491.20V501.16M350.70 491.20h2M350.70 501.16h2M359.62 489.96V499.92M358.62 489.96h2M358.62 499.92h2M383.38 498.34V508.30M382.38 498.34h2M382.38 508.30h2M430.90 496.27V507.88M429.90 496.27h2M429.90 507.88h2M478.42 495.52V507.14M477.42 495.52h2M477.42 507.14h2" stroke="#333333" stroke-width="0.6" fill="none"/>
<path d="M296.26 522.74V524.40M295.26 522.74h2M295.26 524.40h2M304.18 522.74V524.40M303.18 522.74h2M303.18 524.40h2M312.10 522.74V524.40M311.10 522.74h2M311.10 524.40h2M320.02 522.74V524.40M319.02 522.74h2M319.02 524.40h2M327.94 520.25V523.57M326.94 520.25h2M326.94 523.57h2M335.86 520.25V523.57M334.86 520.25h2M334.86 523.57h2M343.78 520.25V523.57M342.78 520.25h2M342.78 523.57h2M351.70 518.59V521.91M350.70 518.59h2M350.70 521.91h2M359.62 521.91V523.57M358.62 521.91h2M358.62 523.57h2M383.38 521.91V523.57M382.38 521.91h2M382.38 523.57h2M430.90 513.20V518.18M429.90 513.20h2M429.90 518.18h2M478.42 518.59V521.91M477.42 518.59h2M477.42 521.91h2" stroke="#D88C8A" stroke-width="0.6" fill="none"/>
<path d="M304.18 522.74V524.40M303.18 522.74h2M303.18 524.40h2M312.10 522.74V524.40M311.10 522.74h2M311.10 524.40h2M320.02 522.74V524.40M319.02 522.74h2M319.02 524.40h2M327.94 522.74V524.40M326.94 522.74h2M326.94 524.40h2M335.86 522.74V524.40M334.86 522.74h2M334.86 524.40h2M343.78 522.74V524.40M342.78 522.74h2M342.78 524.40h2M351.70 522.74V524.40M350.70 522.74h2M350.70 524.40h2M359.62 522.74V524.40M358.62 522.74h2M358.62 524.40h2M383.38 522.74V524.40M382.38 522.74h2M382.38 524.40h2M430.90 522.74V524.40M429.90 522.74h2M429.90 524.40h2M478.42 522.74V524.40M477.42 522.74h2M477.42 524.40h2" stroke="#EDB5B5" stroke-width="0.6" fill="none"/>
<path d="M296.26 521.08V522.74M295.26 521.08h2M295.26 522.74h2M304.18 521.08V522.74M303.18 521.08h2M303.18 522.74h2M312.10 521.08V522.74M311.10 521.08h2M311.10 522.74h2M320.02 521.08V522.74M319.02 521.08h2M319.02 522.74h2M327.94 521.08V522.74M326.94 521.08h2M326.94 522.74h2M335.86 520.25V521.91M334.86 520.25h2M334.86 521.91h2M343.78 520.25V521.91M342.78 520.25h2M342.78 521.91h2M351.70 519.42V521.08M350.70 519.42h2M350.70 521.08h2M359.62 520.25V521.91M358.62 520.25h2M358.62 521.91h2M383.38 520.25V521.91M382.38 520.25h2M382.38 521.91h2M430.90 520.25V521.91M429.90 520.25h2M429.90 521.91h2M478.42 520.25V521.91M477.42 520.25h2M477.42 521.91h2" stroke="#B7A6D0" stroke-width="0.6" fill="none"/>
<path d="M296.26 519.42V522.74M295.26 519.42h2M295.26 522.74h2M304.18 506.47V513.11M303.18 506.47h2M303.18 513.11h2M312.10 503.15V509.79M311.10 503.15h2M311.10 509.79h2M320.02 483.82V493.78M319.02 483.82h2M319.02 493.78h2M327.94 493.69V501.99M326.94 493.69h2M326.94 501.99h2M335.86 498.42V506.72M334.86 498.42h2M334.86 506.72h2M343.78 504.90V511.54M342.78 504.90h2M342.78 511.54h2M351.70 509.71V516.35M350.70 509.71h2M350.70 516.35h2M359.62 513.61V518.59M358.62 513.61h2M358.62 518.59h2M383.38 513.61V518.59M382.38 513.61h2M382.38 518.59h2M430.90 516.27V521.25M429.90 516.27h2M429.90 521.25h2M478.42 509.88V516.52M477.42 509.88h2M477.42 516.52h2" stroke="#6A8AB8" stroke-width="0.6" fill="none"/>
<path d="M296.26 512.45V517.43M295.26 512.45h2M295.26 517.43h2M304.18 512.95V517.93M303.18 512.95h2M303.18 517.93h2M312.10 516.52V521.50M311.10 516.52h2M311.10 521.50h2M320.02 512.95V517.93M319.02 512.95h2M319.02 517.93h2M327.94 505.48V512.12M326.94 505.48h2M326.94 512.12h2M335.86 512.95V517.93M334.86 512.95h2M334.86 517.93h2M343.78 507.30V513.94M342.78 507.30h2M342.78 513.94h2M351.70 511.20V516.18M350.70 511.20h2M350.70 516.18h2M359.62 503.65V510.29M358.62 503.65h2M358.62 510.29h2M383.38 513.61V518.59M382.38 513.61h2M382.38 518.59h2M430.90 516.10V521.08M429.90 516.10h2M429.90 521.08h2M478.42 516.10V521.08M477.42 516.10h2M477.42 521.08h2" stroke="#8DB3E6" stroke-width="0.6" fill="none"/>
<path d="M296.26 512.12V518.76M295.26 512.12h2M295.26 518.76h2M304.18 485.56V495.52M303.18 485.56h2M303.18 495.52h2M312.10 488.71V498.67M311.10 488.71h2M311.10 498.67h2M320.02 496.60V506.56M319.02 496.60h2M319.02 506.56h2M327.94 497.59V507.55M326.94 497.59h2M326.94 507.55h2M335.86 498.34V508.30M334.86 498.34h2M334.86 508.30h2M343.78 504.48V514.44M342.78 504.48h2M342.78 514.44h2M351.70 500.83V510.79M350.70 500.83h2M350.70 510.79h2M359.62 504.81V514.77M358.62 504.81h2M358.62 514.77h2M383.38 499.09V509.05M382.38 499.09h2M382.38 509.05h2M430.90 489.13V500.75M429.90 489.13h2M429.90 500.75h2M478.42 480.41V493.69M477.42 480.41h2M477.42 493.69h2" stroke="#F9BC8C" stroke-width="0.6" fill="none"/>
<polyline points="296.26,505.81 304.18,497.01 312.10,497.01 320.02,479.92 327.94,478.42 335.86,486.39 343.78,490.54 351.70,496.18 359.62,494.94 383.38,503.32 430.90,502.08 478.42,501.33" fill="none" stroke="#000000" stroke-width="1.2" stroke-linejoin="round"/>
<rect x="295.06" y="504.61" width="2.4" height="2.4" fill="#000000" transform="rotate(45 296.26 505.81)"/>
<rect x="302.98" y="495.81" width="2.4" height="2.4" fill="#000000" transform="rotate(45 304.18 497.01)"/>
<rect x="310.90" y="495.81" width="2.4" height="2.4" fill="#000000" transform="rotate(45 312.10 497.01)"/>
<rect x="318.82" y="478.72" width="2.4" height="2.4" fill="#000000" transform="rotate(45 320.02 479.92)"/>
<rect x="326.74" y="477.22" width="2.4" height="2.4" fill="#000000" transform="rotate(45 327.94 478.42)"/>
<rect x="334.66" y="485.19" width="2.4" height="2.4" fill="#000000" transform="rotate(45 335.86 486.39)"/>
<rect x="342.58" y="489.34" width="2.4" height="2.4" fill="#000000" transform="rotate(45 343.78 490.54)"/>
<rect x="350.50" y="494.98" width="2.4" height="2.4" fill="#000000" transform="rotate(45 351.70 496.18)"/>
<rect x="358.42" y="493.74" width="2.4" height="2.4" fill="#000000" transform="rotate(45 359.62 494.94)"/>
<rect x="382.18" y="502.12" width="2.4" height="2.4" fill="#000000" transform="rotate(45 383.38 503.32)"/>
<rect x="429.70" y="500.88" width="2.4" height="2.4" fill="#000000" transform="rotate(45 430.90 502.08)"/>
<rect x="477.22" y="500.13" width="2.4" height="2.4" fill="#000000" transform="rotate(45 478.42 501.33)"/>
<polyline points="296.26,523.57 304.18,523.57 312.10,523.57 320.02,523.57 327.94,521.91 335.86,521.91 343.78,521.91 351.70,520.25 359.62,522.74 383.38,522.74 430.90,515.69 478.42,520.25" fill="none" stroke="#C0504D" stroke-width="1.2" stroke-linejoin="round"/>
<rect x="294.56" y="521.87" width="3.4" height="3.4" fill="#C0504D"/>
<rect x="302.48" y="521.87" width="3.4" height="3.4" fill="#C0504D"/>
<rect x="310.40" y="521.87" width="3.4" height="3.4" fill="#C0504D"/>
<rect x="318.32" y="521.87" width="3.4" height="3.4" fill="#C0504D"/>
<rect x="326.24" y="520.21" width="3.4" height="3.4" fill="#C0504D"/>
<rect x="334.16" y="520.21" width="3.4" height="3.4" fill="#C0504D"/>
<rect x="342.08" y="520.21" width="3.4" height="3.4" fill="#C0504D"/>
<rect x="350.00" y="518.55" width="3.4" height="3.4" fill="#C0504D"/>
<rect x="357.92" y="521.04" width="3.4" height="3.4" fill="#C0504D"/>
<rect x="381.68" y="521.04" width="3.4" height="3.4" fill="#C0504D"/>
<rect x="429.20" y="513.99" width="3.4" height="3.4" fill="#C0504D"/>
<rect x="476.72" y="518.55" width="3.4" height="3.4" fill="#C0504D"/>
<polyline points="296.26,523.57 304.18,523.57 312.10,523.57 320.02,523.57 327.94,523.57 335.86,523.57 343.78,523.57 351.70,523.57 359.62,523.57 383.38,523.57 430.90,523.57 478.42,523.57" fill="none" stroke="#E69A9A" stroke-width="1.2" stroke-linejoin="round"/>
<path d="M296.26 521.77L298.06 524.87L294.46 524.87Z" fill="#E69A9A"/>
<path d="M304.18 521.77L305.98 524.87L302.38 524.87Z" fill="#E69A9A"/>
<path d="M312.10 521.77L313.90 524.87L310.30 524.87Z" fill="#E69A9A"/>
<path d="M320.02 521.77L321.82 524.87L318.22 524.87Z" fill="#E69A9A"/>
<path d="M327.94 521.77L329.74 524.87L326.14 524.87Z" fill="#E69A9A"/>
<path d="M335.86 521.77L337.66 524.87L334.06 524.87Z" fill="#E69A9A"/>
<path d="M343.78 521.77L345.58 524.87L341.98 524.87Z" fill="#E69A9A"/>
<path d="M351.70 521.77L353.50 524.87L349.90 524.87Z" fill="#E69A9A"/>
<path d="M359.62 521.77L361.42 524.87L357.82 524.87Z" fill="#E69A9A"/>
<path d="M383.38 521.77L385.18 524.87L381.58 524.87Z" fill="#E69A9A"/>
<path d="M430.90 521.77L432.70 524.87L429.10 524.87Z" fill="#E69A9A"/>
<path d="M478.42 521.77L480.22 524.87L476.62 524.87Z" fill="#E69A9A"/>
<polyline points="296.26,521.91 304.18,521.91 312.10,521.91 320.02,521.91 327.94,521.91 335.86,521.08 343.78,521.08 351.70,520.25 359.62,521.08 383.38,521.08 430.90,521.08 478.42,521.08" fill="none" stroke="#8064A2" stroke-width="1.2" stroke-linejoin="round"/>
<path d="M294.66 520.31L297.86 523.51M297.86 520.31L294.66 523.51" stroke="#8064A2" stroke-width="0.9"/>
<path d="M302.58 520.31L305.78 523.51M305.78 520.31L302.58 523.51" stroke="#8064A2" stroke-width="0.9"/>
<path d="M310.50 520.31L313.70 523.51M313.70 520.31L310.50 523.51" stroke="#8064A2" stroke-width="0.9"/>
<path d="M318.42 520.31L321.62 523.51M321.62 520.31L318.42 523.51" stroke="#8064A2" stroke-width="0.9"/>
<path d="M326.34 520.31L329.54 523.51M329.54 520.31L326.34 523.51" stroke="#8064A2" stroke-width="0.9"/>
<path d="M334.26 519.48L337.46 522.68M337.46 519.48L334.26 522.68" stroke="#8064A2" stroke-width="0.9"/>
<path d="M342.18 519.48L345.38 522.68M345.38 519.48L342.18 522.68" stroke="#8064A2" stroke-width="0.9"/>
<path d="M350.10 518.65L353.30 521.85M353.30 518.65L350.10 521.85" stroke="#8064A2" stroke-width="0.9"/>
<path d="M358.02 519.48L361.22 522.68M361.22 519.48L358.02 522.68" stroke="#8064A2" stroke-width="0.9"/>
<path d="M381.78 519.48L384.98 522.68M384.98 519.48L381.78 522.68" stroke="#8064A2" stroke-width="0.9"/>
<path d="M429.30 519.48L432.50 522.68M432.50 519.48L429.30 522.68" stroke="#8064A2" stroke-width="0.9"/>
<path d="M476.82 519.48L480.02 522.68M480.02 519.48L476.82 522.68" stroke="#8064A2" stroke-width="0.9"/>
<polyline points="296.26,523.57 304.18,523.57 312.10,523.57 320.02,523.57 327.94,523.57 335.86,523.57 343.78,523.57 351.70,523.57 359.62,523.57 383.38,523.57 430.90,523.57 478.42,523.57" fill="none" stroke="#9BBB59" stroke-width="1.2" stroke-linejoin="round"/>
<rect x="294.56" y="521.87" width="3.4" height="3.4" fill="#9BBB59"/>
<rect x="302.48" y="521.87" width="3.4" height="3.4" fill="#9BBB59"/>
<rect x="310.40" y="521.87" width="3.4" height="3.4" fill="#9BBB59"/>
<rect x="318.32" y="521.87" width="3.4" height="3.4" fill="#9BBB59"/>
<rect x="326.24" y="521.87" width="3.4" height="3.4" fill="#9BBB59"/>
<rect x="334.16" y="521.87" width="3.4" height="3.4" fill="#9BBB59"/>
<rect x="342.08" y="521.87" width="3.4" height="3.4" fill="#9BBB59"/>
<rect x="350.00" y="521.87" width="3.4" height="3.4" fill="#9BBB59"/>
<rect x="357.92" y="521.87" width="3.4" height="3.4" fill="#9BBB59"/>
<rect x="381.68" y="521.87" width="3.4" height="3.4" fill="#9BBB59"/>
<rect x="429.20" y="521.87" width="3.4" height="3.4" fill="#9BBB59"/>
<rect x="476.72" y="521.87" width="3.4" height="3.4" fill="#9BBB59"/>
<polyline points="296.26,521.08 304.18,509.79 312.10,506.47 320.02,488.80 327.94,497.84 335.86,502.57 343.78,508.22 351.70,513.03 359.62,516.10 383.38,516.10 430.90,518.76 478.42,513.20" fill="none" stroke="#1F4E8C" stroke-width="1.2" stroke-linejoin="round"/>
<circle cx="296.26" cy="521.08" r="1.6" fill="#1F4E8C"/>
<circle cx="304.18" cy="509.79" r="1.6" fill="#1F4E8C"/>
<circle cx="312.10" cy="506.47" r="1.6" fill="#1F4E8C"/>
<circle cx="320.02" cy="488.80" r="1.6" fill="#1F4E8C"/>
<circle cx="327.94" cy="497.84" r="1.6" fill="#1F4E8C"/>
<circle cx="335.86" cy="502.57" r="1.6" fill="#1F4E8C"/>
<circle cx="343.78" cy="508.22" r="1.6" fill="#1F4E8C"/>
<circle cx="351.70" cy="513.03" r="1.6" fill="#1F4E8C"/>
<circle cx="359.62" cy="516.10" r="1.6" fill="#1F4E8C"/>
<circle cx="383.38" cy="516.10" r="1.6" fill="#1F4E8C"/>
<circle cx="430.90" cy="518.76" r="1.6" fill="#1F4E8C"/>
<circle cx="478.42" cy="513.20" r="1.6" fill="#1F4E8C"/>
<polyline points="296.26,514.94 304.18,515.44 312.10,519.01 320.02,515.44 327.94,508.80 335.86,515.44 343.78,510.62 351.70,513.69 359.62,506.97 383.38,516.10 430.90,518.59 478.42,518.59" fill="none" stroke="#4A86D4" stroke-width="1.2" stroke-linejoin="round"/>
<circle cx="296.26" cy="514.94" r="1.9" fill="#4A86D4"/>
<circle cx="304.18" cy="515.44" r="1.9" fill="#4A86D4"/>
<circle cx="312.10" cy="519.01" r="1.9" fill="#4A86D4"/>
<circle cx="320.02" cy="515.44" r="1.9" fill="#4A86D4"/>
<circle cx="327.94" cy="508.80" r="1.9" fill="#4A86D4"/>
<circle cx="335.86" cy="515.44" r="1.9" fill="#4A86D4"/>
<circle cx="343.78" cy="510.62" r="1.9" fill="#4A86D4"/>
<circle cx="351.70" cy="513.69" r="1.9" fill="#4A86D4"/>
<circle cx="359.62" cy="506.97" r="1.9" fill="#4A86D4"/>
<circle cx="383.38" cy="516.10" r="1.9" fill="#4A86D4"/>
<circle cx="430.90" cy="518.59" r="1.9" fill="#4A86D4"/>
<circle cx="478.42" cy="518.59" r="1.9" fill="#4A86D4"/>
<polyline points="296.26,515.44 304.18,490.54 312.10,493.69 320.02,501.58 327.94,502.57 335.86,503.32 343.78,509.46 351.70,505.81 359.62,509.79 383.38,504.07 430.90,494.94 478.42,487.05" fill="none" stroke="#F79646" stroke-width="1.2" stroke-linejoin="round"/>











</g><g fill="#222"><path d="M56.40 268.00h10.3" stroke="#000000" stroke-width="1.2"/>
<rect x="60.35" y="266.80" width="2.4" height="2.4" fill="#000000" transform="rotate(45 61.55 268.00)"/>
<text x="67.40" y="270.00" font-size="5.8">any interface</text>
<path d="M102.40 268.00h10.3" stroke="#C0504D" stroke-width="1.2"/>
<rect x="105.85" y="266.30" width="3.4" height="3.4" fill="#C0504D"/>
<text x="113.40" y="270.00" font-size="5.8">central</text>
<path d="M148.40 268.00h10.3" stroke="#E69A9A" stroke-width="1.2"/>
<path d="M153.55 266.20L155.35 269.30L151.75 269.30Z" fill="#E69A9A"/>
<text x="159.40" y="270.00" font-size="5.8">invagination</text>
<path d="M194.40 268.00h10.3" stroke="#8064A2" stroke-width="1.2"/>
<path d="M197.95 266.40L201.15 269.60M201.15 266.40L197.95 269.60" stroke="#8064A2" stroke-width="0.9"/>
<text x="205.40" y="270.00" font-size="5.8">diffuse</text>
<path d="M56.40 277.50h10.3" stroke="#9BBB59" stroke-width="1.2"/>
<rect x="59.85" y="275.80" width="3.4" height="3.4" fill="#9BBB59"/>
<text x="67.40" y="279.50" font-size="5.8">lamellal</text>
<path d="M102.40 277.50h10.3" stroke="#1F4E8C" stroke-width="1.2"/>
<circle cx="107.55" cy="277.50" r="1.6" fill="#1F4E8C"/>
<text x="113.40" y="279.50" font-size="5.8">peripheral</text>
<path d="M148.40 277.50h10.3" stroke="#4A86D4" stroke-width="1.2"/>
<circle cx="153.55" cy="277.50" r="1.9" fill="#4A86D4"/>
<text x="159.40" y="279.50" font-size="5.8">asymmetric</text></g><g fill="#222"><path d="M316.80 268.10h10.3" stroke="#000000" stroke-width="1.2"/>
<rect x="320.75" y="266.90" width="2.4" height="2.4" fill="#000000" transform="rotate(45 321.95 268.10)"/>
<text x="327.80" y="270.10" font-size="5.8">any interface</text>
<path d="M362.70 268.10h10.3" stroke="#C0504D" stroke-width="1.2"/>
<rect x="366.15" y="266.40" width="3.4" height="3.4" fill="#C0504D"/>
<text x="373.70" y="270.10" font-size="5.8">central</text>
<path d="M408.60 268.10h10.3" stroke="#E69A9A" stroke-width="1.2"/>
<path d="M413.75 266.30L415.55 269.40L411.95 269.40Z" fill="#E69A9A"/>
<text x="419.60" y="270.10" font-size="5.8">invagination</text>
<path d="M454.50 268.10h10.3" stroke="#8064A2" stroke-width="1.2"/>
<path d="M458.05 266.50L461.25 269.70M461.25 266.50L458.05 269.70" stroke="#8064A2" stroke-width="0.9"/>
<text x="465.50" y="270.10" font-size="5.8">diffuse</text>
<path d="M316.80 277.30h10.3" stroke="#9BBB59" stroke-width="1.2"/>
<rect x="320.25" y="275.60" width="3.4" height="3.4" fill="#9BBB59"/>
<text x="327.80" y="279.30" font-size="5.8">lamellal</text>
<path d="M362.70 277.30h10.3" stroke="#1F4E8C" stroke-width="1.2"/>
<circle cx="367.85" cy="277.30" r="1.6" fill="#1F4E8C"/>
<text x="373.70" y="279.30" font-size="5.8">peripheral</text>
<path d="M408.60 277.30h10.3" stroke="#4A86D4" stroke-width="1.2"/>
<circle cx="413.75" cy="277.30" r="1.9" fill="#4A86D4"/>
<text x="419.60" y="279.30" font-size="5.8">asymmetric</text>
<path d="M454.50 277.30h10.3" stroke="#F79646" stroke-width="1.2"/>

<text x="465.50" y="279.30" font-size="5.8">distal</text></g>
</svg>
</body></html>
